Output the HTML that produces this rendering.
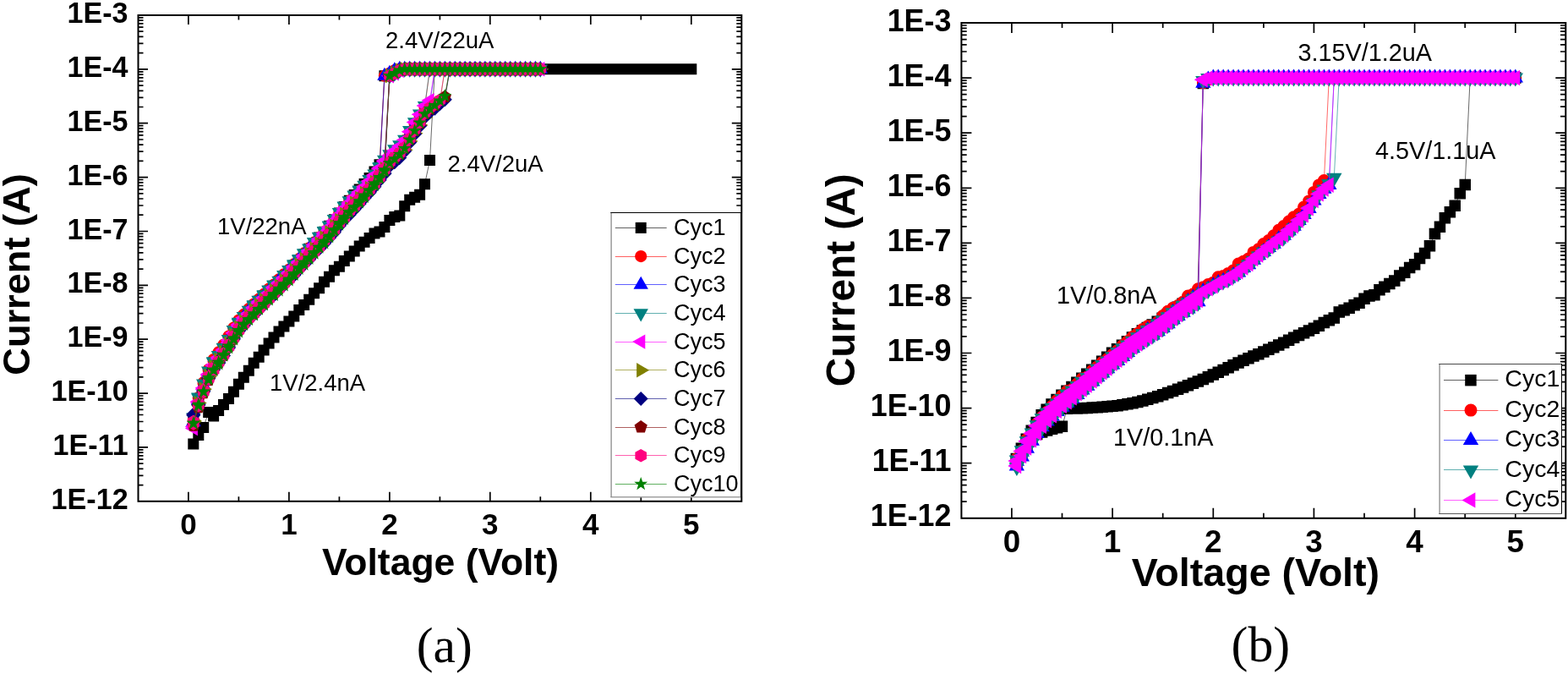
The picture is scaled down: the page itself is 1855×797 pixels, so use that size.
<!DOCTYPE html>
<html lang="en"><head><meta charset="utf-8"><title>I-V cycling characteristics</title>
<style>html,body{margin:0;padding:0;background:#fff;}body{width:1855px;height:797px;overflow:hidden;}svg{display:block;}text{white-space:pre;}</style></head><body>
<svg width="1855" height="797" viewBox="0 0 1855 797" role="img" aria-label="Current versus voltage cycling plots (a) and (b)">
<rect width="1855" height="797" fill="#fff"/>
<g id="plot-a">
<g>
<polyline fill="none" stroke="#000000" stroke-width="0.6" points="228.8,525 234.8,514.5 240.7,505.5 246.7,487.4 252.6,492 258.6,485.4 264.5,478.4 270.5,471.4 276.4,463.3 282.4,454.3 288.3,446.3 294.3,438.2 300.2,429.2 306.2,422.2 312.1,414.1 318.1,406.1 324,399.1 330,392 335.9,386 341.9,380 347.8,373.9 353.8,366.4 359.7,360.4 365.7,354.3 371.6,346.8 377.6,340.8 383.5,333.3 389.5,327.2 395.4,319.7 401.4,315.2 407.3,308.4 413.3,303.1 419.2,297.1 425.2,291 431.1,286.3 437.1,281.4 443,276 449,273.9 454.9,268.5 460.9,260.4 466.8,256.6 472.8,255.1 478.7,243.8 484.7,236.3 490.6,233.3 496.6,230.2 502.5,217.7 508.5,189.6 514.4,81.7 520.4,81.7 526.3,81.7 532.2,81.7 538.2,81.7 544.1,81.7 550.1,81.7 556,81.7 562,81.7 567.9,81.7 573.9,81.7 579.8,81.7 585.8,81.7 591.7,81.7 597.7,81.7 603.6,81.7 609.6,81.7 615.5,81.7 621.5,81.7 627.4,81.7 633.4,81.7 639.3,81.7 645.3,81.7 651.2,81.7 657.2,81.7 663.1,81.7 669.1,81.7 675,81.7 681,81.7 686.9,81.7 692.9,81.7 698.8,81.7 704.8,81.7 710.7,81.7 716.7,81.7 722.6,81.7 728.6,81.7 734.5,81.7 740.5,81.7 746.4,81.7 752.4,81.7 758.3,81.7 764.3,81.7 770.2,81.7 776.2,81.7 782.1,81.7 788.1,81.7 794,81.7 800,81.7 805.9,81.7 811.9,81.7 817.8,81.7"/>
<polyline fill="none" stroke="#000000" stroke-width="0.6" points="454.9,89.7 449,194.8 443,203 437.1,210.6 431.1,217.5 425.2,224.1 419.2,230.6 413.3,237.3 407.3,244.5 401.4,252 395.4,259.7 389.5,267.2 383.5,274.3 377.6,281.1 371.6,287.6 365.7,294.2 359.7,300.9 353.8,307.6 347.8,314.3 341.9,320.9 335.9,327.1 330,333 324,338.7 318.1,344.5 312.1,350.3 306.2,356.3 300.2,362.3 294.3,368.4 288.3,375 282.4,382.6 276.4,391.7 270.5,401.8 264.5,411.8 258.6,421 252.6,429.6 246.7,440.8 240.7,456.6 234.8,473.5 228.8,498"/>
<path fill="#000000" d="M222.3 518.5h13v13h-13ZM228.3 508h13v13h-13ZM234.2 499h13v13h-13ZM240.2 480.9h13v13h-13ZM246.1 485.5h13v13h-13ZM252.1 478.9h13v13h-13ZM258 471.9h13v13h-13ZM264 464.9h13v13h-13ZM269.9 456.8h13v13h-13ZM275.9 447.8h13v13h-13ZM281.8 439.8h13v13h-13ZM287.8 431.7h13v13h-13ZM293.7 422.7h13v13h-13ZM299.7 415.7h13v13h-13ZM305.6 407.6h13v13h-13ZM311.6 399.6h13v13h-13ZM317.5 392.6h13v13h-13ZM323.5 385.5h13v13h-13ZM329.4 379.5h13v13h-13ZM335.4 373.5h13v13h-13ZM341.3 367.4h13v13h-13ZM347.3 359.9h13v13h-13ZM353.2 353.9h13v13h-13ZM359.2 347.8h13v13h-13ZM365.1 340.3h13v13h-13ZM371.1 334.3h13v13h-13ZM377 326.8h13v13h-13ZM383 320.7h13v13h-13ZM388.9 313.2h13v13h-13ZM394.9 308.7h13v13h-13ZM400.8 301.9h13v13h-13ZM406.8 296.6h13v13h-13ZM412.7 290.6h13v13h-13ZM418.7 284.5h13v13h-13ZM424.6 279.8h13v13h-13ZM430.6 274.9h13v13h-13ZM436.5 269.5h13v13h-13ZM442.5 267.4h13v13h-13ZM448.4 262h13v13h-13ZM454.4 253.9h13v13h-13ZM460.3 250.1h13v13h-13ZM466.3 248.6h13v13h-13ZM472.2 237.3h13v13h-13ZM478.2 229.8h13v13h-13ZM484.1 226.8h13v13h-13ZM490.1 223.7h13v13h-13ZM496 211.2h13v13h-13ZM502 183.1h13v13h-13ZM507.9 75.2h13v13h-13ZM513.9 75.2h13v13h-13ZM519.8 75.2h13v13h-13ZM525.7 75.2h13v13h-13ZM531.7 75.2h13v13h-13ZM537.6 75.2h13v13h-13ZM543.6 75.2h13v13h-13ZM549.5 75.2h13v13h-13ZM555.5 75.2h13v13h-13ZM561.4 75.2h13v13h-13ZM567.4 75.2h13v13h-13ZM573.3 75.2h13v13h-13ZM579.3 75.2h13v13h-13ZM585.2 75.2h13v13h-13ZM591.2 75.2h13v13h-13ZM597.1 75.2h13v13h-13ZM603.1 75.2h13v13h-13ZM609 75.2h13v13h-13ZM615 75.2h13v13h-13ZM620.9 75.2h13v13h-13ZM626.9 75.2h13v13h-13ZM632.8 75.2h13v13h-13ZM638.8 75.2h13v13h-13ZM644.7 75.2h13v13h-13ZM650.7 75.2h13v13h-13ZM656.6 75.2h13v13h-13ZM662.6 75.2h13v13h-13ZM668.5 75.2h13v13h-13ZM674.5 75.2h13v13h-13ZM680.4 75.2h13v13h-13ZM686.4 75.2h13v13h-13ZM692.3 75.2h13v13h-13ZM698.3 75.2h13v13h-13ZM704.2 75.2h13v13h-13ZM710.2 75.2h13v13h-13ZM716.1 75.2h13v13h-13ZM722.1 75.2h13v13h-13ZM728 75.2h13v13h-13ZM734 75.2h13v13h-13ZM739.9 75.2h13v13h-13ZM745.9 75.2h13v13h-13ZM751.8 75.2h13v13h-13ZM757.8 75.2h13v13h-13ZM763.7 75.2h13v13h-13ZM769.7 75.2h13v13h-13ZM775.6 75.2h13v13h-13ZM781.6 75.2h13v13h-13ZM787.5 75.2h13v13h-13ZM793.5 75.2h13v13h-13ZM799.4 75.2h13v13h-13ZM805.4 75.2h13v13h-13ZM811.3 75.2h13v13h-13ZM448.4 83.2h13v13h-13ZM442.5 188.3h13v13h-13ZM436.5 196.5h13v13h-13ZM430.6 204.1h13v13h-13ZM424.6 211h13v13h-13ZM418.7 217.6h13v13h-13ZM412.7 224.1h13v13h-13ZM406.8 230.8h13v13h-13ZM400.8 238h13v13h-13ZM394.9 245.5h13v13h-13ZM388.9 253.2h13v13h-13ZM383 260.7h13v13h-13ZM377 267.8h13v13h-13ZM371.1 274.6h13v13h-13ZM365.1 281.1h13v13h-13ZM359.2 287.7h13v13h-13ZM353.2 294.4h13v13h-13ZM347.3 301.1h13v13h-13ZM341.3 307.8h13v13h-13ZM335.4 314.4h13v13h-13ZM329.4 320.6h13v13h-13ZM323.5 326.5h13v13h-13ZM317.5 332.2h13v13h-13ZM311.6 338h13v13h-13ZM305.6 343.8h13v13h-13ZM299.7 349.8h13v13h-13ZM293.7 355.8h13v13h-13ZM287.8 361.9h13v13h-13ZM281.8 368.5h13v13h-13ZM275.9 376.1h13v13h-13ZM269.9 385.2h13v13h-13ZM264 395.3h13v13h-13ZM258 405.3h13v13h-13ZM252.1 414.5h13v13h-13ZM246.1 423.1h13v13h-13ZM240.2 434.3h13v13h-13ZM234.2 450.1h13v13h-13ZM228.3 467h13v13h-13ZM222.3 491.5h13v13h-13Z"/>
</g>
<g>
<polyline fill="none" stroke="#ff0000" stroke-width="0.6" points="228.8,498.1 234.8,470.8 240.7,453.4 246.7,437.8 252.6,427.1 258.6,418.6 264.5,408.4 270.5,398.6 276.4,388.5 282.4,380.1 288.3,372.1 294.3,366.2 300.2,360.5 306.2,354.1 312.1,348.8 318.1,343 324,336.6 330,331.7 335.9,325.6 341.9,319.8 347.8,313.2 353.8,307.4 359.7,300.6 365.7,293.7 371.6,288 377.6,282 383.5,274.8 389.5,267.8 395.4,260.8 401.4,254.1 407.3,246.9 413.3,239.6 419.2,233.7 425.2,227.6 431.1,220.8 437.1,214 443,207.8 449,199.9 454.9,191.3 460.9,183.8 466.8,178.8 472.8,173.6 478.7,166 484.7,156.3 490.6,146.7 496.6,137.5 502.5,127.1 508.5,81.7 514.4,81.7 520.4,81.7 526.3,81.7 532.2,81.7 538.2,81.7 544.1,81.7 550.1,81.7 556,81.7 562,81.7 567.9,81.7 573.9,81.7 579.8,81.7 585.8,81.7 591.7,81.7 597.7,81.7 603.6,81.7 609.6,81.7 615.5,81.7 621.5,81.7 627.4,81.7 633.4,81.7 639.3,81.7"/>
<polyline fill="none" stroke="#ff0000" stroke-width="0.6" points="639.3,81.7 633.4,81.7 627.4,81.7 621.5,81.7 615.5,81.7 609.6,81.7 603.6,81.7 597.7,81.7 591.7,81.7 585.8,81.7 579.8,81.7 573.9,81.7 567.9,81.7 562,81.7 556,81.7 550.1,81.7 544.1,81.7 538.2,81.7 532.2,81.7 526.3,81.7 520.4,81.7 514.4,81.7 508.5,81.7 502.5,81.7 496.6,81.7 490.6,81.7 484.7,81.7 478.7,81.7 472.8,81.7 466.8,83.2 460.9,86.7 454.9,89.7 449,198.5 443,206.2 437.1,213.5 431.1,219.6 425.2,225.7 419.2,232.2 413.3,237.7 407.3,245.2 401.4,252.3 395.4,260.2 389.5,267.6 383.5,274.3 377.6,280.8 371.6,286.7 365.7,293.4 359.7,299.4 353.8,306.2 347.8,312.3 341.9,318.8 335.9,324.3 330,330.3 324,336.9 318.1,341.5 312.1,347.9 306.2,353.7 300.2,359.6 294.3,365.2 288.3,371.9 282.4,378.5 276.4,387.6 270.5,397.6 264.5,407.5 258.6,416.4 252.6,425 246.7,436.9 240.7,452.2 234.8,470.1 228.8,497.3"/>
<path fill="#ff0000" d="M221.7 498.1a7.1 7.1 0 1 0 14.2 0a7.1 7.1 0 1 0 -14.2 0ZM227.7 470.8a7.1 7.1 0 1 0 14.2 0a7.1 7.1 0 1 0 -14.2 0ZM233.6 453.4a7.1 7.1 0 1 0 14.2 0a7.1 7.1 0 1 0 -14.2 0ZM239.6 437.8a7.1 7.1 0 1 0 14.2 0a7.1 7.1 0 1 0 -14.2 0ZM245.5 427.1a7.1 7.1 0 1 0 14.2 0a7.1 7.1 0 1 0 -14.2 0ZM251.5 418.6a7.1 7.1 0 1 0 14.2 0a7.1 7.1 0 1 0 -14.2 0ZM257.4 408.4a7.1 7.1 0 1 0 14.2 0a7.1 7.1 0 1 0 -14.2 0ZM263.4 398.6a7.1 7.1 0 1 0 14.2 0a7.1 7.1 0 1 0 -14.2 0ZM269.3 388.5a7.1 7.1 0 1 0 14.2 0a7.1 7.1 0 1 0 -14.2 0ZM275.3 380.1a7.1 7.1 0 1 0 14.2 0a7.1 7.1 0 1 0 -14.2 0ZM281.2 372.1a7.1 7.1 0 1 0 14.2 0a7.1 7.1 0 1 0 -14.2 0ZM287.2 366.2a7.1 7.1 0 1 0 14.2 0a7.1 7.1 0 1 0 -14.2 0ZM293.1 360.5a7.1 7.1 0 1 0 14.2 0a7.1 7.1 0 1 0 -14.2 0ZM299.1 354.1a7.1 7.1 0 1 0 14.2 0a7.1 7.1 0 1 0 -14.2 0ZM305 348.8a7.1 7.1 0 1 0 14.2 0a7.1 7.1 0 1 0 -14.2 0ZM311 343a7.1 7.1 0 1 0 14.2 0a7.1 7.1 0 1 0 -14.2 0ZM316.9 336.6a7.1 7.1 0 1 0 14.2 0a7.1 7.1 0 1 0 -14.2 0ZM322.9 331.7a7.1 7.1 0 1 0 14.2 0a7.1 7.1 0 1 0 -14.2 0ZM328.8 325.6a7.1 7.1 0 1 0 14.2 0a7.1 7.1 0 1 0 -14.2 0ZM334.8 319.8a7.1 7.1 0 1 0 14.2 0a7.1 7.1 0 1 0 -14.2 0ZM340.7 313.2a7.1 7.1 0 1 0 14.2 0a7.1 7.1 0 1 0 -14.2 0ZM346.7 307.4a7.1 7.1 0 1 0 14.2 0a7.1 7.1 0 1 0 -14.2 0ZM352.6 300.6a7.1 7.1 0 1 0 14.2 0a7.1 7.1 0 1 0 -14.2 0ZM358.6 293.7a7.1 7.1 0 1 0 14.2 0a7.1 7.1 0 1 0 -14.2 0ZM364.5 288a7.1 7.1 0 1 0 14.2 0a7.1 7.1 0 1 0 -14.2 0ZM370.5 282a7.1 7.1 0 1 0 14.2 0a7.1 7.1 0 1 0 -14.2 0ZM376.4 274.8a7.1 7.1 0 1 0 14.2 0a7.1 7.1 0 1 0 -14.2 0ZM382.4 267.8a7.1 7.1 0 1 0 14.2 0a7.1 7.1 0 1 0 -14.2 0ZM388.3 260.8a7.1 7.1 0 1 0 14.2 0a7.1 7.1 0 1 0 -14.2 0ZM394.3 254.1a7.1 7.1 0 1 0 14.2 0a7.1 7.1 0 1 0 -14.2 0ZM400.2 246.9a7.1 7.1 0 1 0 14.2 0a7.1 7.1 0 1 0 -14.2 0ZM406.2 239.6a7.1 7.1 0 1 0 14.2 0a7.1 7.1 0 1 0 -14.2 0ZM412.1 233.7a7.1 7.1 0 1 0 14.2 0a7.1 7.1 0 1 0 -14.2 0ZM418.1 227.6a7.1 7.1 0 1 0 14.2 0a7.1 7.1 0 1 0 -14.2 0ZM424 220.8a7.1 7.1 0 1 0 14.2 0a7.1 7.1 0 1 0 -14.2 0ZM430 214a7.1 7.1 0 1 0 14.2 0a7.1 7.1 0 1 0 -14.2 0ZM435.9 207.8a7.1 7.1 0 1 0 14.2 0a7.1 7.1 0 1 0 -14.2 0ZM441.9 199.9a7.1 7.1 0 1 0 14.2 0a7.1 7.1 0 1 0 -14.2 0ZM447.8 191.3a7.1 7.1 0 1 0 14.2 0a7.1 7.1 0 1 0 -14.2 0ZM453.8 183.8a7.1 7.1 0 1 0 14.2 0a7.1 7.1 0 1 0 -14.2 0ZM459.7 178.8a7.1 7.1 0 1 0 14.2 0a7.1 7.1 0 1 0 -14.2 0ZM465.7 173.6a7.1 7.1 0 1 0 14.2 0a7.1 7.1 0 1 0 -14.2 0ZM471.6 166a7.1 7.1 0 1 0 14.2 0a7.1 7.1 0 1 0 -14.2 0ZM477.6 156.3a7.1 7.1 0 1 0 14.2 0a7.1 7.1 0 1 0 -14.2 0ZM483.5 146.7a7.1 7.1 0 1 0 14.2 0a7.1 7.1 0 1 0 -14.2 0ZM489.5 137.5a7.1 7.1 0 1 0 14.2 0a7.1 7.1 0 1 0 -14.2 0ZM495.4 127.1a7.1 7.1 0 1 0 14.2 0a7.1 7.1 0 1 0 -14.2 0ZM501.4 81.7a7.1 7.1 0 1 0 14.2 0a7.1 7.1 0 1 0 -14.2 0ZM507.3 81.7a7.1 7.1 0 1 0 14.2 0a7.1 7.1 0 1 0 -14.2 0ZM513.2 81.7a7.1 7.1 0 1 0 14.2 0a7.1 7.1 0 1 0 -14.2 0ZM519.2 81.7a7.1 7.1 0 1 0 14.2 0a7.1 7.1 0 1 0 -14.2 0ZM525.1 81.7a7.1 7.1 0 1 0 14.2 0a7.1 7.1 0 1 0 -14.2 0ZM531.1 81.7a7.1 7.1 0 1 0 14.2 0a7.1 7.1 0 1 0 -14.2 0ZM537 81.7a7.1 7.1 0 1 0 14.2 0a7.1 7.1 0 1 0 -14.2 0ZM543 81.7a7.1 7.1 0 1 0 14.2 0a7.1 7.1 0 1 0 -14.2 0ZM548.9 81.7a7.1 7.1 0 1 0 14.2 0a7.1 7.1 0 1 0 -14.2 0ZM554.9 81.7a7.1 7.1 0 1 0 14.2 0a7.1 7.1 0 1 0 -14.2 0ZM560.8 81.7a7.1 7.1 0 1 0 14.2 0a7.1 7.1 0 1 0 -14.2 0ZM566.8 81.7a7.1 7.1 0 1 0 14.2 0a7.1 7.1 0 1 0 -14.2 0ZM572.7 81.7a7.1 7.1 0 1 0 14.2 0a7.1 7.1 0 1 0 -14.2 0ZM578.7 81.7a7.1 7.1 0 1 0 14.2 0a7.1 7.1 0 1 0 -14.2 0ZM584.6 81.7a7.1 7.1 0 1 0 14.2 0a7.1 7.1 0 1 0 -14.2 0ZM590.6 81.7a7.1 7.1 0 1 0 14.2 0a7.1 7.1 0 1 0 -14.2 0ZM596.5 81.7a7.1 7.1 0 1 0 14.2 0a7.1 7.1 0 1 0 -14.2 0ZM602.5 81.7a7.1 7.1 0 1 0 14.2 0a7.1 7.1 0 1 0 -14.2 0ZM608.4 81.7a7.1 7.1 0 1 0 14.2 0a7.1 7.1 0 1 0 -14.2 0ZM614.4 81.7a7.1 7.1 0 1 0 14.2 0a7.1 7.1 0 1 0 -14.2 0ZM620.3 81.7a7.1 7.1 0 1 0 14.2 0a7.1 7.1 0 1 0 -14.2 0ZM626.3 81.7a7.1 7.1 0 1 0 14.2 0a7.1 7.1 0 1 0 -14.2 0ZM632.2 81.7a7.1 7.1 0 1 0 14.2 0a7.1 7.1 0 1 0 -14.2 0ZM495.4 81.7a7.1 7.1 0 1 0 14.2 0a7.1 7.1 0 1 0 -14.2 0ZM489.5 81.7a7.1 7.1 0 1 0 14.2 0a7.1 7.1 0 1 0 -14.2 0ZM483.5 81.7a7.1 7.1 0 1 0 14.2 0a7.1 7.1 0 1 0 -14.2 0ZM477.6 81.7a7.1 7.1 0 1 0 14.2 0a7.1 7.1 0 1 0 -14.2 0ZM471.6 81.7a7.1 7.1 0 1 0 14.2 0a7.1 7.1 0 1 0 -14.2 0ZM465.7 81.7a7.1 7.1 0 1 0 14.2 0a7.1 7.1 0 1 0 -14.2 0ZM459.7 83.2a7.1 7.1 0 1 0 14.2 0a7.1 7.1 0 1 0 -14.2 0ZM453.8 86.7a7.1 7.1 0 1 0 14.2 0a7.1 7.1 0 1 0 -14.2 0ZM447.8 89.7a7.1 7.1 0 1 0 14.2 0a7.1 7.1 0 1 0 -14.2 0ZM441.9 198.5a7.1 7.1 0 1 0 14.2 0a7.1 7.1 0 1 0 -14.2 0ZM435.9 206.2a7.1 7.1 0 1 0 14.2 0a7.1 7.1 0 1 0 -14.2 0ZM430 213.5a7.1 7.1 0 1 0 14.2 0a7.1 7.1 0 1 0 -14.2 0ZM424 219.6a7.1 7.1 0 1 0 14.2 0a7.1 7.1 0 1 0 -14.2 0ZM418.1 225.7a7.1 7.1 0 1 0 14.2 0a7.1 7.1 0 1 0 -14.2 0ZM412.1 232.2a7.1 7.1 0 1 0 14.2 0a7.1 7.1 0 1 0 -14.2 0ZM406.2 237.7a7.1 7.1 0 1 0 14.2 0a7.1 7.1 0 1 0 -14.2 0ZM400.2 245.2a7.1 7.1 0 1 0 14.2 0a7.1 7.1 0 1 0 -14.2 0ZM394.3 252.3a7.1 7.1 0 1 0 14.2 0a7.1 7.1 0 1 0 -14.2 0ZM388.3 260.2a7.1 7.1 0 1 0 14.2 0a7.1 7.1 0 1 0 -14.2 0ZM382.4 267.6a7.1 7.1 0 1 0 14.2 0a7.1 7.1 0 1 0 -14.2 0ZM376.4 274.3a7.1 7.1 0 1 0 14.2 0a7.1 7.1 0 1 0 -14.2 0ZM370.5 280.8a7.1 7.1 0 1 0 14.2 0a7.1 7.1 0 1 0 -14.2 0ZM364.5 286.7a7.1 7.1 0 1 0 14.2 0a7.1 7.1 0 1 0 -14.2 0ZM358.6 293.4a7.1 7.1 0 1 0 14.2 0a7.1 7.1 0 1 0 -14.2 0ZM352.6 299.4a7.1 7.1 0 1 0 14.2 0a7.1 7.1 0 1 0 -14.2 0ZM346.7 306.2a7.1 7.1 0 1 0 14.2 0a7.1 7.1 0 1 0 -14.2 0ZM340.7 312.3a7.1 7.1 0 1 0 14.2 0a7.1 7.1 0 1 0 -14.2 0ZM334.8 318.8a7.1 7.1 0 1 0 14.2 0a7.1 7.1 0 1 0 -14.2 0ZM328.8 324.3a7.1 7.1 0 1 0 14.2 0a7.1 7.1 0 1 0 -14.2 0ZM322.9 330.3a7.1 7.1 0 1 0 14.2 0a7.1 7.1 0 1 0 -14.2 0ZM316.9 336.9a7.1 7.1 0 1 0 14.2 0a7.1 7.1 0 1 0 -14.2 0ZM311 341.5a7.1 7.1 0 1 0 14.2 0a7.1 7.1 0 1 0 -14.2 0ZM305 347.9a7.1 7.1 0 1 0 14.2 0a7.1 7.1 0 1 0 -14.2 0ZM299.1 353.7a7.1 7.1 0 1 0 14.2 0a7.1 7.1 0 1 0 -14.2 0ZM293.1 359.6a7.1 7.1 0 1 0 14.2 0a7.1 7.1 0 1 0 -14.2 0ZM287.2 365.2a7.1 7.1 0 1 0 14.2 0a7.1 7.1 0 1 0 -14.2 0ZM281.2 371.9a7.1 7.1 0 1 0 14.2 0a7.1 7.1 0 1 0 -14.2 0ZM275.3 378.5a7.1 7.1 0 1 0 14.2 0a7.1 7.1 0 1 0 -14.2 0ZM269.3 387.6a7.1 7.1 0 1 0 14.2 0a7.1 7.1 0 1 0 -14.2 0ZM263.4 397.6a7.1 7.1 0 1 0 14.2 0a7.1 7.1 0 1 0 -14.2 0ZM257.4 407.5a7.1 7.1 0 1 0 14.2 0a7.1 7.1 0 1 0 -14.2 0ZM251.5 416.4a7.1 7.1 0 1 0 14.2 0a7.1 7.1 0 1 0 -14.2 0ZM245.5 425a7.1 7.1 0 1 0 14.2 0a7.1 7.1 0 1 0 -14.2 0ZM239.6 436.9a7.1 7.1 0 1 0 14.2 0a7.1 7.1 0 1 0 -14.2 0ZM233.6 452.2a7.1 7.1 0 1 0 14.2 0a7.1 7.1 0 1 0 -14.2 0ZM227.7 470.1a7.1 7.1 0 1 0 14.2 0a7.1 7.1 0 1 0 -14.2 0ZM221.7 497.3a7.1 7.1 0 1 0 14.2 0a7.1 7.1 0 1 0 -14.2 0Z"/>
</g>
<g>
<polyline fill="none" stroke="#0000ff" stroke-width="0.6" points="228.8,499.1 234.8,473.8 240.7,456.6 246.7,441.9 252.6,430.8 258.6,422.3 264.5,412.7 270.5,403.1 276.4,392.9 282.4,383.5 288.3,376.2 294.3,369.1 300.2,362.6 306.2,356.8 312.1,350.2 318.1,344.3 324,339.2 330,333.5 335.9,327.8 341.9,321.4 347.8,314.7 353.8,307.7 359.7,301.9 365.7,296.1 371.6,289.7 377.6,283 383.5,276.6 389.5,269.5 395.4,262.2 401.4,254.7 407.3,248.7 413.3,241.5 419.2,234.6 425.2,229 431.1,222.4 437.1,216.2 443,209.9 449,202 454.9,193.5 460.9,185.9 466.8,181.1 472.8,176.3 478.7,168.3 484.7,158 490.6,148.2 496.6,138.4 502.5,129.6 508.5,122.6 514.4,81.7 520.4,81.7 526.3,81.7 532.2,81.7 538.2,81.7 544.1,81.7 550.1,81.7 556,81.7 562,81.7 567.9,81.7 573.9,81.7 579.8,81.7 585.8,81.7 591.7,81.7 597.7,81.7 603.6,81.7 609.6,81.7 615.5,81.7 621.5,81.7 627.4,81.7 633.4,81.7 639.3,81.7"/>
<polyline fill="none" stroke="#0000ff" stroke-width="0.6" points="639.3,81.7 633.4,81.7 627.4,81.7 621.5,81.7 615.5,81.7 609.6,81.7 603.6,81.7 597.7,81.7 591.7,81.7 585.8,81.7 579.8,81.7 573.9,81.7 567.9,81.7 562,81.7 556,81.7 550.1,81.7 544.1,81.7 538.2,81.7 532.2,81.7 526.3,81.7 520.4,81.7 514.4,81.7 508.5,81.7 502.5,81.7 496.6,81.7 490.6,81.7 484.7,81.7 478.7,81.7 472.8,81.7 466.8,83.2 460.9,86.7 454.9,89.7 449,201.3 443,208.1 437.1,215.2 431.1,222.3 425.2,228.7 419.2,233.9 413.3,239.7 407.3,247.6 401.4,254 395.4,262 389.5,268.4 383.5,275.9 377.6,282.5 371.6,288.6 365.7,294.3 359.7,301.2 353.8,306.8 347.8,313.4 341.9,319.8 335.9,326.7 330,331.6 324,338.5 318.1,344.2 312.1,350.3 306.2,355.6 300.2,361.3 294.3,367.6 288.3,375.1 282.4,383 276.4,391.8 270.5,401.6 264.5,411.5 258.6,421.5 252.6,429.8 246.7,439.7 240.7,455.5 234.8,473 228.8,498.5"/>
<path fill="#0000ff" d="M228.8 489.1L237.5 504.2L220.1 504.2ZM234.8 463.8L243.5 478.9L226.1 478.9ZM240.7 446.6L249.4 461.7L232 461.7ZM246.7 431.9L255.4 447L238 447ZM252.6 420.8L261.3 435.9L243.9 435.9ZM258.6 412.3L267.3 427.4L249.9 427.4ZM264.5 402.7L273.2 417.8L255.8 417.8ZM270.5 393.1L279.2 408.2L261.8 408.2ZM276.4 382.9L285.1 398L267.7 398ZM282.4 373.5L291.1 388.6L273.7 388.6ZM288.3 366.2L297 381.3L279.6 381.3ZM294.3 359.1L303 374.2L285.6 374.2ZM300.2 352.6L308.9 367.7L291.5 367.7ZM306.2 346.8L314.9 361.9L297.5 361.9ZM312.1 340.2L320.8 355.3L303.4 355.3ZM318.1 334.3L326.8 349.4L309.4 349.4ZM324 329.2L332.7 344.3L315.3 344.3ZM330 323.5L338.7 338.6L321.3 338.6ZM335.9 317.8L344.6 332.9L327.2 332.9ZM341.9 311.4L350.6 326.5L333.2 326.5ZM347.8 304.7L356.5 319.8L339.1 319.8ZM353.8 297.7L362.5 312.8L345.1 312.8ZM359.7 291.9L368.4 307L351 307ZM365.7 286.1L374.4 301.2L357 301.2ZM371.6 279.7L380.3 294.8L362.9 294.8ZM377.6 273L386.3 288.1L368.9 288.1ZM383.5 266.6L392.2 281.7L374.8 281.7ZM389.5 259.5L398.2 274.6L380.8 274.6ZM395.4 252.2L404.1 267.3L386.7 267.3ZM401.4 244.7L410.1 259.8L392.7 259.8ZM407.3 238.7L416 253.8L398.6 253.8ZM413.3 231.5L422 246.6L404.6 246.6ZM419.2 224.6L427.9 239.7L410.5 239.7ZM425.2 219L433.9 234.1L416.5 234.1ZM431.1 212.4L439.8 227.5L422.4 227.5ZM437.1 206.2L445.8 221.3L428.4 221.3ZM443 199.9L451.7 215L434.3 215ZM449 192L457.7 207.1L440.3 207.1ZM454.9 183.5L463.6 198.6L446.2 198.6ZM460.9 175.9L469.6 191L452.2 191ZM466.8 171.1L475.5 186.2L458.1 186.2ZM472.8 166.3L481.5 181.4L464.1 181.4ZM478.7 158.3L487.4 173.4L470 173.4ZM484.7 148L493.4 163.1L476 163.1ZM490.6 138.2L499.3 153.3L481.9 153.3ZM496.6 128.4L505.3 143.5L487.9 143.5ZM502.5 119.6L511.2 134.7L493.8 134.7ZM508.5 112.6L517.2 127.7L499.8 127.7ZM514.4 71.7L523.1 86.8L505.7 86.8ZM520.4 71.7L529.1 86.8L511.7 86.8ZM526.3 71.7L535 86.8L517.6 86.8ZM532.2 71.7L540.9 86.8L523.5 86.8ZM538.2 71.7L546.9 86.8L529.5 86.8ZM544.1 71.7L552.8 86.8L535.4 86.8ZM550.1 71.7L558.8 86.8L541.4 86.8ZM556 71.7L564.7 86.8L547.3 86.8ZM562 71.7L570.7 86.8L553.3 86.8ZM567.9 71.7L576.6 86.8L559.2 86.8ZM573.9 71.7L582.6 86.8L565.2 86.8ZM579.8 71.7L588.5 86.8L571.1 86.8ZM585.8 71.7L594.5 86.8L577.1 86.8ZM591.7 71.7L600.4 86.8L583 86.8ZM597.7 71.7L606.4 86.8L589 86.8ZM603.6 71.7L612.3 86.8L594.9 86.8ZM609.6 71.7L618.3 86.8L600.9 86.8ZM615.5 71.7L624.2 86.8L606.8 86.8ZM621.5 71.7L630.2 86.8L612.8 86.8ZM627.4 71.7L636.1 86.8L618.7 86.8ZM633.4 71.7L642.1 86.8L624.7 86.8ZM639.3 71.7L648 86.8L630.6 86.8ZM508.5 71.7L517.2 86.8L499.8 86.8ZM502.5 71.7L511.2 86.8L493.8 86.8ZM496.6 71.7L505.3 86.8L487.9 86.8ZM490.6 71.7L499.3 86.8L481.9 86.8ZM484.7 71.7L493.4 86.8L476 86.8ZM478.7 71.7L487.4 86.8L470 86.8ZM472.8 71.7L481.5 86.8L464.1 86.8ZM466.8 73.2L475.5 88.3L458.1 88.3ZM460.9 76.7L469.6 91.8L452.2 91.8ZM454.9 79.7L463.6 94.8L446.2 94.8ZM449 191.3L457.7 206.4L440.3 206.4ZM443 198.1L451.7 213.2L434.3 213.2ZM437.1 205.2L445.8 220.3L428.4 220.3ZM431.1 212.3L439.8 227.4L422.4 227.4ZM425.2 218.7L433.9 233.8L416.5 233.8ZM419.2 223.9L427.9 239L410.5 239ZM413.3 229.7L422 244.8L404.6 244.8ZM407.3 237.6L416 252.7L398.6 252.7ZM401.4 244L410.1 259.1L392.7 259.1ZM395.4 252L404.1 267.1L386.7 267.1ZM389.5 258.4L398.2 273.5L380.8 273.5ZM383.5 265.9L392.2 281L374.8 281ZM377.6 272.5L386.3 287.6L368.9 287.6ZM371.6 278.6L380.3 293.7L362.9 293.7ZM365.7 284.3L374.4 299.4L357 299.4ZM359.7 291.2L368.4 306.3L351 306.3ZM353.8 296.8L362.5 311.9L345.1 311.9ZM347.8 303.4L356.5 318.5L339.1 318.5ZM341.9 309.8L350.6 324.9L333.2 324.9ZM335.9 316.7L344.6 331.8L327.2 331.8ZM330 321.6L338.7 336.7L321.3 336.7ZM324 328.5L332.7 343.6L315.3 343.6ZM318.1 334.2L326.8 349.3L309.4 349.3ZM312.1 340.3L320.8 355.4L303.4 355.4ZM306.2 345.6L314.9 360.7L297.5 360.7ZM300.2 351.3L308.9 366.4L291.5 366.4ZM294.3 357.6L303 372.7L285.6 372.7ZM288.3 365.1L297 380.2L279.6 380.2ZM282.4 373L291.1 388.1L273.7 388.1ZM276.4 381.8L285.1 396.9L267.7 396.9ZM270.5 391.6L279.2 406.7L261.8 406.7ZM264.5 401.5L273.2 416.6L255.8 416.6ZM258.6 411.5L267.3 426.6L249.9 426.6ZM252.6 419.8L261.3 434.9L243.9 434.9ZM246.7 429.7L255.4 444.8L238 444.8ZM240.7 445.5L249.4 460.6L232 460.6ZM234.8 463L243.5 478.1L226.1 478.1ZM228.8 488.5L237.5 503.6L220.1 503.6Z"/>
</g>
<g>
<polyline fill="none" stroke="#008080" stroke-width="0.6" points="228.8,493.7 234.8,469.7 240.7,453.7 246.7,438.6 252.6,427.4 258.6,420.5 264.5,410.8 270.5,401.1 276.4,390.2 282.4,382.1 288.3,374.2 294.3,366.9 300.2,361.6 306.2,355.3 312.1,349.5 318.1,342.5 324,336.7 330,331.9 335.9,325.3 341.9,319.4 347.8,312.4 353.8,307 359.7,299.8 365.7,293.7 371.6,286.2 377.6,280.3 383.5,273.1 389.5,267.2 395.4,259.2 401.4,251.1 407.3,243.7 413.3,237.4 419.2,230.5 425.2,224.7 431.1,218.9 437.1,212.6 443,205.7 449,198 454.9,189.3 460.9,182.4 466.8,176.4 472.8,171.3 478.7,164.8 484.7,154.1 490.6,144.4 496.6,134.6 502.5,125 508.5,81.7 514.4,81.7 520.4,81.7 526.3,81.7 532.2,81.7 538.2,81.7 544.1,81.7 550.1,81.7 556,81.7 562,81.7 567.9,81.7 573.9,81.7 579.8,81.7 585.8,81.7 591.7,81.7 597.7,81.7 603.6,81.7 609.6,81.7 615.5,81.7 621.5,81.7 627.4,81.7 633.4,81.7 639.3,81.7"/>
<polyline fill="none" stroke="#008080" stroke-width="0.6" points="639.3,81.7 633.4,81.7 627.4,81.7 621.5,81.7 615.5,81.7 609.6,81.7 603.6,81.7 597.7,81.7 591.7,81.7 585.8,81.7 579.8,81.7 573.9,81.7 567.9,81.7 562,81.7 556,81.7 550.1,81.7 544.1,81.7 538.2,81.7 532.2,81.7 526.3,81.7 520.4,81.7 514.4,81.7 508.5,81.7 502.5,81.7 496.6,81.7 490.6,81.7 484.7,81.7 478.7,81.7 472.8,83.2 466.8,86.7 460.9,89.7 454.9,188.8 449,197.1 443,205.5 437.1,212.1 431.1,219.3 425.2,225.5 419.2,231.2 413.3,237.6 407.3,244.2 401.4,251.1 395.4,259.2 389.5,266.5 383.5,273.8 377.6,279.8 371.6,286.4 365.7,293.7 359.7,299.4 353.8,306.2 347.8,313.5 341.9,319.1 335.9,325.1 330,331.8 324,337.4 318.1,343.3 312.1,348.3 306.2,354.9 300.2,360.3 294.3,366.8 288.3,374.1 282.4,380.8 276.4,390.3 270.5,401.4 264.5,411.5 258.6,420 252.6,428.3 246.7,438.7 240.7,453.7 234.8,470.5 228.8,493.5"/>
<path fill="#008080" d="M228.8 503.7L237.5 488.6L220.1 488.6ZM234.8 479.7L243.5 464.6L226.1 464.6ZM240.7 463.7L249.4 448.6L232 448.6ZM246.7 448.6L255.4 433.5L238 433.5ZM252.6 437.4L261.3 422.3L243.9 422.3ZM258.6 430.5L267.3 415.4L249.9 415.4ZM264.5 420.8L273.2 405.7L255.8 405.7ZM270.5 411.1L279.2 396L261.8 396ZM276.4 400.2L285.1 385.1L267.7 385.1ZM282.4 392.1L291.1 377L273.7 377ZM288.3 384.2L297 369.1L279.6 369.1ZM294.3 376.9L303 361.8L285.6 361.8ZM300.2 371.6L308.9 356.5L291.5 356.5ZM306.2 365.3L314.9 350.2L297.5 350.2ZM312.1 359.5L320.8 344.4L303.4 344.4ZM318.1 352.5L326.8 337.4L309.4 337.4ZM324 346.7L332.7 331.6L315.3 331.6ZM330 341.9L338.7 326.8L321.3 326.8ZM335.9 335.3L344.6 320.2L327.2 320.2ZM341.9 329.4L350.6 314.3L333.2 314.3ZM347.8 322.4L356.5 307.3L339.1 307.3ZM353.8 317L362.5 301.9L345.1 301.9ZM359.7 309.8L368.4 294.7L351 294.7ZM365.7 303.7L374.4 288.6L357 288.6ZM371.6 296.2L380.3 281.1L362.9 281.1ZM377.6 290.3L386.3 275.2L368.9 275.2ZM383.5 283.1L392.2 268L374.8 268ZM389.5 277.2L398.2 262.1L380.8 262.1ZM395.4 269.2L404.1 254.1L386.7 254.1ZM401.4 261.1L410.1 246L392.7 246ZM407.3 253.7L416 238.6L398.6 238.6ZM413.3 247.4L422 232.3L404.6 232.3ZM419.2 240.5L427.9 225.4L410.5 225.4ZM425.2 234.7L433.9 219.6L416.5 219.6ZM431.1 228.9L439.8 213.8L422.4 213.8ZM437.1 222.6L445.8 207.5L428.4 207.5ZM443 215.7L451.7 200.6L434.3 200.6ZM449 208L457.7 192.9L440.3 192.9ZM454.9 199.3L463.6 184.2L446.2 184.2ZM460.9 192.4L469.6 177.3L452.2 177.3ZM466.8 186.4L475.5 171.3L458.1 171.3ZM472.8 181.3L481.5 166.2L464.1 166.2ZM478.7 174.8L487.4 159.7L470 159.7ZM484.7 164.1L493.4 149L476 149ZM490.6 154.4L499.3 139.3L481.9 139.3ZM496.6 144.6L505.3 129.5L487.9 129.5ZM502.5 135L511.2 119.9L493.8 119.9ZM508.5 91.7L517.2 76.6L499.8 76.6ZM514.4 91.7L523.1 76.6L505.7 76.6ZM520.4 91.7L529.1 76.6L511.7 76.6ZM526.3 91.7L535 76.6L517.6 76.6ZM532.2 91.7L540.9 76.6L523.5 76.6ZM538.2 91.7L546.9 76.6L529.5 76.6ZM544.1 91.7L552.8 76.6L535.4 76.6ZM550.1 91.7L558.8 76.6L541.4 76.6ZM556 91.7L564.7 76.6L547.3 76.6ZM562 91.7L570.7 76.6L553.3 76.6ZM567.9 91.7L576.6 76.6L559.2 76.6ZM573.9 91.7L582.6 76.6L565.2 76.6ZM579.8 91.7L588.5 76.6L571.1 76.6ZM585.8 91.7L594.5 76.6L577.1 76.6ZM591.7 91.7L600.4 76.6L583 76.6ZM597.7 91.7L606.4 76.6L589 76.6ZM603.6 91.7L612.3 76.6L594.9 76.6ZM609.6 91.7L618.3 76.6L600.9 76.6ZM615.5 91.7L624.2 76.6L606.8 76.6ZM621.5 91.7L630.2 76.6L612.8 76.6ZM627.4 91.7L636.1 76.6L618.7 76.6ZM633.4 91.7L642.1 76.6L624.7 76.6ZM639.3 91.7L648 76.6L630.6 76.6ZM502.5 91.7L511.2 76.6L493.8 76.6ZM496.6 91.7L505.3 76.6L487.9 76.6ZM490.6 91.7L499.3 76.6L481.9 76.6ZM484.7 91.7L493.4 76.6L476 76.6ZM478.7 91.7L487.4 76.6L470 76.6ZM472.8 93.2L481.5 78.1L464.1 78.1ZM466.8 96.7L475.5 81.6L458.1 81.6ZM460.9 99.7L469.6 84.6L452.2 84.6ZM454.9 198.8L463.6 183.7L446.2 183.7ZM449 207.1L457.7 192L440.3 192ZM443 215.5L451.7 200.4L434.3 200.4ZM437.1 222.1L445.8 207L428.4 207ZM431.1 229.3L439.8 214.2L422.4 214.2ZM425.2 235.5L433.9 220.4L416.5 220.4ZM419.2 241.2L427.9 226.1L410.5 226.1ZM413.3 247.6L422 232.5L404.6 232.5ZM407.3 254.2L416 239.1L398.6 239.1ZM389.5 276.5L398.2 261.4L380.8 261.4ZM383.5 283.8L392.2 268.7L374.8 268.7ZM377.6 289.8L386.3 274.7L368.9 274.7ZM371.6 296.4L380.3 281.3L362.9 281.3ZM359.7 309.4L368.4 294.3L351 294.3ZM353.8 316.2L362.5 301.1L345.1 301.1ZM347.8 323.5L356.5 308.4L339.1 308.4ZM341.9 329.1L350.6 314L333.2 314ZM335.9 335.1L344.6 320L327.2 320ZM330 341.8L338.7 326.7L321.3 326.7ZM324 347.4L332.7 332.3L315.3 332.3ZM318.1 353.3L326.8 338.2L309.4 338.2ZM312.1 358.3L320.8 343.2L303.4 343.2ZM306.2 364.9L314.9 349.8L297.5 349.8ZM300.2 370.3L308.9 355.2L291.5 355.2ZM294.3 376.8L303 361.7L285.6 361.7ZM288.3 384.1L297 369L279.6 369ZM282.4 390.8L291.1 375.7L273.7 375.7ZM276.4 400.3L285.1 385.2L267.7 385.2ZM270.5 411.4L279.2 396.3L261.8 396.3ZM264.5 421.5L273.2 406.4L255.8 406.4ZM258.6 430L267.3 414.9L249.9 414.9ZM252.6 438.3L261.3 423.2L243.9 423.2ZM246.7 448.7L255.4 433.6L238 433.6ZM234.8 480.5L243.5 465.4L226.1 465.4ZM228.8 503.5L237.5 488.4L220.1 488.4Z"/>
</g>
<g>
<polyline fill="none" stroke="#ff00ff" stroke-width="0.6" points="228.8,506.5 234.8,475.9 240.7,460.2 246.7,444 252.6,432.5 258.6,424.2 264.5,414.7 270.5,405.1 276.4,394.1 282.4,385.5 288.3,378.4 294.3,371.8 300.2,364.6 306.2,358.7 312.1,353.5 318.1,346.9 324,340.7 330,335.8 335.9,329.5 341.9,323.7 347.8,316.9 353.8,310.4 359.7,303.6 365.7,296.9 371.6,291.3 377.6,284.6 383.5,278.1 389.5,271.3 395.4,263 401.4,256.3 407.3,248.8 413.3,241.3 419.2,234.9 425.2,228 431.1,222.5 437.1,215 443,208.2 449,199.5 454.9,190.9 460.9,184.1 466.8,178.3 472.8,173 478.7,165.6 484.7,155.8 490.6,144.5 496.6,135.2 502.5,125.1 508.5,118.7 514.4,81.7 520.4,81.7 526.3,81.7 532.2,81.7 538.2,81.7 544.1,81.7 550.1,81.7 556,81.7 562,81.7 567.9,81.7 573.9,81.7 579.8,81.7 585.8,81.7 591.7,81.7 597.7,81.7 603.6,81.7 609.6,81.7 615.5,81.7 621.5,81.7 627.4,81.7 633.4,81.7 639.3,81.7"/>
<polyline fill="none" stroke="#ff00ff" stroke-width="0.6" points="639.3,81.7 633.4,81.7 627.4,81.7 621.5,81.7 615.5,81.7 609.6,81.7 603.6,81.7 597.7,81.7 591.7,81.7 585.8,81.7 579.8,81.7 573.9,81.7 567.9,81.7 562,81.7 556,81.7 550.1,81.7 544.1,81.7 538.2,81.7 532.2,81.7 526.3,81.7 520.4,81.7 514.4,81.7 508.5,81.7 502.5,81.7 496.6,81.7 490.6,81.7 484.7,81.7 478.7,81.7 472.8,83.2 466.8,86.7 460.9,89.7 454.9,190.1 449,198.7 443,207.1 437.1,213.9 431.1,220.7 425.2,227.3 419.2,232.8 413.3,239.7 407.3,246.3 401.4,253.7 395.4,261.1 389.5,268.8 383.5,275.8 377.6,282.8 371.6,289.4 365.7,296.2 359.7,302.2 353.8,309.4 347.8,315.3 341.9,322.2 335.9,328.2 330,334.2 324,339.5 318.1,346.2 312.1,351.9 306.2,357 300.2,363.6 294.3,370.4 288.3,375.7 282.4,383.7 276.4,393.5 270.5,402.6 264.5,413.6 258.6,422.6 252.6,431.4 246.7,442.4 240.7,458.8 234.8,474.8 228.8,504.6"/>
<path fill="#ff00ff" d="M218.8 506.5L233.9 497.8L233.9 515.2ZM224.8 475.9L239.9 467.2L239.9 484.6ZM230.7 460.2L245.8 451.5L245.8 468.9ZM236.7 444L251.8 435.3L251.8 452.7ZM242.6 432.5L257.7 423.8L257.7 441.2ZM248.6 424.2L263.7 415.5L263.7 432.9ZM254.5 414.7L269.6 406L269.6 423.4ZM260.5 405.1L275.6 396.4L275.6 413.8ZM266.4 394.1L281.5 385.4L281.5 402.8ZM272.4 385.5L287.5 376.8L287.5 394.2ZM278.3 378.4L293.4 369.7L293.4 387.1ZM284.3 371.8L299.4 363.1L299.4 380.5ZM290.2 364.6L305.3 355.9L305.3 373.3ZM296.2 358.7L311.3 350L311.3 367.4ZM302.1 353.5L317.2 344.8L317.2 362.2ZM308.1 346.9L323.2 338.2L323.2 355.6ZM314 340.7L329.1 332L329.1 349.4ZM320 335.8L335.1 327.1L335.1 344.5ZM325.9 329.5L341 320.8L341 338.2ZM331.9 323.7L347 315L347 332.4ZM337.8 316.9L352.9 308.2L352.9 325.6ZM343.8 310.4L358.9 301.7L358.9 319.1ZM349.7 303.6L364.8 294.9L364.8 312.3ZM355.7 296.9L370.8 288.2L370.8 305.6ZM361.6 291.3L376.7 282.6L376.7 300ZM367.6 284.6L382.7 275.9L382.7 293.3ZM373.5 278.1L388.6 269.4L388.6 286.8ZM379.5 271.3L394.6 262.6L394.6 280ZM385.4 263L400.5 254.3L400.5 271.7ZM391.4 256.3L406.5 247.6L406.5 265ZM397.3 248.8L412.4 240.1L412.4 257.5ZM403.3 241.3L418.4 232.6L418.4 250ZM409.2 234.9L424.3 226.2L424.3 243.6ZM415.2 228L430.3 219.3L430.3 236.7ZM421.1 222.5L436.2 213.8L436.2 231.2ZM427.1 215L442.2 206.3L442.2 223.7ZM433 208.2L448.1 199.5L448.1 216.9ZM439 199.5L454.1 190.8L454.1 208.2ZM444.9 190.9L460 182.2L460 199.6ZM450.9 184.1L466 175.4L466 192.8ZM456.8 178.3L471.9 169.6L471.9 187ZM462.8 173L477.9 164.3L477.9 181.7ZM468.7 165.6L483.8 156.9L483.8 174.3ZM474.7 155.8L489.8 147.1L489.8 164.5ZM480.6 144.5L495.7 135.8L495.7 153.2ZM486.6 135.2L501.7 126.5L501.7 143.9ZM492.5 125.1L507.6 116.4L507.6 133.8ZM498.5 118.7L513.6 110L513.6 127.4ZM504.4 81.7L519.5 73L519.5 90.4ZM510.4 81.7L525.5 73L525.5 90.4ZM516.3 81.7L531.4 73L531.4 90.4ZM522.2 81.7L537.3 73L537.3 90.4ZM528.2 81.7L543.3 73L543.3 90.4ZM534.1 81.7L549.2 73L549.2 90.4ZM540.1 81.7L555.2 73L555.2 90.4ZM546 81.7L561.1 73L561.1 90.4ZM552 81.7L567.1 73L567.1 90.4ZM557.9 81.7L573 73L573 90.4ZM563.9 81.7L579 73L579 90.4ZM569.8 81.7L584.9 73L584.9 90.4ZM575.8 81.7L590.9 73L590.9 90.4ZM581.7 81.7L596.8 73L596.8 90.4ZM587.7 81.7L602.8 73L602.8 90.4ZM593.6 81.7L608.7 73L608.7 90.4ZM599.6 81.7L614.7 73L614.7 90.4ZM605.5 81.7L620.6 73L620.6 90.4ZM611.5 81.7L626.6 73L626.6 90.4ZM617.4 81.7L632.5 73L632.5 90.4ZM623.4 81.7L638.5 73L638.5 90.4ZM629.3 81.7L644.4 73L644.4 90.4ZM498.5 81.7L513.6 73L513.6 90.4ZM492.5 81.7L507.6 73L507.6 90.4ZM486.6 81.7L501.7 73L501.7 90.4ZM480.6 81.7L495.7 73L495.7 90.4ZM474.7 81.7L489.8 73L489.8 90.4ZM468.7 81.7L483.8 73L483.8 90.4ZM462.8 83.2L477.9 74.5L477.9 91.9ZM456.8 86.7L471.9 78L471.9 95.4ZM450.9 89.7L466 81L466 98.4ZM444.9 190.1L460 181.4L460 198.8ZM439 198.7L454.1 190L454.1 207.4ZM433 207.1L448.1 198.4L448.1 215.8ZM427.1 213.9L442.2 205.2L442.2 222.6ZM421.1 220.7L436.2 212L436.2 229.4ZM415.2 227.3L430.3 218.6L430.3 236ZM409.2 232.8L424.3 224.1L424.3 241.5ZM403.3 239.7L418.4 231L418.4 248.4ZM397.3 246.3L412.4 237.6L412.4 255ZM391.4 253.7L406.5 245L406.5 262.4ZM385.4 261.1L400.5 252.4L400.5 269.8ZM379.5 268.8L394.6 260.1L394.6 277.5ZM373.5 275.8L388.6 267.1L388.6 284.5ZM367.6 282.8L382.7 274.1L382.7 291.5ZM361.6 289.4L376.7 280.7L376.7 298.1ZM355.7 296.2L370.8 287.5L370.8 304.9ZM349.7 302.2L364.8 293.5L364.8 310.9ZM343.8 309.4L358.9 300.7L358.9 318.1ZM337.8 315.3L352.9 306.6L352.9 324ZM331.9 322.2L347 313.5L347 330.9ZM325.9 328.2L341 319.5L341 336.9ZM320 334.2L335.1 325.5L335.1 342.9ZM314 339.5L329.1 330.8L329.1 348.2ZM308.1 346.2L323.2 337.5L323.2 354.9ZM302.1 351.9L317.2 343.2L317.2 360.6ZM296.2 357L311.3 348.3L311.3 365.7ZM290.2 363.6L305.3 354.9L305.3 372.3ZM284.3 370.4L299.4 361.7L299.4 379.1ZM278.3 375.7L293.4 367L293.4 384.4ZM272.4 383.7L287.5 375L287.5 392.4ZM266.4 393.5L281.5 384.8L281.5 402.2ZM260.5 402.6L275.6 393.9L275.6 411.3ZM254.5 413.6L269.6 404.9L269.6 422.3ZM248.6 422.6L263.7 413.9L263.7 431.3ZM242.6 431.4L257.7 422.7L257.7 440.1ZM236.7 442.4L251.8 433.7L251.8 451.1ZM230.7 458.8L245.8 450.1L245.8 467.5ZM224.8 474.8L239.9 466.1L239.9 483.5ZM218.8 504.6L233.9 495.9L233.9 513.3Z"/>
</g>
<g>
<polyline fill="none" stroke="#808000" stroke-width="0.6" points="228.8,497.4 234.8,476.6 240.7,460 246.7,445.5 252.6,434.7 258.6,425.5 264.5,416.2 270.5,406.2 276.4,396.3 282.4,387.9 288.3,380.1 294.3,373.4 300.2,367.2 306.2,360.6 312.1,355.1 318.1,350.2 324,344.2 330,338.1 335.9,331.6 341.9,326.5 347.8,319.5 353.8,313.4 359.7,306.5 365.7,300.3 371.6,294.1 377.6,287.9 383.5,281 389.5,275.1 395.4,267.2 401.4,260.5 407.3,253.3 413.3,246.6 419.2,240.1 425.2,234.4 431.1,229.2 437.1,222.6 443,215.5 449,209.1 454.9,199.8 460.9,194 466.8,188.2 472.8,183.3 478.7,177.2 484.7,166.9 490.6,157.8 496.6,147.9 502.5,138.6 508.5,131.8 514.4,127.5 520.4,121.4 526.3,81.7 532.2,81.7 538.2,81.7 544.1,81.7 550.1,81.7 556,81.7 562,81.7 567.9,81.7 573.9,81.7 579.8,81.7 585.8,81.7 591.7,81.7 597.7,81.7 603.6,81.7 609.6,81.7 615.5,81.7 621.5,81.7 627.4,81.7 633.4,81.7 639.3,81.7"/>
<polyline fill="none" stroke="#808000" stroke-width="0.6" points="639.3,81.7 633.4,81.7 627.4,81.7 621.5,81.7 615.5,81.7 609.6,81.7 603.6,81.7 597.7,81.7 591.7,81.7 585.8,81.7 579.8,81.7 573.9,81.7 567.9,81.7 562,81.7 556,81.7 550.1,81.7 544.1,81.7 538.2,81.7 532.2,81.7 526.3,81.7 520.4,81.7 514.4,81.7 508.5,81.7 502.5,81.7 496.6,81.7 490.6,81.7 484.7,81.7 478.7,81.7 472.8,83.2 466.8,86.7 460.9,89.7 454.9,200.3 449,208.5 443,215.7 437.1,222.8 431.1,228.5 425.2,234.7 419.2,240.5 413.3,246.6 407.3,253.5 401.4,260.7 395.4,267.6 389.5,274.8 383.5,282.2 377.6,287.9 371.6,294.6 365.7,301.2 359.7,307.5 353.8,313.3 347.8,319.4 341.9,326.1 335.9,332.3 330,338 324,343.5 318.1,349.4 312.1,354.7 306.2,361 300.2,366.8 294.3,373.6 288.3,380.7 282.4,387.1 276.4,396.1 270.5,407.1 264.5,416.6 258.6,426 252.6,433.4 246.7,444.3 240.7,460.4 234.8,476.6 228.8,498.5"/>
<path fill="#808000" d="M238.8 497.4L223.7 488.7L223.7 506.1ZM244.8 476.6L229.7 467.9L229.7 485.3ZM250.7 460L235.6 451.3L235.6 468.7ZM256.7 445.5L241.6 436.8L241.6 454.2ZM262.6 434.7L247.5 426L247.5 443.4ZM268.6 425.5L253.5 416.8L253.5 434.2ZM274.5 416.2L259.4 407.5L259.4 424.9ZM280.5 406.2L265.4 397.5L265.4 414.9ZM286.4 396.3L271.3 387.6L271.3 405ZM292.4 387.9L277.3 379.2L277.3 396.6ZM298.3 380.1L283.2 371.4L283.2 388.8ZM304.3 373.4L289.2 364.7L289.2 382.1ZM310.2 367.2L295.1 358.5L295.1 375.9ZM316.2 360.6L301.1 351.9L301.1 369.3ZM322.1 355.1L307 346.4L307 363.8ZM328.1 350.2L313 341.5L313 358.9ZM334 344.2L318.9 335.5L318.9 352.9ZM340 338.1L324.9 329.4L324.9 346.8ZM345.9 331.6L330.8 322.9L330.8 340.3ZM351.9 326.5L336.8 317.8L336.8 335.2ZM357.8 319.5L342.7 310.8L342.7 328.2ZM363.8 313.4L348.7 304.7L348.7 322.1ZM369.7 306.5L354.6 297.8L354.6 315.2ZM375.7 300.3L360.6 291.6L360.6 309ZM381.6 294.1L366.5 285.4L366.5 302.8ZM387.6 287.9L372.5 279.2L372.5 296.6ZM393.5 281L378.4 272.3L378.4 289.7ZM399.5 275.1L384.4 266.4L384.4 283.8ZM405.4 267.2L390.3 258.5L390.3 275.9ZM411.4 260.5L396.3 251.8L396.3 269.2ZM417.3 253.3L402.2 244.6L402.2 262ZM423.3 246.6L408.2 237.9L408.2 255.3ZM429.2 240.1L414.1 231.4L414.1 248.8ZM435.2 234.4L420.1 225.7L420.1 243.1ZM441.1 229.2L426 220.5L426 237.9ZM447.1 222.6L432 213.9L432 231.3ZM453 215.5L437.9 206.8L437.9 224.2ZM459 209.1L443.9 200.4L443.9 217.8ZM464.9 199.8L449.8 191.1L449.8 208.5ZM470.9 194L455.8 185.3L455.8 202.7ZM476.8 188.2L461.7 179.5L461.7 196.9ZM482.8 183.3L467.7 174.6L467.7 192ZM488.7 177.2L473.6 168.5L473.6 185.9ZM494.7 166.9L479.6 158.2L479.6 175.6ZM500.6 157.8L485.5 149.1L485.5 166.5ZM506.6 147.9L491.5 139.2L491.5 156.6ZM512.5 138.6L497.4 129.9L497.4 147.3ZM518.5 131.8L503.4 123.1L503.4 140.5ZM524.4 127.5L509.3 118.8L509.3 136.2ZM530.4 121.4L515.2 112.7L515.2 130.1ZM536.3 81.7L521.2 73L521.2 90.4ZM542.2 81.7L527.1 73L527.1 90.4ZM548.2 81.7L533.1 73L533.1 90.4ZM554.1 81.7L539 73L539 90.4ZM560.1 81.7L545 73L545 90.4ZM566 81.7L550.9 73L550.9 90.4ZM572 81.7L556.9 73L556.9 90.4ZM577.9 81.7L562.8 73L562.8 90.4ZM583.9 81.7L568.8 73L568.8 90.4ZM589.8 81.7L574.7 73L574.7 90.4ZM595.8 81.7L580.7 73L580.7 90.4ZM601.7 81.7L586.6 73L586.6 90.4ZM607.7 81.7L592.6 73L592.6 90.4ZM613.6 81.7L598.5 73L598.5 90.4ZM619.6 81.7L604.5 73L604.5 90.4ZM625.5 81.7L610.4 73L610.4 90.4ZM631.5 81.7L616.4 73L616.4 90.4ZM637.4 81.7L622.3 73L622.3 90.4ZM643.4 81.7L628.3 73L628.3 90.4ZM649.3 81.7L634.2 73L634.2 90.4ZM530.4 81.7L515.2 73L515.2 90.4ZM524.4 81.7L509.3 73L509.3 90.4ZM518.5 81.7L503.4 73L503.4 90.4ZM512.5 81.7L497.4 73L497.4 90.4ZM506.6 81.7L491.5 73L491.5 90.4ZM500.6 81.7L485.5 73L485.5 90.4ZM494.7 81.7L479.6 73L479.6 90.4ZM488.7 81.7L473.6 73L473.6 90.4ZM482.8 83.2L467.7 74.5L467.7 91.9ZM476.8 86.7L461.7 78L461.7 95.4ZM470.9 89.7L455.8 81L455.8 98.4ZM464.9 200.3L449.8 191.6L449.8 209ZM459 208.5L443.9 199.8L443.9 217.2ZM453 215.7L437.9 207L437.9 224.4ZM447.1 222.8L432 214.1L432 231.5ZM441.1 228.5L426 219.8L426 237.2ZM435.2 234.7L420.1 226L420.1 243.4ZM429.2 240.5L414.1 231.8L414.1 249.2ZM417.3 253.5L402.2 244.8L402.2 262.2ZM411.4 260.7L396.3 252L396.3 269.4ZM405.4 267.6L390.3 258.9L390.3 276.3ZM399.5 274.8L384.4 266.1L384.4 283.5ZM393.5 282.2L378.4 273.5L378.4 290.9ZM381.6 294.6L366.5 285.9L366.5 303.3ZM375.7 301.2L360.6 292.5L360.6 309.9ZM369.7 307.5L354.6 298.8L354.6 316.2ZM363.8 313.3L348.7 304.6L348.7 322ZM357.8 319.4L342.7 310.7L342.7 328.1ZM351.9 326.1L336.8 317.4L336.8 334.8ZM345.9 332.3L330.8 323.6L330.8 341ZM340 338L324.9 329.3L324.9 346.7ZM334 343.5L318.9 334.8L318.9 352.2ZM328.1 349.4L313 340.7L313 358.1ZM322.1 354.7L307 346L307 363.4ZM316.2 361L301.1 352.3L301.1 369.7ZM310.2 366.8L295.1 358.1L295.1 375.5ZM304.3 373.6L289.2 364.9L289.2 382.3ZM298.3 380.7L283.2 372L283.2 389.4ZM292.4 387.1L277.3 378.4L277.3 395.8ZM286.4 396.1L271.3 387.4L271.3 404.8ZM280.5 407.1L265.4 398.4L265.4 415.8ZM274.5 416.6L259.4 407.9L259.4 425.3ZM268.6 426L253.5 417.3L253.5 434.7ZM262.6 433.4L247.5 424.7L247.5 442.1ZM256.7 444.3L241.6 435.6L241.6 453ZM250.7 460.4L235.6 451.7L235.6 469.1ZM238.8 498.5L223.7 489.8L223.7 507.2Z"/>
</g>
<g>
<polyline fill="none" stroke="#000080" stroke-width="0.6" points="228.8,490.1 234.8,478.3 240.7,462.6 246.7,447.2 252.6,436.8 258.6,428.8 264.5,420.6 270.5,410.1 276.4,399.4 282.4,391.1 288.3,384 294.3,377.4 300.2,370.8 306.2,364.2 312.1,359.4 318.1,353.8 324,347.8 330,341.7 335.9,335.8 341.9,330.2 347.8,323.3 353.8,318 359.7,311.4 365.7,304.6 371.6,299.6 377.6,292.9 383.5,286.3 389.5,279.7 395.4,273.7 401.4,265.5 407.3,259.4 413.3,252.7 419.2,245.5 425.2,239.9 431.1,234.2 437.1,227.3 443,220.7 449,212.2 454.9,204.2 460.9,196.2 466.8,191.8 472.8,186.4 478.7,178.7 484.7,168.5 490.6,158.6 496.6,149.1 502.5,138.5 508.5,132.5 514.4,128.2 520.4,122.8 526.3,117.8 532.2,81.7 538.2,81.7 544.1,81.7 550.1,81.7 556,81.7 562,81.7 567.9,81.7 573.9,81.7 579.8,81.7 585.8,81.7 591.7,81.7 597.7,81.7 603.6,81.7 609.6,81.7 615.5,81.7 621.5,81.7 627.4,81.7 633.4,81.7 639.3,81.7"/>
<polyline fill="none" stroke="#000080" stroke-width="0.6" points="639.3,81.7 633.4,81.7 627.4,81.7 621.5,81.7 615.5,81.7 609.6,81.7 603.6,81.7 597.7,81.7 591.7,81.7 585.8,81.7 579.8,81.7 573.9,81.7 567.9,81.7 562,81.7 556,81.7 550.1,81.7 544.1,81.7 538.2,81.7 532.2,81.7 526.3,81.7 520.4,81.7 514.4,81.7 508.5,81.7 502.5,81.7 496.6,81.7 490.6,81.7 484.7,81.7 478.7,81.7 472.8,83.2 466.8,86.7 460.9,89.7 454.9,205.5 449,212.9 443,220.8 437.1,227.8 431.1,234.1 425.2,240.9 419.2,247.5 413.3,253.9 407.3,259.9 401.4,266.9 395.4,274.7 389.5,281.2 383.5,287.9 377.6,294.3 371.6,299.6 365.7,306.7 359.7,311.8 353.8,318.7 347.8,325.4 341.9,331 335.9,336.8 330,343.1 324,349.1 318.1,354.3 312.1,359.3 306.2,366.4 300.2,371.1 294.3,378.1 288.3,384.9 282.4,391.4 276.4,401 270.5,411.2 264.5,420.4 258.6,429.6 252.6,437.2 246.7,447.8 240.7,462.9 234.8,479.2 228.8,490.9"/>
<path fill="#000080" d="M228.8 481.6L237.3 490.1L228.8 498.6L220.3 490.1ZM234.8 469.8L243.3 478.3L234.8 486.8L226.3 478.3ZM240.7 454.1L249.2 462.6L240.7 471.1L232.2 462.6ZM246.7 438.7L255.2 447.2L246.7 455.7L238.2 447.2ZM252.6 428.3L261.1 436.8L252.6 445.3L244.1 436.8ZM258.6 420.3L267.1 428.8L258.6 437.3L250.1 428.8ZM264.5 412.1L273 420.6L264.5 429.1L256 420.6ZM270.5 401.6L279 410.1L270.5 418.6L262 410.1ZM276.4 390.9L284.9 399.4L276.4 407.9L267.9 399.4ZM282.4 382.6L290.9 391.1L282.4 399.6L273.9 391.1ZM288.3 375.5L296.8 384L288.3 392.5L279.8 384ZM294.3 368.9L302.8 377.4L294.3 385.9L285.8 377.4ZM300.2 362.3L308.7 370.8L300.2 379.3L291.7 370.8ZM306.2 355.7L314.7 364.2L306.2 372.7L297.7 364.2ZM312.1 350.9L320.6 359.4L312.1 367.9L303.6 359.4ZM318.1 345.3L326.6 353.8L318.1 362.3L309.6 353.8ZM324 339.3L332.5 347.8L324 356.3L315.5 347.8ZM330 333.2L338.5 341.7L330 350.2L321.5 341.7ZM335.9 327.3L344.4 335.8L335.9 344.3L327.4 335.8ZM341.9 321.7L350.4 330.2L341.9 338.7L333.4 330.2ZM347.8 314.8L356.3 323.3L347.8 331.8L339.3 323.3ZM353.8 309.5L362.3 318L353.8 326.5L345.3 318ZM359.7 302.9L368.2 311.4L359.7 319.9L351.2 311.4ZM365.7 296.1L374.2 304.6L365.7 313.1L357.2 304.6ZM371.6 291.1L380.1 299.6L371.6 308.1L363.1 299.6ZM377.6 284.4L386.1 292.9L377.6 301.4L369.1 292.9ZM383.5 277.8L392 286.3L383.5 294.8L375 286.3ZM389.5 271.2L398 279.7L389.5 288.2L381 279.7ZM395.4 265.2L403.9 273.7L395.4 282.2L386.9 273.7ZM401.4 257L409.9 265.5L401.4 274L392.9 265.5ZM407.3 250.9L415.8 259.4L407.3 267.9L398.8 259.4ZM413.3 244.2L421.8 252.7L413.3 261.2L404.8 252.7ZM419.2 237L427.7 245.5L419.2 254L410.7 245.5ZM425.2 231.4L433.7 239.9L425.2 248.4L416.7 239.9ZM431.1 225.7L439.6 234.2L431.1 242.7L422.6 234.2ZM437.1 218.8L445.6 227.3L437.1 235.8L428.6 227.3ZM443 212.2L451.5 220.7L443 229.2L434.5 220.7ZM449 203.7L457.5 212.2L449 220.7L440.5 212.2ZM454.9 195.7L463.4 204.2L454.9 212.7L446.4 204.2ZM460.9 187.7L469.4 196.2L460.9 204.7L452.4 196.2ZM466.8 183.3L475.3 191.8L466.8 200.3L458.3 191.8ZM472.8 177.9L481.3 186.4L472.8 194.9L464.3 186.4ZM478.7 170.2L487.2 178.7L478.7 187.2L470.2 178.7ZM484.7 160L493.2 168.5L484.7 177L476.2 168.5ZM490.6 150.1L499.1 158.6L490.6 167.1L482.1 158.6ZM496.6 140.6L505.1 149.1L496.6 157.6L488.1 149.1ZM502.5 130L511 138.5L502.5 147L494 138.5ZM508.5 124L517 132.5L508.5 141L500 132.5ZM514.4 119.7L522.9 128.2L514.4 136.7L505.9 128.2ZM520.4 114.3L528.9 122.8L520.4 131.3L511.9 122.8ZM526.3 109.3L534.8 117.8L526.3 126.3L517.8 117.8ZM532.2 73.2L540.7 81.7L532.2 90.2L523.7 81.7ZM538.2 73.2L546.7 81.7L538.2 90.2L529.7 81.7ZM544.1 73.2L552.6 81.7L544.1 90.2L535.6 81.7ZM550.1 73.2L558.6 81.7L550.1 90.2L541.6 81.7ZM556 73.2L564.5 81.7L556 90.2L547.5 81.7ZM562 73.2L570.5 81.7L562 90.2L553.5 81.7ZM567.9 73.2L576.4 81.7L567.9 90.2L559.4 81.7ZM573.9 73.2L582.4 81.7L573.9 90.2L565.4 81.7ZM579.8 73.2L588.3 81.7L579.8 90.2L571.3 81.7ZM585.8 73.2L594.3 81.7L585.8 90.2L577.3 81.7ZM591.7 73.2L600.2 81.7L591.7 90.2L583.2 81.7ZM597.7 73.2L606.2 81.7L597.7 90.2L589.2 81.7ZM603.6 73.2L612.1 81.7L603.6 90.2L595.1 81.7ZM609.6 73.2L618.1 81.7L609.6 90.2L601.1 81.7ZM615.5 73.2L624 81.7L615.5 90.2L607 81.7ZM621.5 73.2L630 81.7L621.5 90.2L613 81.7ZM627.4 73.2L635.9 81.7L627.4 90.2L618.9 81.7ZM633.4 73.2L641.9 81.7L633.4 90.2L624.9 81.7ZM639.3 73.2L647.8 81.7L639.3 90.2L630.8 81.7ZM526.3 73.2L534.8 81.7L526.3 90.2L517.8 81.7ZM520.4 73.2L528.9 81.7L520.4 90.2L511.9 81.7ZM514.4 73.2L522.9 81.7L514.4 90.2L505.9 81.7ZM508.5 73.2L517 81.7L508.5 90.2L500 81.7ZM502.5 73.2L511 81.7L502.5 90.2L494 81.7ZM496.6 73.2L505.1 81.7L496.6 90.2L488.1 81.7ZM490.6 73.2L499.1 81.7L490.6 90.2L482.1 81.7ZM484.7 73.2L493.2 81.7L484.7 90.2L476.2 81.7ZM478.7 73.2L487.2 81.7L478.7 90.2L470.2 81.7ZM472.8 74.7L481.3 83.2L472.8 91.7L464.3 83.2ZM466.8 78.2L475.3 86.7L466.8 95.2L458.3 86.7ZM460.9 81.2L469.4 89.7L460.9 98.2L452.4 89.7ZM454.9 197L463.4 205.5L454.9 214L446.4 205.5ZM449 204.4L457.5 212.9L449 221.4L440.5 212.9ZM443 212.3L451.5 220.8L443 229.3L434.5 220.8ZM437.1 219.3L445.6 227.8L437.1 236.3L428.6 227.8ZM431.1 225.6L439.6 234.1L431.1 242.6L422.6 234.1ZM425.2 232.4L433.7 240.9L425.2 249.4L416.7 240.9ZM419.2 239L427.7 247.5L419.2 256L410.7 247.5ZM413.3 245.4L421.8 253.9L413.3 262.4L404.8 253.9ZM407.3 251.4L415.8 259.9L407.3 268.4L398.8 259.9ZM401.4 258.4L409.9 266.9L401.4 275.4L392.9 266.9ZM395.4 266.2L403.9 274.7L395.4 283.2L386.9 274.7ZM389.5 272.7L398 281.2L389.5 289.7L381 281.2ZM383.5 279.4L392 287.9L383.5 296.4L375 287.9ZM377.6 285.8L386.1 294.3L377.6 302.8L369.1 294.3ZM365.7 298.2L374.2 306.7L365.7 315.2L357.2 306.7ZM359.7 303.3L368.2 311.8L359.7 320.3L351.2 311.8ZM353.8 310.2L362.3 318.7L353.8 327.2L345.3 318.7ZM347.8 316.9L356.3 325.4L347.8 333.9L339.3 325.4ZM341.9 322.5L350.4 331L341.9 339.5L333.4 331ZM335.9 328.3L344.4 336.8L335.9 345.3L327.4 336.8ZM330 334.6L338.5 343.1L330 351.6L321.5 343.1ZM324 340.6L332.5 349.1L324 357.6L315.5 349.1ZM318.1 345.8L326.6 354.3L318.1 362.8L309.6 354.3ZM312.1 350.8L320.6 359.3L312.1 367.8L303.6 359.3ZM306.2 357.9L314.7 366.4L306.2 374.9L297.7 366.4ZM300.2 362.6L308.7 371.1L300.2 379.6L291.7 371.1ZM294.3 369.6L302.8 378.1L294.3 386.6L285.8 378.1ZM288.3 376.4L296.8 384.9L288.3 393.4L279.8 384.9ZM282.4 382.9L290.9 391.4L282.4 399.9L273.9 391.4ZM276.4 392.5L284.9 401L276.4 409.5L267.9 401ZM270.5 402.7L279 411.2L270.5 419.7L262 411.2ZM264.5 411.9L273 420.4L264.5 428.9L256 420.4ZM258.6 421.1L267.1 429.6L258.6 438.1L250.1 429.6ZM252.6 428.7L261.1 437.2L252.6 445.7L244.1 437.2ZM246.7 439.3L255.2 447.8L246.7 456.3L238.2 447.8ZM240.7 454.4L249.2 462.9L240.7 471.4L232.2 462.9ZM234.8 470.7L243.3 479.2L234.8 487.7L226.3 479.2ZM228.8 482.4L237.3 490.9L228.8 499.4L220.3 490.9Z"/>
</g>
<g>
<polyline fill="none" stroke="#800000" stroke-width="0.6" points="228.8,503.3 234.8,481.9 240.7,464.9 246.7,449.2 252.6,437.1 258.6,429.1 264.5,419.1 270.5,409.6 276.4,400 282.4,390.3 288.3,382.4 294.3,375.6 300.2,369.6 306.2,364.3 312.1,358.3 318.1,352.1 324,346.6 330,340.5 335.9,333.8 341.9,327.8 347.8,321.9 353.8,315.6 359.7,309.1 365.7,302.5 371.6,295.8 377.6,290.7 383.5,283.3 389.5,277.5 395.4,269.2 401.4,263 407.3,254.9 413.3,248.8 419.2,241.4 425.2,235.9 431.1,229.4 437.1,223.6 443,216.4 449,208.3 454.9,200.3 460.9,193.3 466.8,186.7 472.8,182 478.7,174.8 484.7,164.9 490.6,154.5 496.6,145.5 502.5,134.6 508.5,129 514.4,124.5 520.4,118.5 526.3,114.5 532.2,81.7 538.2,81.7 544.1,81.7 550.1,81.7 556,81.7 562,81.7 567.9,81.7 573.9,81.7 579.8,81.7 585.8,81.7 591.7,81.7 597.7,81.7 603.6,81.7 609.6,81.7 615.5,81.7 621.5,81.7 627.4,81.7 633.4,81.7 639.3,81.7"/>
<polyline fill="none" stroke="#800000" stroke-width="0.6" points="639.3,81.7 633.4,81.7 627.4,81.7 621.5,81.7 615.5,81.7 609.6,81.7 603.6,81.7 597.7,81.7 591.7,81.7 585.8,81.7 579.8,81.7 573.9,81.7 567.9,81.7 562,81.7 556,81.7 550.1,81.7 544.1,81.7 538.2,81.7 532.2,81.7 526.3,81.7 520.4,81.7 514.4,81.7 508.5,81.7 502.5,81.7 496.6,81.7 490.6,81.7 484.7,81.7 478.7,81.7 472.8,83.2 466.8,86.7 460.9,89.7 454.9,199.4 449,208.8 443,216.3 437.1,223.8 431.1,230.2 425.2,235.8 419.2,241.6 413.3,248 407.3,254.4 401.4,262.5 395.4,269.1 389.5,276.4 383.5,283.3 377.6,289.9 371.6,296.6 365.7,302.5 359.7,308.9 353.8,314.7 347.8,321.4 341.9,327.5 335.9,334.5 330,339.4 324,346.1 318.1,352 312.1,357.7 306.2,363.1 300.2,369.4 294.3,375.6 288.3,382.3 282.4,390 276.4,400.2 270.5,410 264.5,420.3 258.6,429.3 252.6,437.3 246.7,449.4 240.7,464.6 234.8,481.1 228.8,503.3"/>
<path fill="#800000" d="M228.8 495.3L236.4 500.8L233.5 509.7L224.2 509.7L221.3 500.8ZM234.8 473.9L242.4 479.4L239.5 488.3L230.1 488.3L227.2 479.4ZM240.7 456.9L248.3 462.4L245.4 471.3L236.1 471.3L233.2 462.4ZM246.7 441.3L254.3 446.8L251.4 455.6L242 455.6L239.1 446.8ZM252.6 429.1L260.2 434.6L257.3 443.5L248 443.5L245.1 434.6ZM258.6 421.1L266.2 426.6L263.3 435.5L253.9 435.5L251 426.6ZM264.5 411.1L272.1 416.6L269.2 425.5L259.9 425.5L257 416.6ZM270.5 401.7L278.1 407.2L275.2 416L265.8 416L262.9 407.2ZM276.4 392L284 397.5L281.1 406.4L271.8 406.4L268.9 397.5ZM282.4 382.3L290 387.8L287.1 396.7L277.7 396.7L274.8 387.8ZM288.3 374.4L295.9 379.9L293 388.8L283.7 388.8L280.8 379.9ZM294.3 367.7L301.8 373.2L299 382.1L289.6 382.1L286.7 373.2ZM300.2 361.7L307.8 367.2L304.9 376L295.6 376L292.7 367.2ZM306.2 356.4L313.7 361.9L310.9 370.8L301.5 370.8L298.6 361.9ZM312.1 350.4L319.7 355.9L316.8 364.8L307.5 364.8L304.6 355.9ZM318.1 344.1L325.6 349.6L322.8 358.5L313.4 358.5L310.5 349.6ZM324 338.7L331.6 344.2L328.7 353L319.4 353L316.5 344.2ZM330 332.5L337.5 338L334.7 346.9L325.3 346.9L322.4 338ZM335.9 325.9L343.5 331.4L340.6 340.3L331.3 340.3L328.4 331.4ZM341.9 319.9L349.4 325.4L346.6 334.2L337.2 334.2L334.3 325.4ZM347.8 314L355.4 319.5L352.5 328.4L343.2 328.4L340.3 319.5ZM353.8 307.6L361.3 313.1L358.5 322L349.1 322L346.2 313.1ZM359.7 301.2L367.3 306.7L364.4 315.6L355.1 315.6L352.2 306.7ZM365.7 294.6L373.2 300.1L370.3 309L361 309L358.1 300.1ZM371.6 287.9L379.2 293.4L376.3 302.2L367 302.2L364.1 293.4ZM377.6 282.8L385.1 288.3L382.2 297.1L372.9 297.1L370 288.3ZM383.5 275.3L391.1 280.8L388.2 289.7L378.9 289.7L376 280.8ZM389.5 269.6L397 275.1L394.1 284L384.8 284L381.9 275.1ZM395.4 261.2L403 266.7L400.1 275.6L390.7 275.6L387.9 266.7ZM401.4 255.1L408.9 260.5L406 269.4L396.7 269.4L393.8 260.5ZM407.3 247L414.9 252.5L412 261.4L402.6 261.4L399.8 252.5ZM413.3 240.8L420.8 246.3L417.9 255.2L408.6 255.2L405.7 246.3ZM419.2 233.4L426.8 238.9L423.9 247.8L414.5 247.8L411.7 238.9ZM425.2 227.9L432.7 233.4L429.8 242.3L420.5 242.3L417.6 233.4ZM431.1 221.5L438.7 227L435.8 235.9L426.4 235.9L423.6 227ZM437.1 215.6L444.6 221.1L441.7 230L432.4 230L429.5 221.1ZM443 208.5L450.6 214L447.7 222.8L438.3 222.8L435.5 214ZM449 200.4L456.5 205.8L453.6 214.7L444.3 214.7L441.4 205.8ZM454.9 192.3L462.5 197.8L459.6 206.7L450.2 206.7L447.4 197.8ZM460.9 185.4L468.4 190.9L465.5 199.7L456.2 199.7L453.3 190.9ZM466.8 178.8L474.4 184.3L471.5 193.1L462.1 193.1L459.2 184.3ZM472.8 174.1L480.3 179.6L477.4 188.4L468.1 188.4L465.2 179.6ZM478.7 166.9L486.3 172.4L483.4 181.2L474 181.2L471.1 172.4ZM484.7 157L492.2 162.4L489.3 171.3L480 171.3L477.1 162.4ZM490.6 146.6L498.2 152.1L495.3 161L485.9 161L483 152.1ZM496.6 137.6L504.1 143.1L501.2 152L491.9 152L489 143.1ZM502.5 126.7L510.1 132.2L507.2 141.1L497.8 141.1L494.9 132.2ZM508.5 121L516 126.5L513.1 135.4L503.8 135.4L500.9 126.5ZM514.4 116.5L522 122L519.1 130.9L509.7 130.9L506.8 122ZM520.4 110.6L527.9 116L525 124.9L515.7 124.9L512.8 116ZM526.3 106.5L533.9 112L531 120.9L521.6 120.9L518.7 112ZM532.2 73.8L539.8 79.2L536.9 88.1L527.6 88.1L524.7 79.2ZM538.2 73.8L545.8 79.2L542.9 88.1L533.5 88.1L530.6 79.2ZM544.1 73.8L551.7 79.2L548.8 88.1L539.5 88.1L536.6 79.2ZM550.1 73.8L557.7 79.2L554.8 88.1L545.4 88.1L542.5 79.2ZM556 73.8L563.6 79.2L560.7 88.1L551.4 88.1L548.5 79.2ZM562 73.8L569.6 79.2L566.7 88.1L557.3 88.1L554.4 79.2ZM567.9 73.8L575.5 79.2L572.6 88.1L563.3 88.1L560.4 79.2ZM573.9 73.8L581.5 79.2L578.6 88.1L569.2 88.1L566.3 79.2ZM579.8 73.8L587.4 79.2L584.5 88.1L575.2 88.1L572.3 79.2ZM585.8 73.8L593.3 79.2L590.5 88.1L581.1 88.1L578.2 79.2ZM591.7 73.8L599.3 79.2L596.4 88.1L587.1 88.1L584.2 79.2ZM597.7 73.8L605.2 79.2L602.4 88.1L593 88.1L590.1 79.2ZM603.6 73.8L611.2 79.2L608.3 88.1L599 88.1L596.1 79.2ZM609.6 73.8L617.1 79.2L614.3 88.1L604.9 88.1L602 79.2ZM615.5 73.8L623.1 79.2L620.2 88.1L610.9 88.1L608 79.2ZM621.5 73.8L629 79.2L626.2 88.1L616.8 88.1L613.9 79.2ZM627.4 73.8L635 79.2L632.1 88.1L622.8 88.1L619.9 79.2ZM633.4 73.8L640.9 79.2L638.1 88.1L628.7 88.1L625.8 79.2ZM639.3 73.8L646.9 79.2L644 88.1L634.7 88.1L631.8 79.2ZM526.3 73.8L533.9 79.2L531 88.1L521.6 88.1L518.7 79.2ZM520.4 73.8L527.9 79.2L525 88.1L515.7 88.1L512.8 79.2ZM514.4 73.8L522 79.2L519.1 88.1L509.7 88.1L506.8 79.2ZM508.5 73.8L516 79.2L513.1 88.1L503.8 88.1L500.9 79.2ZM502.5 73.8L510.1 79.2L507.2 88.1L497.8 88.1L494.9 79.2ZM496.6 73.8L504.1 79.2L501.2 88.1L491.9 88.1L489 79.2ZM490.6 73.8L498.2 79.2L495.3 88.1L485.9 88.1L483 79.2ZM484.7 73.8L492.2 79.2L489.3 88.1L480 88.1L477.1 79.2ZM478.7 73.8L486.3 79.2L483.4 88.1L474 88.1L471.1 79.2ZM472.8 75.2L480.3 80.7L477.4 89.6L468.1 89.6L465.2 80.7ZM466.8 78.8L474.4 84.2L471.5 93.1L462.1 93.1L459.2 84.2ZM460.9 81.8L468.4 87.2L465.5 96.1L456.2 96.1L453.3 87.2ZM454.9 191.5L462.5 197L459.6 205.8L450.2 205.8L447.4 197ZM449 200.8L456.5 206.3L453.6 215.2L444.3 215.2L441.4 206.3ZM443 208.4L450.6 213.9L447.7 222.8L438.3 222.8L435.5 213.9ZM437.1 215.9L444.6 221.4L441.7 230.3L432.4 230.3L429.5 221.4ZM431.1 222.3L438.7 227.8L435.8 236.7L426.4 236.7L423.6 227.8ZM425.2 227.9L432.7 233.4L429.8 242.3L420.5 242.3L417.6 233.4ZM419.2 233.6L426.8 239.1L423.9 248L414.5 248L411.7 239.1ZM413.3 240L420.8 245.5L417.9 254.4L408.6 254.4L405.7 245.5ZM407.3 246.5L414.9 252L412 260.9L402.6 260.9L399.8 252ZM401.4 254.6L408.9 260.1L406 269L396.7 269L393.8 260.1ZM395.4 261.1L403 266.6L400.1 275.5L390.7 275.5L387.9 266.6ZM389.5 268.5L397 274L394.1 282.9L384.8 282.9L381.9 274ZM377.6 282L385.1 287.5L382.2 296.4L372.9 296.4L370 287.5ZM371.6 288.6L379.2 294.1L376.3 303L367 303L364.1 294.1ZM359.7 300.9L367.3 306.4L364.4 315.3L355.1 315.3L352.2 306.4ZM353.8 306.8L361.3 312.2L358.5 321.1L349.1 321.1L346.2 312.2ZM347.8 313.5L355.4 319L352.5 327.8L343.2 327.8L340.3 319ZM341.9 319.5L349.4 325L346.6 333.9L337.2 333.9L334.3 325ZM335.9 326.5L343.5 332L340.6 340.9L331.3 340.9L328.4 332ZM330 331.5L337.5 337L334.7 345.8L325.3 345.8L322.4 337ZM324 338.1L331.6 343.6L328.7 352.5L319.4 352.5L316.5 343.6ZM318.1 344.1L325.6 349.6L322.8 358.4L313.4 358.4L310.5 349.6ZM312.1 349.7L319.7 355.2L316.8 364.1L307.5 364.1L304.6 355.2ZM306.2 355.2L313.7 360.6L310.9 369.5L301.5 369.5L298.6 360.6ZM300.2 361.5L307.8 367L304.9 375.8L295.6 375.8L292.7 367ZM288.3 374.4L295.9 379.9L293 388.8L283.7 388.8L280.8 379.9ZM282.4 382L290 387.5L287.1 396.4L277.7 396.4L274.8 387.5ZM276.4 392.2L284 397.7L281.1 406.6L271.8 406.6L268.9 397.7ZM270.5 402.1L278.1 407.6L275.2 416.5L265.8 416.5L262.9 407.6ZM264.5 412.4L272.1 417.8L269.2 426.7L259.9 426.7L257 417.8ZM258.6 421.3L266.2 426.8L263.3 435.7L253.9 435.7L251 426.8ZM252.6 429.4L260.2 434.9L257.3 443.8L248 443.8L245.1 434.9ZM246.7 441.5L254.3 447L251.4 455.9L242 455.9L239.1 447ZM240.7 456.7L248.3 462.2L245.4 471.1L236.1 471.1L233.2 462.2ZM234.8 473.1L242.4 478.6L239.5 487.5L230.1 487.5L227.2 478.6Z"/>
</g>
<g>
<polyline fill="none" stroke="#ff0080" stroke-width="0.6" points="228.8,498.7 234.8,478 240.7,461.5 246.7,445.5 252.6,435 258.6,427.3 264.5,418.1 270.5,407.9 276.4,397.4 282.4,388.5 288.3,381.5 294.3,374.5 300.2,368.8 306.2,362.9 312.1,356.4 318.1,350.3 324,345.4 330,339.2 335.9,333.6 341.9,326.9 347.8,320.6 353.8,314.7 359.7,308.6 365.7,301.5 371.6,296.2 377.6,290.1 383.5,283.4 389.5,276.7 395.4,268.8 401.4,261.3 407.3,254.4 413.3,247.3 419.2,241.4 425.2,235.8 431.1,228.9 437.1,223.1 443,215.4 449,207.2 454.9,199.4 460.9,191.8 466.8,186.2 472.8,181.1 478.7,174.4 484.7,164.1 490.6,153.6 496.6,144.6 502.5,133.6 508.5,127.4 514.4,123.3 520.4,118.7 526.3,81.7 532.2,81.7 538.2,81.7 544.1,81.7 550.1,81.7 556,81.7 562,81.7 567.9,81.7 573.9,81.7 579.8,81.7 585.8,81.7 591.7,81.7 597.7,81.7 603.6,81.7 609.6,81.7 615.5,81.7 621.5,81.7 627.4,81.7 633.4,81.7 639.3,81.7"/>
<polyline fill="none" stroke="#ff0080" stroke-width="0.6" points="639.3,81.7 633.4,81.7 627.4,81.7 621.5,81.7 615.5,81.7 609.6,81.7 603.6,81.7 597.7,81.7 591.7,81.7 585.8,81.7 579.8,81.7 573.9,81.7 567.9,81.7 562,81.7 556,81.7 550.1,81.7 544.1,81.7 538.2,81.7 532.2,81.7 526.3,81.7 520.4,81.7 514.4,81.7 508.5,81.7 502.5,81.7 496.6,81.7 490.6,81.7 484.7,81.7 478.7,81.7 472.8,83.2 466.8,86.7 460.9,89.7 454.9,201.1 449,210.4 443,218 437.1,224.7 431.1,231.9 425.2,238.3 419.2,244.4 413.3,249.7 407.3,257.5 401.4,264.1 395.4,272.2 389.5,279 383.5,285.1 377.6,292.4 371.6,298.4 365.7,304.5 359.7,311.1 353.8,317.2 347.8,323 341.9,330.5 335.9,335.7 330,341.6 324,347 318.1,353.6 312.1,359.7 306.2,365 300.2,371.5 294.3,376.9 288.3,383.5 282.4,390.9 276.4,400 270.5,410.4 264.5,420.1 258.6,428.9 252.6,437.8 246.7,448 240.7,463.5 234.8,479.6 228.8,500.9"/>
<path fill="#ff0080" d="M228.8 490.8L235.6 494.7L235.6 502.6L228.8 506.5L222.1 502.6L222.1 494.7ZM234.8 470.1L241.6 474L241.6 481.9L234.8 485.8L228 481.9L228 474ZM240.7 453.6L247.5 457.6L247.5 465.4L240.7 469.3L233.9 465.4L233.9 457.6ZM246.7 437.7L253.5 441.6L253.5 449.4L246.7 453.4L239.9 449.4L239.9 441.6ZM252.6 427.1L259.4 431.1L259.4 438.9L252.6 442.8L245.8 438.9L245.8 431.1ZM258.6 419.5L265.4 423.4L265.4 431.2L258.6 435.2L251.8 431.2L251.8 423.4ZM264.5 410.2L271.3 414.2L271.3 422L264.5 425.9L257.7 422L257.7 414.2ZM270.5 400L277.3 404L277.3 411.8L270.5 415.7L263.7 411.8L263.7 404ZM276.4 389.6L283.2 393.5L283.2 401.4L276.4 405.3L269.6 401.4L269.6 393.5ZM282.4 380.6L289.2 384.6L289.2 392.4L282.4 396.3L275.6 392.4L275.6 384.6ZM288.3 373.6L295.1 377.5L295.1 385.4L288.3 389.3L281.5 385.4L281.5 377.5ZM294.3 366.7L301.1 370.6L301.1 378.5L294.3 382.4L287.5 378.5L287.5 370.6ZM300.2 361L307 364.9L307 372.7L300.2 376.7L293.4 372.7L293.4 364.9ZM306.2 355L313 358.9L313 366.8L306.2 370.7L299.4 366.8L299.4 358.9ZM312.1 348.6L318.9 352.5L318.9 360.3L312.1 364.3L305.3 360.3L305.3 352.5ZM318.1 342.4L324.9 346.3L324.9 354.2L318.1 358.1L311.3 354.2L311.3 346.3ZM324 337.5L330.8 341.4L330.8 349.3L324 353.2L317.2 349.3L317.2 341.4ZM330 331.3L336.8 335.3L336.8 343.1L330 347L323.2 343.1L323.2 335.3ZM335.9 325.8L342.7 329.7L342.7 337.6L335.9 341.5L329.1 337.6L329.1 329.7ZM341.9 319L348.7 323L348.7 330.8L341.9 334.7L335.1 330.8L335.1 323ZM347.8 312.8L354.6 316.7L354.6 324.6L347.8 328.5L341 324.6L341 316.7ZM353.8 306.8L360.6 310.7L360.6 318.6L353.8 322.5L347 318.6L347 310.7ZM359.7 300.8L366.5 304.7L366.5 312.6L359.7 316.5L352.9 312.6L352.9 304.7ZM365.7 293.7L372.5 297.6L372.5 305.4L365.7 309.4L358.9 305.4L358.9 297.6ZM371.6 288.3L378.4 292.3L378.4 300.1L371.6 304L364.8 300.1L364.8 292.3ZM377.6 282.2L384.4 286.1L384.4 294L377.6 297.9L370.8 294L370.8 286.1ZM383.5 275.5L390.3 279.5L390.3 287.3L383.5 291.2L376.7 287.3L376.7 279.5ZM389.5 268.9L396.3 272.8L396.3 280.6L389.5 284.6L382.7 280.6L382.7 272.8ZM395.4 261L402.2 264.9L402.2 272.7L395.4 276.7L388.6 272.7L388.6 264.9ZM401.4 253.4L408.2 257.3L408.2 265.2L401.4 269.1L394.6 265.2L394.6 257.3ZM407.3 246.5L414.1 250.5L414.1 258.3L407.3 262.2L400.5 258.3L400.5 250.5ZM413.3 239.4L420.1 243.4L420.1 251.2L413.3 255.1L406.5 251.2L406.5 243.4ZM419.2 233.6L426 237.5L426 245.3L419.2 249.3L412.4 245.3L412.4 237.5ZM425.2 227.9L432 231.8L432 239.7L425.2 243.6L418.4 239.7L418.4 231.8ZM431.1 221L437.9 225L437.9 232.8L431.1 236.7L424.3 232.8L424.3 225ZM437.1 215.3L443.9 219.2L443.9 227.1L437.1 231L430.3 227.1L430.3 219.2ZM443 207.6L449.8 211.5L449.8 219.4L443 223.3L436.2 219.4L436.2 211.5ZM449 199.3L455.8 203.2L455.8 211.1L449 215L442.2 211.1L442.2 203.2ZM454.9 191.6L461.7 195.5L461.7 203.4L454.9 207.3L448.1 203.4L448.1 195.5ZM460.9 183.9L467.7 187.8L467.7 195.7L460.9 199.6L454.1 195.7L454.1 187.8ZM466.8 178.4L473.6 182.3L473.6 190.2L466.8 194.1L460 190.2L460 182.3ZM472.8 173.2L479.6 177.2L479.6 185L472.8 188.9L466 185L466 177.2ZM478.7 166.5L485.5 170.4L485.5 178.3L478.7 182.2L471.9 178.3L471.9 170.4ZM484.7 156.3L491.5 160.2L491.5 168.1L484.7 172L477.9 168.1L477.9 160.2ZM490.6 145.8L497.4 149.7L497.4 157.5L490.6 161.5L483.8 157.5L483.8 149.7ZM496.6 136.7L503.4 140.7L503.4 148.5L496.6 152.4L489.8 148.5L489.8 140.7ZM502.5 125.7L509.3 129.6L509.3 137.5L502.5 141.4L495.7 137.5L495.7 129.6ZM508.5 119.5L515.3 123.4L515.3 131.3L508.5 135.2L501.7 131.3L501.7 123.4ZM514.4 115.5L521.2 119.4L521.2 127.2L514.4 131.2L507.6 127.2L507.6 119.4ZM520.4 110.8L527.1 114.8L527.1 122.6L520.4 126.5L513.6 122.6L513.6 114.8ZM526.3 73.9L533.1 77.8L533.1 85.6L526.3 89.5L519.5 85.6L519.5 77.8ZM532.2 73.9L539 77.8L539 85.6L532.2 89.5L525.4 85.6L525.4 77.8ZM538.2 73.9L545 77.8L545 85.6L538.2 89.5L531.4 85.6L531.4 77.8ZM544.1 73.9L550.9 77.8L550.9 85.6L544.1 89.5L537.3 85.6L537.3 77.8ZM550.1 73.9L556.9 77.8L556.9 85.6L550.1 89.5L543.3 85.6L543.3 77.8ZM556 73.9L562.8 77.8L562.8 85.6L556 89.5L549.2 85.6L549.2 77.8ZM562 73.9L568.8 77.8L568.8 85.6L562 89.5L555.2 85.6L555.2 77.8ZM567.9 73.9L574.7 77.8L574.7 85.6L567.9 89.5L561.1 85.6L561.1 77.8ZM573.9 73.9L580.7 77.8L580.7 85.6L573.9 89.5L567.1 85.6L567.1 77.8ZM579.8 73.9L586.6 77.8L586.6 85.6L579.8 89.5L573 85.6L573 77.8ZM585.8 73.9L592.6 77.8L592.6 85.6L585.8 89.5L579 85.6L579 77.8ZM591.7 73.9L598.5 77.8L598.5 85.6L591.7 89.5L584.9 85.6L584.9 77.8ZM597.7 73.9L604.5 77.8L604.5 85.6L597.7 89.5L590.9 85.6L590.9 77.8ZM603.6 73.9L610.4 77.8L610.4 85.6L603.6 89.5L596.8 85.6L596.8 77.8ZM609.6 73.9L616.4 77.8L616.4 85.6L609.6 89.5L602.8 85.6L602.8 77.8ZM615.5 73.9L622.3 77.8L622.3 85.6L615.5 89.5L608.7 85.6L608.7 77.8ZM621.5 73.9L628.3 77.8L628.3 85.6L621.5 89.5L614.7 85.6L614.7 77.8ZM627.4 73.9L634.2 77.8L634.2 85.6L627.4 89.5L620.6 85.6L620.6 77.8ZM633.4 73.9L640.2 77.8L640.2 85.6L633.4 89.5L626.6 85.6L626.6 77.8ZM639.3 73.9L646.1 77.8L646.1 85.6L639.3 89.5L632.5 85.6L632.5 77.8ZM520.4 73.9L527.1 77.8L527.1 85.6L520.4 89.5L513.6 85.6L513.6 77.8ZM514.4 73.9L521.2 77.8L521.2 85.6L514.4 89.5L507.6 85.6L507.6 77.8ZM508.5 73.9L515.3 77.8L515.3 85.6L508.5 89.5L501.7 85.6L501.7 77.8ZM502.5 73.9L509.3 77.8L509.3 85.6L502.5 89.5L495.7 85.6L495.7 77.8ZM496.6 73.9L503.4 77.8L503.4 85.6L496.6 89.5L489.8 85.6L489.8 77.8ZM490.6 73.9L497.4 77.8L497.4 85.6L490.6 89.5L483.8 85.6L483.8 77.8ZM484.7 73.9L491.5 77.8L491.5 85.6L484.7 89.5L477.9 85.6L477.9 77.8ZM478.7 73.9L485.5 77.8L485.5 85.6L478.7 89.5L471.9 85.6L471.9 77.8ZM472.8 75.4L479.6 79.3L479.6 87.1L472.8 91L466 87.1L466 79.3ZM466.8 78.9L473.6 82.8L473.6 90.6L466.8 94.5L460 90.6L460 82.8ZM460.9 81.9L467.7 85.8L467.7 93.6L460.9 97.5L454.1 93.6L454.1 85.8ZM454.9 193.2L461.7 197.1L461.7 205L454.9 208.9L448.1 205L448.1 197.1ZM449 202.5L455.8 206.4L455.8 214.3L449 218.2L442.2 214.3L442.2 206.4ZM443 210.2L449.8 214.1L449.8 221.9L443 225.9L436.2 221.9L436.2 214.1ZM437.1 216.8L443.9 220.7L443.9 228.6L437.1 232.5L430.3 228.6L430.3 220.7ZM431.1 224L437.9 228L437.9 235.8L431.1 239.7L424.3 235.8L424.3 228ZM425.2 230.5L432 234.4L432 242.3L425.2 246.2L418.4 242.3L418.4 234.4ZM419.2 236.6L426 240.5L426 248.3L419.2 252.3L412.4 248.3L412.4 240.5ZM413.3 241.9L420.1 245.8L420.1 253.7L413.3 257.6L406.5 253.7L406.5 245.8ZM407.3 249.7L414.1 253.6L414.1 261.5L407.3 265.4L400.5 261.5L400.5 253.6ZM401.4 256.3L408.2 260.2L408.2 268L401.4 272L394.6 268L394.6 260.2ZM395.4 264.3L402.2 268.2L402.2 276.1L395.4 280L388.6 276.1L388.6 268.2ZM389.5 271.1L396.3 275L396.3 282.9L389.5 286.8L382.7 282.9L382.7 275ZM383.5 277.2L390.3 281.1L390.3 289L383.5 292.9L376.7 289L376.7 281.1ZM377.6 284.6L384.4 288.5L384.4 296.3L377.6 300.3L370.8 296.3L370.8 288.5ZM371.6 290.5L378.4 294.5L378.4 302.3L371.6 306.2L364.8 302.3L364.8 294.5ZM365.7 296.6L372.5 300.6L372.5 308.4L365.7 312.3L358.9 308.4L358.9 300.6ZM359.7 303.2L366.5 307.2L366.5 315L359.7 318.9L352.9 315L352.9 307.2ZM353.8 309.3L360.6 313.3L360.6 321.1L353.8 325L347 321.1L347 313.3ZM347.8 315.1L354.6 319.1L354.6 326.9L347.8 330.8L341 326.9L341 319.1ZM341.9 322.6L348.7 326.6L348.7 334.4L341.9 338.3L335.1 334.4L335.1 326.6ZM335.9 327.9L342.7 331.8L342.7 339.7L335.9 343.6L329.1 339.7L329.1 331.8ZM330 333.7L336.8 337.6L336.8 345.5L330 349.4L323.2 345.5L323.2 337.6ZM324 339.1L330.8 343L330.8 350.9L324 354.8L317.2 350.9L317.2 343ZM318.1 345.8L324.9 349.7L324.9 357.5L318.1 361.5L311.3 357.5L311.3 349.7ZM312.1 351.8L318.9 355.8L318.9 363.6L312.1 367.5L305.3 363.6L305.3 355.8ZM306.2 357.2L313 361.1L313 369L306.2 372.9L299.4 369L299.4 361.1ZM300.2 363.6L307 367.5L307 375.4L300.2 379.3L293.4 375.4L293.4 367.5ZM294.3 369L301.1 372.9L301.1 380.8L294.3 384.7L287.5 380.8L287.5 372.9ZM288.3 375.7L295.1 379.6L295.1 387.5L288.3 391.4L281.5 387.5L281.5 379.6ZM282.4 383.1L289.2 387L289.2 394.9L282.4 398.8L275.6 394.9L275.6 387ZM276.4 392.2L283.2 396.1L283.2 404L276.4 407.9L269.6 404L269.6 396.1ZM270.5 402.6L277.3 406.5L277.3 414.4L270.5 418.3L263.7 414.4L263.7 406.5ZM264.5 412.3L271.3 416.2L271.3 424L264.5 428L257.7 424L257.7 416.2ZM258.6 421L265.4 425L265.4 432.8L258.6 436.7L251.8 432.8L251.8 425ZM252.6 430L259.4 433.9L259.4 441.7L252.6 445.7L245.8 441.7L245.8 433.9ZM246.7 440.2L253.5 444.1L253.5 452L246.7 455.9L239.9 452L239.9 444.1ZM240.7 455.6L247.5 459.6L247.5 467.4L240.7 471.3L233.9 467.4L233.9 459.6ZM234.8 471.7L241.6 475.6L241.6 483.5L234.8 487.4L228 483.5L228 475.6ZM228.8 493L235.6 496.9L235.6 504.8L228.8 508.7L222.1 504.8L222.1 496.9Z"/>
</g>
<g>
<polyline fill="none" stroke="#008000" stroke-width="0.6" points="228.8,500.2 234.8,478.4 240.7,463 246.7,446.6 252.6,437.3 258.6,428.3 264.5,419.4 270.5,409.2 276.4,399.9 282.4,390.7 288.3,383.1 294.3,377.5 300.2,370.9 306.2,365.5 312.1,359.5 318.1,352.9 324,347.7 330,341.4 335.9,335.8 341.9,330.2 347.8,323.7 353.8,316.7 359.7,310.3 365.7,304.9 371.6,298.6 377.6,292.3 383.5,285.3 389.5,279.3 395.4,271.8 401.4,263.8 407.3,256.7 413.3,250.5 419.2,244.6 425.2,237.8 431.1,231.1 437.1,225 443,217.1 449,209.7 454.9,200.9 460.9,192.8 466.8,188 472.8,182.5 478.7,175.6 484.7,165.3 490.6,154.7 496.6,145.2 502.5,134.7 508.5,128.7 514.4,124.6 520.4,119.2 526.3,113.5 532.2,81.7 538.2,81.7 544.1,81.7 550.1,81.7 556,81.7 562,81.7 567.9,81.7 573.9,81.7 579.8,81.7 585.8,81.7 591.7,81.7 597.7,81.7 603.6,81.7 609.6,81.7 615.5,81.7 621.5,81.7 627.4,81.7 633.4,81.7 639.3,81.7"/>
<polyline fill="none" stroke="#008000" stroke-width="0.6" points="639.3,81.7 633.4,81.7 627.4,81.7 621.5,81.7 615.5,81.7 609.6,81.7 603.6,81.7 597.7,81.7 591.7,81.7 585.8,81.7 579.8,81.7 573.9,81.7 567.9,81.7 562,81.7 556,81.7 550.1,81.7 544.1,81.7 538.2,81.7 532.2,81.7 526.3,81.7 520.4,81.7 514.4,81.7 508.5,81.7 502.5,81.7 496.6,81.7 490.6,81.7 484.7,81.7 478.7,81.7 472.8,83.2 466.8,86.7 460.9,89.7 454.9,202.8 449,211.1 443,219.3 437.1,225.6 431.1,233.2 425.2,239.8 419.2,245.5 413.3,251.3 407.3,259.2 401.4,265.9 395.4,272.9 389.5,280.5 383.5,287.7 377.6,293 371.6,299.9 365.7,306.2 359.7,313 353.8,318.1 347.8,325.1 341.9,331.7 335.9,337.7 330,343.8 324,349.2 318.1,354.9 312.1,360.6 306.2,365.9 300.2,372.8 294.3,378.3 288.3,384.2 282.4,392.8 276.4,401.7 270.5,411.6 264.5,420.8 258.6,430.8 252.6,438.1 246.7,449.2 240.7,463.4 234.8,479.8 228.8,500.9"/>
<path fill="#008000" d="M228.8 491.8L230.8 497.5L236.8 497.6L232 501.3L233.8 507L228.8 503.6L223.9 507L225.7 501.3L220.9 497.6L226.9 497.5ZM234.8 470L236.8 475.7L242.8 475.8L238 479.4L239.7 485.2L234.8 481.8L229.9 485.2L231.6 479.4L226.8 475.8L232.8 475.7ZM240.7 454.6L242.7 460.3L248.7 460.4L243.9 464L245.7 469.8L240.7 466.4L235.8 469.8L237.6 464L232.8 460.4L238.8 460.3ZM246.7 438.2L248.7 443.9L254.7 444L249.9 447.7L251.6 453.4L246.7 450L241.8 453.4L243.5 447.7L238.7 444L244.7 443.9ZM252.6 428.9L254.6 434.5L260.6 434.7L255.8 438.3L257.6 444.1L252.6 440.6L247.7 444.1L249.4 438.3L244.7 434.7L250.7 434.5ZM258.6 419.9L260.6 425.6L266.6 425.7L261.8 429.4L263.5 435.1L258.6 431.7L253.7 435.1L255.4 429.4L250.6 425.7L256.6 425.6ZM264.5 411L266.5 416.7L272.5 416.8L267.7 420.5L269.5 426.2L264.5 422.8L259.6 426.2L261.3 420.5L256.6 416.8L262.6 416.7ZM270.5 400.8L272.5 406.5L278.5 406.6L273.7 410.3L275.4 416L270.5 412.6L265.6 416L267.3 410.3L262.5 406.6L268.5 406.5ZM276.4 391.5L278.4 397.2L284.4 397.4L279.6 401L281.4 406.7L276.4 403.3L271.5 406.7L273.2 401L268.5 397.4L274.5 397.2ZM282.4 382.3L284.4 387.9L290.4 388.1L285.6 391.7L287.3 397.5L282.4 394L277.5 397.5L279.2 391.7L274.4 388.1L280.4 387.9ZM288.3 374.7L290.3 380.4L296.3 380.5L291.5 384.2L293.3 389.9L288.3 386.5L283.4 389.9L285.1 384.2L280.4 380.5L286.4 380.4ZM294.3 369.1L296.3 374.8L302.3 374.9L297.5 378.5L299.2 384.3L294.3 380.8L289.4 384.3L291.1 378.5L286.3 374.9L292.3 374.8ZM300.2 362.5L302.2 368.2L308.2 368.3L303.4 371.9L305.2 377.7L300.2 374.2L295.3 377.7L297 371.9L292.2 368.3L298.3 368.2ZM306.2 357.1L308.2 362.8L314.2 362.9L309.4 366.5L311.1 372.3L306.2 368.8L301.2 372.3L303 366.5L298.2 362.9L304.2 362.8ZM312.1 351.1L314.1 356.8L320.1 356.9L315.3 360.5L317.1 366.3L312.1 362.8L307.2 366.3L308.9 360.5L304.1 356.9L310.2 356.8ZM318.1 344.5L320.1 350.2L326.1 350.3L321.3 354L323 359.7L318.1 356.3L313.1 359.7L314.9 354L310.1 350.3L316.1 350.2ZM324 339.3L326 345L332 345.1L327.2 348.8L329 354.5L324 351.1L319.1 354.5L320.8 348.8L316 345.1L322.1 345ZM330 333L332 338.7L338 338.8L333.2 342.4L334.9 348.2L330 344.7L325 348.2L326.8 342.4L322 338.8L328 338.7ZM335.9 327.4L337.9 333.1L343.9 333.2L339.1 336.8L340.9 342.6L335.9 339.2L331 342.6L332.7 336.8L327.9 333.2L334 333.1ZM341.9 321.8L343.9 327.4L349.9 327.6L345.1 331.2L346.8 337L341.9 333.5L336.9 337L338.7 331.2L333.9 327.6L339.9 327.4ZM347.8 315.3L349.8 321L355.8 321.1L351 324.8L352.8 330.5L347.8 327.1L342.9 330.5L344.6 324.8L339.8 321.1L345.9 321ZM353.8 308.3L355.8 314L361.8 314.1L357 317.7L358.7 323.5L353.8 320.1L348.8 323.5L350.6 317.7L345.8 314.1L351.8 314ZM359.7 301.9L361.7 307.6L367.7 307.7L362.9 311.3L364.7 317.1L359.7 313.7L354.8 317.1L356.5 311.3L351.7 307.7L357.8 307.6ZM365.7 296.5L367.7 302.2L373.7 302.3L368.9 306L370.6 311.7L365.7 308.3L360.7 311.7L362.5 306L357.7 302.3L363.7 302.2ZM371.6 290.2L373.6 295.9L379.6 296L374.8 299.6L376.6 305.4L371.6 301.9L366.7 305.4L368.4 299.6L363.6 296L369.7 295.9ZM377.6 283.9L379.5 289.6L385.6 289.7L380.8 293.3L382.5 299.1L377.6 295.6L372.6 299.1L374.4 293.3L369.6 289.7L375.6 289.6ZM383.5 276.9L385.5 282.5L391.5 282.7L386.7 286.3L388.5 292.1L383.5 288.6L378.6 292.1L380.3 286.3L375.5 282.7L381.5 282.5ZM389.5 270.9L391.4 276.6L397.5 276.7L392.7 280.3L394.4 286.1L389.5 282.6L384.5 286.1L386.3 280.3L381.5 276.7L387.5 276.6ZM395.4 263.4L397.4 269.1L403.4 269.2L398.6 272.8L400.4 278.6L395.4 275.1L390.5 278.6L392.2 272.8L387.4 269.2L393.4 269.1ZM401.4 255.4L403.3 261.1L409.4 261.2L404.6 264.9L406.3 270.6L401.4 267.2L396.4 270.6L398.2 264.9L393.4 261.2L399.4 261.1ZM407.3 248.3L409.3 253.9L415.3 254.1L410.5 257.7L412.3 263.5L407.3 260L402.4 263.5L404.1 257.7L399.3 254.1L405.3 253.9ZM413.3 242.1L415.2 247.8L421.3 247.9L416.5 251.5L418.2 257.3L413.3 253.9L408.3 257.3L410.1 251.5L405.3 247.9L411.3 247.8ZM419.2 236.2L421.2 241.9L427.2 242L422.4 245.6L424.2 251.4L419.2 248L414.3 251.4L416 245.6L411.2 242L417.2 241.9ZM425.2 229.4L427.1 235.1L433.2 235.2L428.4 238.8L430.1 244.6L425.2 241.2L420.2 244.6L422 238.8L417.2 235.2L423.2 235.1ZM431.1 222.7L433.1 228.4L439.1 228.5L434.3 232.1L436.1 237.9L431.1 234.4L426.2 237.9L427.9 232.1L423.1 228.5L429.1 228.4ZM437.1 216.6L439 222.3L445.1 222.4L440.3 226.1L442 231.8L437.1 228.4L432.1 231.8L433.9 226.1L429.1 222.4L435.1 222.3ZM443 208.7L445 214.3L451 214.5L446.2 218.1L448 223.9L443 220.4L438.1 223.9L439.8 218.1L435 214.5L441 214.3ZM449 201.3L450.9 207L457 207.1L452.2 210.7L453.9 216.5L449 213.1L444 216.5L445.8 210.7L441 207.1L447 207ZM454.9 192.5L456.9 198.2L462.9 198.3L458.1 201.9L459.8 207.7L454.9 204.2L450 207.7L451.7 201.9L446.9 198.3L452.9 198.2ZM460.9 184.4L462.8 190.1L468.8 190.2L464.1 193.9L465.8 199.6L460.9 196.2L455.9 199.6L457.7 193.9L452.9 190.2L458.9 190.1ZM466.8 179.6L468.8 185.3L474.8 185.4L470 189.1L471.7 194.8L466.8 191.4L461.9 194.8L463.6 189.1L458.8 185.4L464.8 185.3ZM472.8 174.1L474.7 179.8L480.7 179.9L476 183.5L477.7 189.3L472.8 185.9L467.8 189.3L469.6 183.5L464.8 179.9L470.8 179.8ZM478.7 167.2L480.7 172.9L486.7 173L481.9 176.6L483.6 182.4L478.7 178.9L473.8 182.4L475.5 176.6L470.7 173L476.7 172.9ZM484.7 156.9L486.6 162.6L492.6 162.7L487.9 166.3L489.6 172.1L484.7 168.7L479.7 172.1L481.5 166.3L476.7 162.7L482.7 162.6ZM490.6 146.3L492.6 152L498.6 152.1L493.8 155.8L495.5 161.5L490.6 158.1L485.7 161.5L487.4 155.8L482.6 152.1L488.6 152ZM496.6 136.8L498.5 142.5L504.5 142.6L499.7 146.2L501.5 152L496.6 148.6L491.6 152L493.4 146.2L488.6 142.6L494.6 142.5ZM502.5 126.3L504.5 131.9L510.5 132.1L505.7 135.7L507.4 141.4L502.5 138L497.6 141.4L499.3 135.7L494.5 132.1L500.5 131.9ZM508.5 120.3L510.4 126L516.4 126.1L511.6 129.8L513.4 135.5L508.5 132.1L503.5 135.5L505.3 129.8L500.5 126.1L506.5 126ZM514.4 116.2L516.4 121.9L522.4 122L517.6 125.7L519.3 131.4L514.4 128L509.5 131.4L511.2 125.7L506.4 122L512.4 121.9ZM520.4 110.8L522.3 116.4L528.3 116.6L523.5 120.2L525.3 126L520.4 122.5L515.4 126L517.2 120.2L512.4 116.6L518.4 116.4ZM526.3 105.1L528.3 110.8L534.3 110.9L529.5 114.6L531.2 120.3L526.3 116.9L521.4 120.3L523.1 114.6L518.3 110.9L524.3 110.8ZM532.2 73.3L534.2 79L540.2 79.1L535.4 82.7L537.2 88.5L532.2 85.1L527.3 88.5L529.1 82.7L524.3 79.1L530.3 79ZM538.2 73.3L540.2 79L546.2 79.1L541.4 82.7L543.1 88.5L538.2 85.1L533.3 88.5L535 82.7L530.2 79.1L536.2 79ZM544.1 73.3L546.1 79L552.1 79.1L547.3 82.7L549.1 88.5L544.1 85.1L539.2 88.5L541 82.7L536.2 79.1L542.2 79ZM550.1 73.3L552.1 79L558.1 79.1L553.3 82.7L555 88.5L550.1 85.1L545.2 88.5L546.9 82.7L542.1 79.1L548.1 79ZM556 73.3L558 79L564 79.1L559.2 82.7L561 88.5L556 85.1L551.1 88.5L552.8 82.7L548.1 79.1L554.1 79ZM562 73.3L564 79L570 79.1L565.2 82.7L566.9 88.5L562 85.1L557.1 88.5L558.8 82.7L554 79.1L560 79ZM567.9 73.3L569.9 79L575.9 79.1L571.1 82.7L572.9 88.5L567.9 85.1L563 88.5L564.7 82.7L560 79.1L566 79ZM573.9 73.3L575.9 79L581.9 79.1L577.1 82.7L578.8 88.5L573.9 85.1L569 88.5L570.7 82.7L565.9 79.1L571.9 79ZM579.8 73.3L581.8 79L587.8 79.1L583 82.7L584.8 88.5L579.8 85.1L574.9 88.5L576.6 82.7L571.9 79.1L577.9 79ZM585.8 73.3L587.8 79L593.8 79.1L589 82.7L590.7 88.5L585.8 85.1L580.9 88.5L582.6 82.7L577.8 79.1L583.8 79ZM591.7 73.3L593.7 79L599.7 79.1L594.9 82.7L596.7 88.5L591.7 85.1L586.8 88.5L588.5 82.7L583.7 79.1L589.8 79ZM597.7 73.3L599.7 79L605.7 79.1L600.9 82.7L602.6 88.5L597.7 85.1L592.7 88.5L594.5 82.7L589.7 79.1L595.7 79ZM603.6 73.3L605.6 79L611.6 79.1L606.8 82.7L608.6 88.5L603.6 85.1L598.7 88.5L600.4 82.7L595.6 79.1L601.7 79ZM609.6 73.3L611.6 79L617.6 79.1L612.8 82.7L614.5 88.5L609.6 85.1L604.6 88.5L606.4 82.7L601.6 79.1L607.6 79ZM615.5 73.3L617.5 79L623.5 79.1L618.7 82.7L620.5 88.5L615.5 85.1L610.6 88.5L612.3 82.7L607.5 79.1L613.6 79ZM621.5 73.3L623.5 79L629.5 79.1L624.7 82.7L626.4 88.5L621.5 85.1L616.5 88.5L618.3 82.7L613.5 79.1L619.5 79ZM627.4 73.3L629.4 79L635.4 79.1L630.6 82.7L632.4 88.5L627.4 85.1L622.5 88.5L624.2 82.7L619.4 79.1L625.5 79ZM633.4 73.3L635.4 79L641.4 79.1L636.6 82.7L638.3 88.5L633.4 85.1L628.4 88.5L630.2 82.7L625.4 79.1L631.4 79ZM639.3 73.3L641.3 79L647.3 79.1L642.5 82.7L644.3 88.5L639.3 85.1L634.4 88.5L636.1 82.7L631.3 79.1L637.4 79ZM526.3 73.3L528.3 79L534.3 79.1L529.5 82.7L531.2 88.5L526.3 85.1L521.4 88.5L523.1 82.7L518.3 79.1L524.3 79ZM520.4 73.3L522.3 79L528.3 79.1L523.5 82.7L525.3 88.5L520.4 85.1L515.4 88.5L517.2 82.7L512.4 79.1L518.4 79ZM514.4 73.3L516.4 79L522.4 79.1L517.6 82.7L519.3 88.5L514.4 85.1L509.5 88.5L511.2 82.7L506.4 79.1L512.4 79ZM508.5 73.3L510.4 79L516.4 79.1L511.6 82.7L513.4 88.5L508.5 85.1L503.5 88.5L505.3 82.7L500.5 79.1L506.5 79ZM502.5 73.3L504.5 79L510.5 79.1L505.7 82.7L507.4 88.5L502.5 85.1L497.6 88.5L499.3 82.7L494.5 79.1L500.5 79ZM496.6 73.3L498.5 79L504.5 79.1L499.7 82.7L501.5 88.5L496.6 85.1L491.6 88.5L493.4 82.7L488.6 79.1L494.6 79ZM490.6 73.3L492.6 79L498.6 79.1L493.8 82.7L495.5 88.5L490.6 85.1L485.7 88.5L487.4 82.7L482.6 79.1L488.6 79ZM484.7 73.3L486.6 79L492.6 79.1L487.9 82.7L489.6 88.5L484.7 85.1L479.7 88.5L481.5 82.7L476.7 79.1L482.7 79ZM478.7 73.3L480.7 79L486.7 79.1L481.9 82.7L483.6 88.5L478.7 85.1L473.8 88.5L475.5 82.7L470.7 79.1L476.7 79ZM472.8 74.8L474.7 80.5L480.7 80.6L476 84.2L477.7 90L472.8 86.6L467.8 90L469.6 84.2L464.8 80.6L470.8 80.5ZM466.8 78.3L468.8 84L474.8 84.1L470 87.7L471.7 93.5L466.8 90.1L461.9 93.5L463.6 87.7L458.8 84.1L464.8 84ZM460.9 81.3L462.8 87L468.8 87.1L464.1 90.7L465.8 96.5L460.9 93.1L455.9 96.5L457.7 90.7L452.9 87.1L458.9 87ZM454.9 194.4L456.9 200.1L462.9 200.2L458.1 203.8L459.8 209.6L454.9 206.2L450 209.6L451.7 203.8L446.9 200.2L452.9 200.1ZM449 202.7L450.9 208.3L457 208.5L452.2 212.1L453.9 217.8L449 214.4L444 217.8L445.8 212.1L441 208.5L447 208.3ZM443 210.9L445 216.6L451 216.7L446.2 220.3L448 226.1L443 222.7L438.1 226.1L439.8 220.3L435 216.7L441 216.6ZM437.1 217.2L439 222.9L445.1 223L440.3 226.6L442 232.4L437.1 228.9L432.1 232.4L433.9 226.6L429.1 223L435.1 222.9ZM431.1 224.8L433.1 230.5L439.1 230.6L434.3 234.2L436.1 240L431.1 236.6L426.2 240L427.9 234.2L423.1 230.6L429.1 230.5ZM425.2 231.4L427.1 237.1L433.2 237.2L428.4 240.9L430.1 246.6L425.2 243.2L420.2 246.6L422 240.9L417.2 237.2L423.2 237.1ZM419.2 237.1L421.2 242.8L427.2 242.9L422.4 246.6L424.2 252.3L419.2 248.9L414.3 252.3L416 246.6L411.2 242.9L417.2 242.8ZM413.3 242.9L415.2 248.6L421.3 248.7L416.5 252.4L418.2 258.1L413.3 254.7L408.3 258.1L410.1 252.4L405.3 248.7L411.3 248.6ZM407.3 250.8L409.3 256.5L415.3 256.6L410.5 260.3L412.3 266L407.3 262.6L402.4 266L404.1 260.3L399.3 256.6L405.3 256.5ZM401.4 257.5L403.3 263.2L409.4 263.3L404.6 266.9L406.3 272.7L401.4 269.3L396.4 272.7L398.2 266.9L393.4 263.3L399.4 263.2ZM395.4 264.5L397.4 270.1L403.4 270.3L398.6 273.9L400.4 279.7L395.4 276.2L390.5 279.7L392.2 273.9L387.4 270.3L393.4 270.1ZM389.5 272.1L391.4 277.8L397.5 277.9L392.7 281.6L394.4 287.3L389.5 283.9L384.5 287.3L386.3 281.6L381.5 277.9L387.5 277.8ZM383.5 279.3L385.5 284.9L391.5 285.1L386.7 288.7L388.5 294.5L383.5 291L378.6 294.5L380.3 288.7L375.5 285.1L381.5 284.9ZM377.6 284.6L379.5 290.3L385.6 290.4L380.8 294.1L382.5 299.8L377.6 296.4L372.6 299.8L374.4 294.1L369.6 290.4L375.6 290.3ZM371.6 291.5L373.6 297.2L379.6 297.3L374.8 300.9L376.6 306.7L371.6 303.3L366.7 306.7L368.4 300.9L363.6 297.3L369.7 297.2ZM365.7 297.8L367.7 303.5L373.7 303.6L368.9 307.3L370.6 313L365.7 309.6L360.7 313L362.5 307.3L357.7 303.6L363.7 303.5ZM359.7 304.6L361.7 310.3L367.7 310.4L362.9 314L364.7 319.8L359.7 316.3L354.8 319.8L356.5 314L351.7 310.4L357.8 310.3ZM353.8 309.7L355.8 315.4L361.8 315.5L357 319.2L358.7 324.9L353.8 321.5L348.8 324.9L350.6 319.2L345.8 315.5L351.8 315.4ZM347.8 316.7L349.8 322.4L355.8 322.6L351 326.2L352.8 331.9L347.8 328.5L342.9 331.9L344.6 326.2L339.8 322.6L345.9 322.4ZM341.9 323.3L343.9 329L349.9 329.1L345.1 332.8L346.8 338.5L341.9 335.1L336.9 338.5L338.7 332.8L333.9 329.1L339.9 329ZM335.9 329.3L337.9 335L343.9 335.1L339.1 338.8L340.9 344.5L335.9 341.1L331 344.5L332.7 338.8L327.9 335.1L334 335ZM330 335.4L332 341.1L338 341.2L333.2 344.9L334.9 350.6L330 347.2L325 350.6L326.8 344.9L322 341.2L328 341.1ZM324 340.8L326 346.5L332 346.6L327.2 350.3L329 356L324 352.6L319.1 356L320.8 350.3L316 346.6L322.1 346.5ZM318.1 346.5L320.1 352.1L326.1 352.3L321.3 355.9L323 361.6L318.1 358.2L313.1 361.6L314.9 355.9L310.1 352.3L316.1 352.1ZM312.1 352.2L314.1 357.9L320.1 358L315.3 361.6L317.1 367.4L312.1 364L307.2 367.4L308.9 361.6L304.1 358L310.2 357.9ZM306.2 357.5L308.2 363.2L314.2 363.3L309.4 367L311.1 372.7L306.2 369.3L301.2 372.7L303 367L298.2 363.3L304.2 363.2ZM300.2 364.4L302.2 370L308.2 370.2L303.4 373.8L305.2 379.6L300.2 376.1L295.3 379.6L297 373.8L292.2 370.2L298.3 370ZM294.3 369.9L296.3 375.6L302.3 375.7L297.5 379.4L299.2 385.1L294.3 381.7L289.4 385.1L291.1 379.4L286.3 375.7L292.3 375.6ZM288.3 375.8L290.3 381.5L296.3 381.6L291.5 385.2L293.3 391L288.3 387.6L283.4 391L285.1 385.2L280.4 381.6L286.4 381.5ZM282.4 384.4L284.4 390.1L290.4 390.2L285.6 393.9L287.3 399.6L282.4 396.2L277.5 399.6L279.2 393.9L274.4 390.2L280.4 390.1ZM276.4 393.3L278.4 399L284.4 399.1L279.6 402.7L281.4 408.5L276.4 405.1L271.5 408.5L273.2 402.7L268.5 399.1L274.5 399ZM270.5 403.2L272.5 408.9L278.5 409L273.7 412.7L275.4 418.4L270.5 415L265.6 418.4L267.3 412.7L262.5 409L268.5 408.9ZM264.5 412.4L266.5 418.1L272.5 418.2L267.7 421.8L269.5 427.6L264.5 424.1L259.6 427.6L261.3 421.8L256.6 418.2L262.6 418.1ZM258.6 422.4L260.6 428.1L266.6 428.2L261.8 431.8L263.5 437.6L258.6 434.1L253.7 437.6L255.4 431.8L250.6 428.2L256.6 428.1ZM252.6 429.7L254.6 435.4L260.6 435.5L255.8 439.1L257.6 444.9L252.6 441.4L247.7 444.9L249.4 439.1L244.7 435.5L250.7 435.4ZM246.7 440.8L248.7 446.5L254.7 446.6L249.9 450.3L251.6 456L246.7 452.6L241.8 456L243.5 450.3L238.7 446.6L244.7 446.5ZM240.7 455L242.7 460.7L248.7 460.8L243.9 464.5L245.7 470.2L240.7 466.8L235.8 470.2L237.6 464.5L232.8 460.8L238.8 460.7ZM234.8 471.4L236.8 477.1L242.8 477.2L238 480.8L239.7 486.6L234.8 483.1L229.9 486.6L231.6 480.8L226.8 477.2L232.8 477.1ZM228.8 492.5L230.8 498.2L236.8 498.3L232 502L233.8 507.7L228.8 504.3L223.9 507.7L225.7 502L220.9 498.3L226.9 498.2Z"/>
</g>
<path d="M163.5 62.6h6M877.3 62.6h-6M163.5 51.4h6M877.3 51.4h-6M163.5 43.4h6M877.3 43.4h-6M163.5 37.2h6M877.3 37.2h-6M163.5 32.2h6M877.3 32.2h-6M163.5 27.9h6M877.3 27.9h-6M163.5 24.2h6M877.3 24.2h-6M163.5 20.9h6M877.3 20.9h-6M163.5 81.9h11.5M877.3 81.9h-11.5M163.5 126.5h6M877.3 126.5h-6M163.5 115.3h6M877.3 115.3h-6M163.5 107.3h6M877.3 107.3h-6M163.5 101.1h6M877.3 101.1h-6M163.5 96h6M877.3 96h-6M163.5 91.8h6M877.3 91.8h-6M163.5 88.1h6M877.3 88.1h-6M163.5 84.8h6M877.3 84.8h-6M163.5 145.7h11.5M877.3 145.7h-11.5M163.5 190.4h6M877.3 190.4h-6M163.5 179.1h6M877.3 179.1h-6M163.5 171.1h6M877.3 171.1h-6M163.5 165h6M877.3 165h-6M163.5 159.9h6M877.3 159.9h-6M163.5 155.6h6M877.3 155.6h-6M163.5 151.9h6M877.3 151.9h-6M163.5 148.7h6M877.3 148.7h-6M163.5 209.6h11.5M877.3 209.6h-11.5M163.5 254.2h6M877.3 254.2h-6M163.5 243h6M877.3 243h-6M163.5 235h6M877.3 235h-6M163.5 228.8h6M877.3 228.8h-6M163.5 223.8h6M877.3 223.8h-6M163.5 219.5h6M877.3 219.5h-6M163.5 215.8h6M877.3 215.8h-6M163.5 212.5h6M877.3 212.5h-6M163.5 273.5h11.5M877.3 273.5h-11.5M163.5 318.1h6M877.3 318.1h-6M163.5 306.9h6M877.3 306.9h-6M163.5 298.9h6M877.3 298.9h-6M163.5 292.7h6M877.3 292.7h-6M163.5 287.6h6M877.3 287.6h-6M163.5 283.4h6M877.3 283.4h-6M163.5 279.7h6M877.3 279.7h-6M163.5 276.4h6M877.3 276.4h-6M163.5 337.3h11.5M877.3 337.3h-11.5M163.5 382h6M877.3 382h-6M163.5 370.7h6M877.3 370.7h-6M163.5 362.7h6M877.3 362.7h-6M163.5 356.6h6M877.3 356.6h-6M163.5 351.5h6M877.3 351.5h-6M163.5 347.2h6M877.3 347.2h-6M163.5 343.5h6M877.3 343.5h-6M163.5 340.3h6M877.3 340.3h-6M163.5 401.2h11.5M877.3 401.2h-11.5M163.5 445.8h6M877.3 445.8h-6M163.5 434.6h6M877.3 434.6h-6M163.5 426.6h6M877.3 426.6h-6M163.5 420.4h6M877.3 420.4h-6M163.5 415.4h6M877.3 415.4h-6M163.5 411.1h6M877.3 411.1h-6M163.5 407.4h6M877.3 407.4h-6M163.5 404.1h6M877.3 404.1h-6M163.5 465.1h11.5M877.3 465.1h-11.5M163.5 509.7h6M877.3 509.7h-6M163.5 498.5h6M877.3 498.5h-6M163.5 490.5h6M877.3 490.5h-6M163.5 484.3h6M877.3 484.3h-6M163.5 479.2h6M877.3 479.2h-6M163.5 475h6M877.3 475h-6M163.5 471.3h6M877.3 471.3h-6M163.5 468h6M877.3 468h-6M163.5 528.9h11.5M877.3 528.9h-11.5M163.5 573.6h6M877.3 573.6h-6M163.5 562.3h6M877.3 562.3h-6M163.5 554.3h6M877.3 554.3h-6M163.5 548.2h6M877.3 548.2h-6M163.5 543.1h6M877.3 543.1h-6M163.5 538.8h6M877.3 538.8h-6M163.5 535.1h6M877.3 535.1h-6M163.5 531.9h6M877.3 531.9h-6M222.9 18v11M222.9 592.8v-11M282.4 18v5.5M282.4 592.8v-5.5M341.9 18v11M341.9 592.8v-11M401.4 18v5.5M401.4 592.8v-5.5M460.9 18v11M460.9 592.8v-11M520.4 18v5.5M520.4 592.8v-5.5M579.8 18v11M579.8 592.8v-11M639.3 18v5.5M639.3 592.8v-5.5M698.8 18v11M698.8 592.8v-11M758.3 18v5.5M758.3 592.8v-5.5M817.8 18v11M817.8 592.8v-11" stroke="#000" stroke-width="1.7" fill="none"/>
<rect x="722.8" y="251" width="154.5" height="337.2" fill="#fff"/>
<rect x="722.3" y="251" width="1.7" height="337" fill="#a6a6a6"/>
<rect x="722.3" y="251" width="154.7" height="1" fill="#000"/>
<rect x="876" y="251" width="1" height="337" fill="#000"/>
<rect x="722.3" y="587.2" width="154.7" height="1.2" fill="#8a8a8a"/>
<g font-family='"Liberation Sans", Arial, Helvetica, sans-serif' font-size="27" fill="#000">
<path d="M727.8 269.5H788.7" stroke="#000000" stroke-width="1" stroke-opacity="0.62" fill="none"/>
<path fill="#000000" d="M751.7 262.9h13v13h-13Z"/>
<text x="797" y="278">Cyc1</text>
<path d="M727.8 303.5H788.7" stroke="#ff0000" stroke-width="1" stroke-opacity="0.62" fill="none"/>
<path fill="#ff0000" d="M751.1 303.1a7.1 7.1 0 1 0 14.2 0a7.1 7.1 0 1 0 -14.2 0Z"/>
<text x="797" y="311.7">Cyc2</text>
<path d="M727.8 336.5H788.7" stroke="#0000ff" stroke-width="1" stroke-opacity="0.62" fill="none"/>
<path fill="#0000ff" d="M758.2 326.7L766.9 341.8L749.5 341.8Z"/>
<text x="797" y="345.3">Cyc3</text>
<path d="M727.8 370.5H788.7" stroke="#008080" stroke-width="1" stroke-opacity="0.62" fill="none"/>
<path fill="#008080" d="M758.2 380.4L766.9 365.3L749.5 365.3Z"/>
<text x="797" y="379">Cyc4</text>
<path d="M727.8 404.5H788.7" stroke="#ff00ff" stroke-width="1" stroke-opacity="0.62" fill="none"/>
<path fill="#ff00ff" d="M748.2 404.1L763.3 395.4L763.3 412.8Z"/>
<text x="797" y="412.7">Cyc5</text>
<path d="M727.8 437.5H788.7" stroke="#808000" stroke-width="1" stroke-opacity="0.62" fill="none"/>
<path fill="#808000" d="M768.2 437.8L753.1 429.1L753.1 446.4Z"/>
<text x="797" y="446.4">Cyc6</text>
<path d="M727.8 471.5H788.7" stroke="#000080" stroke-width="1" stroke-opacity="0.62" fill="none"/>
<path fill="#000080" d="M758.2 462.9L766.7 471.4L758.2 479.9L749.7 471.4Z"/>
<text x="797" y="480">Cyc7</text>
<path d="M727.8 505.5H788.7" stroke="#800000" stroke-width="1" stroke-opacity="0.62" fill="none"/>
<path fill="#800000" d="M758.2 497.1L765.8 502.6L762.9 511.5L753.5 511.5L750.6 502.6Z"/>
<text x="797" y="513.7">Cyc8</text>
<path d="M727.8 538.5H788.7" stroke="#ff0080" stroke-width="1" stroke-opacity="0.62" fill="none"/>
<path fill="#ff0080" d="M758.2 530.9L765 534.8L765 542.7L758.2 546.6L751.4 542.7L751.4 534.8Z"/>
<text x="797" y="547.4">Cyc9</text>
<path d="M727.8 572.5H788.7" stroke="#008000" stroke-width="1" stroke-opacity="0.62" fill="none"/>
<path fill="#008000" d="M758.2 564L760.2 569.7L766.2 569.8L761.4 573.5L763.1 579.2L758.2 575.8L753.3 579.2L755 573.5L750.2 569.8L756.2 569.7Z"/>
<text x="797" y="581">Cyc10</text>
</g>
<rect x="163.5" y="18" width="713.8" height="574.8" fill="none" stroke="#000" stroke-width="2"/>
<g font-family='"Liberation Sans", Arial, Helvetica, sans-serif' font-weight="bold" font-size="35.0" fill="#000">
<text transform="translate(151.6 27) scale(0.975 1)" text-anchor="end">1E-3</text>
<text transform="translate(151.6 90.9) scale(0.975 1)" text-anchor="end">1E-4</text>
<text transform="translate(151.6 154.7) scale(0.975 1)" text-anchor="end">1E-5</text>
<text transform="translate(151.6 218.6) scale(0.975 1)" text-anchor="end">1E-6</text>
<text transform="translate(151.6 282.5) scale(0.975 1)" text-anchor="end">1E-7</text>
<text transform="translate(151.6 346.3) scale(0.975 1)" text-anchor="end">1E-8</text>
<text transform="translate(151.6 410.2) scale(0.975 1)" text-anchor="end">1E-9</text>
<text transform="translate(151.6 474.1) scale(0.975 1)" text-anchor="end">1E-10</text>
<text transform="translate(151.6 537.9) scale(0.975 1)" text-anchor="end">1E-11</text>
<text transform="translate(151.6 601.8) scale(0.975 1)" text-anchor="end">1E-12</text>
<text x="222.9" y="631.7" text-anchor="middle">0</text>
<text x="341.9" y="631.7" text-anchor="middle">1</text>
<text x="460.9" y="631.7" text-anchor="middle">2</text>
<text x="579.8" y="631.7" text-anchor="middle">3</text>
<text x="698.8" y="631.7" text-anchor="middle">4</text>
<text x="817.8" y="631.7" text-anchor="middle">5</text>
</g>
<g font-family='"Liberation Sans", Arial, Helvetica, sans-serif' font-weight="bold" fill="#000">
<text x="521" y="680" font-size="44.5" text-anchor="middle">Voltage (Volt)</text>
<text transform="translate(35.3 324.5) rotate(-90)" font-size="45.2" text-anchor="middle">Current (A)</text>
</g>
<g font-family='"Liberation Sans", Arial, Helvetica, sans-serif' font-size="27.5" fill="#000">
<text x="456" y="57.3">2.4V/22uA</text>
<text x="529.5" y="203">2.4V/2uA</text>
<text x="257" y="277">1V/22nA</text>
<text x="319" y="462">1V/2.4nA</text>
</g>
<text x="525.7" y="782.7" text-anchor="middle" font-family='"Liberation Serif", "Times New Roman", serif' font-size="59.5">(a)</text>
</g>
<g id="plot-b">
<g>
<polyline fill="none" stroke="#000000" stroke-width="0.6" points="1202.9,547 1208.8,536 1214.8,526.5 1220.7,519 1226.7,513.5 1232.7,511 1238.6,509 1244.6,507.3 1250.5,505.8 1256.5,504.4 1262.4,483.2 1268.4,483.1 1274.4,482.9 1280.3,482.7 1286.3,482.4 1292.2,482 1298.2,481.6 1304.2,481.2 1310.1,480.7 1316.1,480.2 1322,479.6 1328,478.8 1334,477.8 1339.9,476.7 1345.9,475.4 1351.8,474 1357.8,472.4 1363.8,470.5 1369.7,468.6 1375.7,466.7 1381.6,464.6 1387.6,462.4 1393.5,460.2 1399.5,458 1405.5,455.7 1411.4,453.4 1417.4,451 1423.3,448.4 1429.3,445.7 1435.3,442.9 1441.2,440.2 1447.2,437.4 1453.1,434.6 1459.1,431.8 1465.1,429.1 1471,426.3 1477,423.6 1482.9,421.1 1488.9,418.6 1494.9,416 1500.8,413.4 1506.8,410.7 1512.7,407.9 1518.7,405.1 1524.6,402.3 1530.6,399.3 1536.6,396.4 1542.5,393.7 1548.5,391.1 1554.4,388.4 1560.4,385.3 1566.4,381.4 1572.3,378.6 1578.3,376.1 1584.2,368.9 1590.2,366.7 1596.2,364.3 1602.1,360.7 1608.1,358.3 1614,353.4 1620,350.1 1625.9,348.8 1631.9,342.7 1637.9,339.2 1643.8,335.5 1649.8,331.9 1655.7,326 1661.7,322.3 1667.7,316.5 1673.6,312.8 1679.6,305.5 1685.5,299.6 1691.5,290.6 1697.5,276.6 1703.4,268.4 1709.4,257.6 1715.3,250.7 1721.3,243.2 1727.3,228.6 1733.2,218.6 1739.2,92 1745.1,92 1751.1,92 1757,92 1763,92 1769,92 1774.9,92 1780.9,92 1786.8,92 1792.8,92"/>
<polyline fill="none" stroke="#000000" stroke-width="0.6" points="1423.3,98.6 1416.9,347.7 1410.9,351.4 1405,355.2 1399,359.2 1393,363.3 1387.1,367.7 1381.1,372 1375.2,376.3 1369.2,380.3 1363.3,384 1357.3,387.5 1351.3,391.1 1345.4,394.8 1339.4,399 1333.5,403.7 1327.5,408.3 1321.5,412.8 1315.6,417.3 1309.6,422.2 1303.7,427.2 1297.7,432.2 1291.7,437.2 1285.8,442.2 1279.8,447.1 1273.9,452.2 1267.9,457.5 1261.9,462.2 1256,467.2 1250,472.5 1244.1,478.1 1238.1,484.1 1232.2,490.8 1226.2,499.5 1220.2,509.1 1214.3,519.4 1208.3,530.3 1202.4,542.5"/>
<path fill="#000000" d="M1196.1 540.2h13.5v13.5h-13.5ZM1202.1 529.2h13.5v13.5h-13.5ZM1208 519.8h13.5v13.5h-13.5ZM1214 512.2h13.5v13.5h-13.5ZM1219.9 506.8h13.5v13.5h-13.5ZM1225.9 504.2h13.5v13.5h-13.5ZM1231.9 502.2h13.5v13.5h-13.5ZM1237.8 500.6h13.5v13.5h-13.5ZM1243.8 499.1h13.5v13.5h-13.5ZM1249.7 497.6h13.5v13.5h-13.5ZM1255.7 476.4h13.5v13.5h-13.5ZM1261.7 476.3h13.5v13.5h-13.5ZM1267.6 476.2h13.5v13.5h-13.5ZM1273.6 475.9h13.5v13.5h-13.5ZM1279.5 475.7h13.5v13.5h-13.5ZM1285.5 475.3h13.5v13.5h-13.5ZM1291.5 474.9h13.5v13.5h-13.5ZM1297.4 474.5h13.5v13.5h-13.5ZM1303.4 474h13.5v13.5h-13.5ZM1309.3 473.5h13.5v13.5h-13.5ZM1315.3 472.9h13.5v13.5h-13.5ZM1321.2 472.1h13.5v13.5h-13.5ZM1327.2 471.1h13.5v13.5h-13.5ZM1333.2 469.9h13.5v13.5h-13.5ZM1339.1 468.7h13.5v13.5h-13.5ZM1345.1 467.3h13.5v13.5h-13.5ZM1351 465.6h13.5v13.5h-13.5ZM1357 463.8h13.5v13.5h-13.5ZM1363 461.9h13.5v13.5h-13.5ZM1368.9 459.9h13.5v13.5h-13.5ZM1374.9 457.8h13.5v13.5h-13.5ZM1380.8 455.7h13.5v13.5h-13.5ZM1386.8 453.4h13.5v13.5h-13.5ZM1392.8 451.2h13.5v13.5h-13.5ZM1398.7 449h13.5v13.5h-13.5ZM1404.7 446.6h13.5v13.5h-13.5ZM1410.6 444.2h13.5v13.5h-13.5ZM1416.6 441.7h13.5v13.5h-13.5ZM1422.6 439h13.5v13.5h-13.5ZM1428.5 436.2h13.5v13.5h-13.5ZM1434.5 433.4h13.5v13.5h-13.5ZM1440.4 430.7h13.5v13.5h-13.5ZM1446.4 427.9h13.5v13.5h-13.5ZM1452.3 425.1h13.5v13.5h-13.5ZM1458.3 422.3h13.5v13.5h-13.5ZM1464.3 419.6h13.5v13.5h-13.5ZM1470.2 416.9h13.5v13.5h-13.5ZM1476.2 414.3h13.5v13.5h-13.5ZM1482.1 411.9h13.5v13.5h-13.5ZM1488.1 409.3h13.5v13.5h-13.5ZM1494.1 406.6h13.5v13.5h-13.5ZM1500 403.9h13.5v13.5h-13.5ZM1506 401.2h13.5v13.5h-13.5ZM1511.9 398.4h13.5v13.5h-13.5ZM1517.9 395.5h13.5v13.5h-13.5ZM1523.9 392.6h13.5v13.5h-13.5ZM1529.8 389.7h13.5v13.5h-13.5ZM1535.8 386.9h13.5v13.5h-13.5ZM1541.7 384.3h13.5v13.5h-13.5ZM1547.7 381.6h13.5v13.5h-13.5ZM1553.6 378.5h13.5v13.5h-13.5ZM1559.6 374.7h13.5v13.5h-13.5ZM1565.6 371.9h13.5v13.5h-13.5ZM1571.5 369.3h13.5v13.5h-13.5ZM1577.5 362.2h13.5v13.5h-13.5ZM1583.4 359.9h13.5v13.5h-13.5ZM1589.4 357.5h13.5v13.5h-13.5ZM1595.4 354h13.5v13.5h-13.5ZM1601.3 351.5h13.5v13.5h-13.5ZM1607.3 346.6h13.5v13.5h-13.5ZM1613.2 343.3h13.5v13.5h-13.5ZM1619.2 342.1h13.5v13.5h-13.5ZM1625.2 335.9h13.5v13.5h-13.5ZM1631.1 332.4h13.5v13.5h-13.5ZM1637.1 328.8h13.5v13.5h-13.5ZM1643 325.2h13.5v13.5h-13.5ZM1649 319.3h13.5v13.5h-13.5ZM1655 315.6h13.5v13.5h-13.5ZM1660.9 309.8h13.5v13.5h-13.5ZM1666.9 306.1h13.5v13.5h-13.5ZM1672.8 298.7h13.5v13.5h-13.5ZM1678.8 292.8h13.5v13.5h-13.5ZM1684.7 283.9h13.5v13.5h-13.5ZM1690.7 269.8h13.5v13.5h-13.5ZM1696.7 261.6h13.5v13.5h-13.5ZM1702.6 250.9h13.5v13.5h-13.5ZM1708.6 243.9h13.5v13.5h-13.5ZM1714.5 236.5h13.5v13.5h-13.5ZM1720.5 221.9h13.5v13.5h-13.5ZM1726.5 211.8h13.5v13.5h-13.5ZM1732.4 85.2h13.5v13.5h-13.5ZM1738.4 85.2h13.5v13.5h-13.5ZM1744.3 85.2h13.5v13.5h-13.5ZM1750.3 85.2h13.5v13.5h-13.5ZM1756.3 85.2h13.5v13.5h-13.5ZM1762.2 85.2h13.5v13.5h-13.5ZM1768.2 85.2h13.5v13.5h-13.5ZM1774.1 85.2h13.5v13.5h-13.5ZM1780.1 85.2h13.5v13.5h-13.5ZM1786.1 85.2h13.5v13.5h-13.5ZM1416.6 91.8h13.5v13.5h-13.5ZM1410.1 341h13.5v13.5h-13.5ZM1404.2 344.7h13.5v13.5h-13.5ZM1398.2 348.5h13.5v13.5h-13.5ZM1392.3 352.4h13.5v13.5h-13.5ZM1386.3 356.6h13.5v13.5h-13.5ZM1380.3 360.9h13.5v13.5h-13.5ZM1374.4 365.3h13.5v13.5h-13.5ZM1368.4 369.5h13.5v13.5h-13.5ZM1362.5 373.5h13.5v13.5h-13.5ZM1356.5 377.2h13.5v13.5h-13.5ZM1350.5 380.7h13.5v13.5h-13.5ZM1344.6 384.3h13.5v13.5h-13.5ZM1338.6 388.1h13.5v13.5h-13.5ZM1332.7 392.3h13.5v13.5h-13.5ZM1326.7 397h13.5v13.5h-13.5ZM1320.7 401.5h13.5v13.5h-13.5ZM1314.8 406h13.5v13.5h-13.5ZM1308.8 410.5h13.5v13.5h-13.5ZM1302.9 415.5h13.5v13.5h-13.5ZM1296.9 420.5h13.5v13.5h-13.5ZM1291 425.5h13.5v13.5h-13.5ZM1285 430.4h13.5v13.5h-13.5ZM1279 435.4h13.5v13.5h-13.5ZM1273.1 440.4h13.5v13.5h-13.5ZM1267.1 445.5h13.5v13.5h-13.5ZM1261.2 450.8h13.5v13.5h-13.5ZM1255.2 455.5h13.5v13.5h-13.5ZM1249.2 460.4h13.5v13.5h-13.5ZM1243.3 465.7h13.5v13.5h-13.5ZM1237.3 471.3h13.5v13.5h-13.5ZM1231.4 477.4h13.5v13.5h-13.5ZM1225.4 484h13.5v13.5h-13.5ZM1219.4 492.8h13.5v13.5h-13.5ZM1213.5 502.4h13.5v13.5h-13.5ZM1207.5 512.6h13.5v13.5h-13.5ZM1201.6 523.6h13.5v13.5h-13.5ZM1195.6 535.8h13.5v13.5h-13.5Z"/>
</g>
<g>
<polyline fill="none" stroke="#ff0000" stroke-width="0.6" points="1202.9,542.4 1208.8,533 1214.8,519.6 1220.7,512.4 1226.7,501.3 1232.7,493.2 1238.6,487.2 1244.6,480.2 1250.5,473.6 1256.5,467.9 1262.4,462.6 1268.4,460.5 1274.4,454 1280.3,447.8 1286.3,445.7 1292.2,438.3 1298.2,433.9 1304.2,428.4 1310.1,424.8 1316.1,419.6 1322,414.8 1328,408.7 1334,403.8 1339.9,398.6 1345.9,394.4 1351.8,389.5 1357.8,385.7 1363.8,385 1369.7,380.9 1375.7,373.5 1381.6,368.3 1387.6,364.3 1393.5,361.6 1399.5,357.3 1405.5,350 1411.4,348.1 1417.4,341.7 1423.3,339.8 1429.3,336.5 1435.3,334.2 1441.2,327.8 1447.2,326.6 1453.1,323.4 1459.1,319.9 1465.1,312.1 1471,309.2 1477,306.1 1482.9,298.4 1488.9,294.7 1494.9,288.5 1500.8,284.6 1506.8,278.8 1512.7,272.3 1518.7,267.5 1524.6,262.1 1530.6,256.7 1536.6,253.3 1542.5,245.1 1548.5,237.9 1554.4,227.4 1560.4,218.9 1566.4,213.5 1572.3,92 1578.3,92 1584.2,92 1590.2,92 1596.2,92 1602.1,92 1608.1,92 1614,92 1620,92 1625.9,92 1631.9,92 1637.9,92 1643.8,92 1649.8,92 1655.7,92 1661.7,92 1667.7,92 1673.6,92 1679.6,92 1685.5,92 1691.5,92 1697.5,92 1703.4,92 1709.4,92 1715.3,92 1721.3,92 1727.3,92 1733.2,92 1739.2,92 1745.1,92 1751.1,92 1757,92 1763,92 1769,92 1774.9,92 1780.9,92 1786.8,92 1792.8,92"/>
<polyline fill="none" stroke="#ff0000" stroke-width="0.6" points="1792.8,92 1786.8,92 1780.9,92 1774.9,92 1769,92 1763,92 1757,92 1751.1,92 1745.1,92 1739.2,92 1733.2,92 1727.3,92 1721.3,92 1715.3,92 1709.4,92 1703.4,92 1697.5,92 1691.5,92 1685.5,92 1679.6,92 1673.6,92 1667.7,92 1661.7,92 1655.7,92 1649.8,92 1643.8,92 1637.9,92 1631.9,92 1625.9,92 1620,92 1614,92 1608.1,92 1602.1,92 1596.2,92 1590.2,92 1584.2,92 1578.3,92 1572.3,92 1566.4,92 1560.4,92 1554.4,92 1548.5,92 1542.5,92 1536.6,92 1530.6,92 1524.6,92 1518.7,92 1512.7,92 1506.8,92 1500.8,92 1494.9,92 1488.9,92 1482.9,92 1477,92 1471,92 1465.1,92 1459.1,92 1453.1,92 1447.2,92 1441.2,92 1435.3,92 1429.3,94 1423.3,97.7 1417.4,354.1 1411.4,358.1 1405.5,362.1 1399.5,365.6 1393.5,370.4 1387.6,374.7 1381.6,379.9 1375.7,384.6 1369.7,388.2 1363.8,392.3 1357.8,396.3 1351.8,400 1345.9,404.7 1339.9,408.7 1334,414 1328,418.7 1322,423.6 1316.1,428.7 1310.1,433.7 1304.2,437.8 1298.2,443.5 1292.2,448 1286.3,452.8 1280.3,458 1274.4,463.3 1268.4,469 1262.4,473.1 1256.5,477.7 1250.5,483.8 1244.6,488.7 1238.6,495.1 1232.7,502.1 1226.7,509.8 1220.7,518.5 1214.8,528.3 1208.8,537.7 1202.9,549.6"/>
<path fill="#ff0000" d="M1195.4 542.4a7.5 7.5 0 1 0 15 0a7.5 7.5 0 1 0 -15 0ZM1201.3 533a7.5 7.5 0 1 0 15 0a7.5 7.5 0 1 0 -15 0ZM1207.3 519.6a7.5 7.5 0 1 0 15 0a7.5 7.5 0 1 0 -15 0ZM1213.2 512.4a7.5 7.5 0 1 0 15 0a7.5 7.5 0 1 0 -15 0ZM1219.2 501.3a7.5 7.5 0 1 0 15 0a7.5 7.5 0 1 0 -15 0ZM1225.2 493.2a7.5 7.5 0 1 0 15 0a7.5 7.5 0 1 0 -15 0ZM1231.1 487.2a7.5 7.5 0 1 0 15 0a7.5 7.5 0 1 0 -15 0ZM1237.1 480.2a7.5 7.5 0 1 0 15 0a7.5 7.5 0 1 0 -15 0ZM1243 473.6a7.5 7.5 0 1 0 15 0a7.5 7.5 0 1 0 -15 0ZM1249 467.9a7.5 7.5 0 1 0 15 0a7.5 7.5 0 1 0 -15 0ZM1255 462.6a7.5 7.5 0 1 0 15 0a7.5 7.5 0 1 0 -15 0ZM1260.9 460.5a7.5 7.5 0 1 0 15 0a7.5 7.5 0 1 0 -15 0ZM1266.9 454a7.5 7.5 0 1 0 15 0a7.5 7.5 0 1 0 -15 0ZM1272.8 447.8a7.5 7.5 0 1 0 15 0a7.5 7.5 0 1 0 -15 0ZM1278.8 445.7a7.5 7.5 0 1 0 15 0a7.5 7.5 0 1 0 -15 0ZM1284.8 438.3a7.5 7.5 0 1 0 15 0a7.5 7.5 0 1 0 -15 0ZM1290.7 433.9a7.5 7.5 0 1 0 15 0a7.5 7.5 0 1 0 -15 0ZM1296.7 428.4a7.5 7.5 0 1 0 15 0a7.5 7.5 0 1 0 -15 0ZM1302.6 424.8a7.5 7.5 0 1 0 15 0a7.5 7.5 0 1 0 -15 0ZM1308.6 419.6a7.5 7.5 0 1 0 15 0a7.5 7.5 0 1 0 -15 0ZM1314.5 414.8a7.5 7.5 0 1 0 15 0a7.5 7.5 0 1 0 -15 0ZM1320.5 408.7a7.5 7.5 0 1 0 15 0a7.5 7.5 0 1 0 -15 0ZM1326.5 403.8a7.5 7.5 0 1 0 15 0a7.5 7.5 0 1 0 -15 0ZM1332.4 398.6a7.5 7.5 0 1 0 15 0a7.5 7.5 0 1 0 -15 0ZM1338.4 394.4a7.5 7.5 0 1 0 15 0a7.5 7.5 0 1 0 -15 0ZM1344.3 389.5a7.5 7.5 0 1 0 15 0a7.5 7.5 0 1 0 -15 0ZM1350.3 385.7a7.5 7.5 0 1 0 15 0a7.5 7.5 0 1 0 -15 0ZM1356.3 385a7.5 7.5 0 1 0 15 0a7.5 7.5 0 1 0 -15 0ZM1362.2 380.9a7.5 7.5 0 1 0 15 0a7.5 7.5 0 1 0 -15 0ZM1368.2 373.5a7.5 7.5 0 1 0 15 0a7.5 7.5 0 1 0 -15 0ZM1374.1 368.3a7.5 7.5 0 1 0 15 0a7.5 7.5 0 1 0 -15 0ZM1380.1 364.3a7.5 7.5 0 1 0 15 0a7.5 7.5 0 1 0 -15 0ZM1386.1 361.6a7.5 7.5 0 1 0 15 0a7.5 7.5 0 1 0 -15 0ZM1392 357.3a7.5 7.5 0 1 0 15 0a7.5 7.5 0 1 0 -15 0ZM1398 350a7.5 7.5 0 1 0 15 0a7.5 7.5 0 1 0 -15 0ZM1403.9 348.1a7.5 7.5 0 1 0 15 0a7.5 7.5 0 1 0 -15 0ZM1409.9 341.7a7.5 7.5 0 1 0 15 0a7.5 7.5 0 1 0 -15 0ZM1415.9 339.8a7.5 7.5 0 1 0 15 0a7.5 7.5 0 1 0 -15 0ZM1421.8 336.5a7.5 7.5 0 1 0 15 0a7.5 7.5 0 1 0 -15 0ZM1427.8 334.2a7.5 7.5 0 1 0 15 0a7.5 7.5 0 1 0 -15 0ZM1433.7 327.8a7.5 7.5 0 1 0 15 0a7.5 7.5 0 1 0 -15 0ZM1439.7 326.6a7.5 7.5 0 1 0 15 0a7.5 7.5 0 1 0 -15 0ZM1445.6 323.4a7.5 7.5 0 1 0 15 0a7.5 7.5 0 1 0 -15 0ZM1451.6 319.9a7.5 7.5 0 1 0 15 0a7.5 7.5 0 1 0 -15 0ZM1457.6 312.1a7.5 7.5 0 1 0 15 0a7.5 7.5 0 1 0 -15 0ZM1463.5 309.2a7.5 7.5 0 1 0 15 0a7.5 7.5 0 1 0 -15 0ZM1469.5 306.1a7.5 7.5 0 1 0 15 0a7.5 7.5 0 1 0 -15 0ZM1475.4 298.4a7.5 7.5 0 1 0 15 0a7.5 7.5 0 1 0 -15 0ZM1481.4 294.7a7.5 7.5 0 1 0 15 0a7.5 7.5 0 1 0 -15 0ZM1487.4 288.5a7.5 7.5 0 1 0 15 0a7.5 7.5 0 1 0 -15 0ZM1493.3 284.6a7.5 7.5 0 1 0 15 0a7.5 7.5 0 1 0 -15 0ZM1499.3 278.8a7.5 7.5 0 1 0 15 0a7.5 7.5 0 1 0 -15 0ZM1505.2 272.3a7.5 7.5 0 1 0 15 0a7.5 7.5 0 1 0 -15 0ZM1511.2 267.5a7.5 7.5 0 1 0 15 0a7.5 7.5 0 1 0 -15 0ZM1517.2 262.1a7.5 7.5 0 1 0 15 0a7.5 7.5 0 1 0 -15 0ZM1523.1 256.7a7.5 7.5 0 1 0 15 0a7.5 7.5 0 1 0 -15 0ZM1529.1 253.3a7.5 7.5 0 1 0 15 0a7.5 7.5 0 1 0 -15 0ZM1535 245.1a7.5 7.5 0 1 0 15 0a7.5 7.5 0 1 0 -15 0ZM1541 237.9a7.5 7.5 0 1 0 15 0a7.5 7.5 0 1 0 -15 0ZM1546.9 227.4a7.5 7.5 0 1 0 15 0a7.5 7.5 0 1 0 -15 0ZM1552.9 218.9a7.5 7.5 0 1 0 15 0a7.5 7.5 0 1 0 -15 0ZM1558.9 213.5a7.5 7.5 0 1 0 15 0a7.5 7.5 0 1 0 -15 0ZM1564.8 92a7.5 7.5 0 1 0 15 0a7.5 7.5 0 1 0 -15 0ZM1570.8 92a7.5 7.5 0 1 0 15 0a7.5 7.5 0 1 0 -15 0ZM1576.7 92a7.5 7.5 0 1 0 15 0a7.5 7.5 0 1 0 -15 0ZM1582.7 92a7.5 7.5 0 1 0 15 0a7.5 7.5 0 1 0 -15 0ZM1588.7 92a7.5 7.5 0 1 0 15 0a7.5 7.5 0 1 0 -15 0ZM1594.6 92a7.5 7.5 0 1 0 15 0a7.5 7.5 0 1 0 -15 0ZM1600.6 92a7.5 7.5 0 1 0 15 0a7.5 7.5 0 1 0 -15 0ZM1606.5 92a7.5 7.5 0 1 0 15 0a7.5 7.5 0 1 0 -15 0ZM1612.5 92a7.5 7.5 0 1 0 15 0a7.5 7.5 0 1 0 -15 0ZM1618.5 92a7.5 7.5 0 1 0 15 0a7.5 7.5 0 1 0 -15 0ZM1624.4 92a7.5 7.5 0 1 0 15 0a7.5 7.5 0 1 0 -15 0ZM1630.4 92a7.5 7.5 0 1 0 15 0a7.5 7.5 0 1 0 -15 0ZM1636.3 92a7.5 7.5 0 1 0 15 0a7.5 7.5 0 1 0 -15 0ZM1642.3 92a7.5 7.5 0 1 0 15 0a7.5 7.5 0 1 0 -15 0ZM1648.3 92a7.5 7.5 0 1 0 15 0a7.5 7.5 0 1 0 -15 0ZM1654.2 92a7.5 7.5 0 1 0 15 0a7.5 7.5 0 1 0 -15 0ZM1660.2 92a7.5 7.5 0 1 0 15 0a7.5 7.5 0 1 0 -15 0ZM1666.1 92a7.5 7.5 0 1 0 15 0a7.5 7.5 0 1 0 -15 0ZM1672.1 92a7.5 7.5 0 1 0 15 0a7.5 7.5 0 1 0 -15 0ZM1678 92a7.5 7.5 0 1 0 15 0a7.5 7.5 0 1 0 -15 0ZM1684 92a7.5 7.5 0 1 0 15 0a7.5 7.5 0 1 0 -15 0ZM1690 92a7.5 7.5 0 1 0 15 0a7.5 7.5 0 1 0 -15 0ZM1695.9 92a7.5 7.5 0 1 0 15 0a7.5 7.5 0 1 0 -15 0ZM1701.9 92a7.5 7.5 0 1 0 15 0a7.5 7.5 0 1 0 -15 0ZM1707.8 92a7.5 7.5 0 1 0 15 0a7.5 7.5 0 1 0 -15 0ZM1713.8 92a7.5 7.5 0 1 0 15 0a7.5 7.5 0 1 0 -15 0ZM1719.8 92a7.5 7.5 0 1 0 15 0a7.5 7.5 0 1 0 -15 0ZM1725.7 92a7.5 7.5 0 1 0 15 0a7.5 7.5 0 1 0 -15 0ZM1731.7 92a7.5 7.5 0 1 0 15 0a7.5 7.5 0 1 0 -15 0ZM1737.6 92a7.5 7.5 0 1 0 15 0a7.5 7.5 0 1 0 -15 0ZM1743.6 92a7.5 7.5 0 1 0 15 0a7.5 7.5 0 1 0 -15 0ZM1749.6 92a7.5 7.5 0 1 0 15 0a7.5 7.5 0 1 0 -15 0ZM1755.5 92a7.5 7.5 0 1 0 15 0a7.5 7.5 0 1 0 -15 0ZM1761.5 92a7.5 7.5 0 1 0 15 0a7.5 7.5 0 1 0 -15 0ZM1767.4 92a7.5 7.5 0 1 0 15 0a7.5 7.5 0 1 0 -15 0ZM1773.4 92a7.5 7.5 0 1 0 15 0a7.5 7.5 0 1 0 -15 0ZM1779.4 92a7.5 7.5 0 1 0 15 0a7.5 7.5 0 1 0 -15 0ZM1785.3 92a7.5 7.5 0 1 0 15 0a7.5 7.5 0 1 0 -15 0ZM1558.9 92a7.5 7.5 0 1 0 15 0a7.5 7.5 0 1 0 -15 0ZM1552.9 92a7.5 7.5 0 1 0 15 0a7.5 7.5 0 1 0 -15 0ZM1546.9 92a7.5 7.5 0 1 0 15 0a7.5 7.5 0 1 0 -15 0ZM1541 92a7.5 7.5 0 1 0 15 0a7.5 7.5 0 1 0 -15 0ZM1535 92a7.5 7.5 0 1 0 15 0a7.5 7.5 0 1 0 -15 0ZM1529.1 92a7.5 7.5 0 1 0 15 0a7.5 7.5 0 1 0 -15 0ZM1523.1 92a7.5 7.5 0 1 0 15 0a7.5 7.5 0 1 0 -15 0ZM1517.2 92a7.5 7.5 0 1 0 15 0a7.5 7.5 0 1 0 -15 0ZM1511.2 92a7.5 7.5 0 1 0 15 0a7.5 7.5 0 1 0 -15 0ZM1505.2 92a7.5 7.5 0 1 0 15 0a7.5 7.5 0 1 0 -15 0ZM1499.3 92a7.5 7.5 0 1 0 15 0a7.5 7.5 0 1 0 -15 0ZM1493.3 92a7.5 7.5 0 1 0 15 0a7.5 7.5 0 1 0 -15 0ZM1487.4 92a7.5 7.5 0 1 0 15 0a7.5 7.5 0 1 0 -15 0ZM1481.4 92a7.5 7.5 0 1 0 15 0a7.5 7.5 0 1 0 -15 0ZM1475.4 92a7.5 7.5 0 1 0 15 0a7.5 7.5 0 1 0 -15 0ZM1469.5 92a7.5 7.5 0 1 0 15 0a7.5 7.5 0 1 0 -15 0ZM1463.5 92a7.5 7.5 0 1 0 15 0a7.5 7.5 0 1 0 -15 0ZM1457.6 92a7.5 7.5 0 1 0 15 0a7.5 7.5 0 1 0 -15 0ZM1451.6 92a7.5 7.5 0 1 0 15 0a7.5 7.5 0 1 0 -15 0ZM1445.6 92a7.5 7.5 0 1 0 15 0a7.5 7.5 0 1 0 -15 0ZM1439.7 92a7.5 7.5 0 1 0 15 0a7.5 7.5 0 1 0 -15 0ZM1433.7 92a7.5 7.5 0 1 0 15 0a7.5 7.5 0 1 0 -15 0ZM1427.8 92a7.5 7.5 0 1 0 15 0a7.5 7.5 0 1 0 -15 0ZM1421.8 94a7.5 7.5 0 1 0 15 0a7.5 7.5 0 1 0 -15 0ZM1415.9 97.7a7.5 7.5 0 1 0 15 0a7.5 7.5 0 1 0 -15 0ZM1409.9 354.1a7.5 7.5 0 1 0 15 0a7.5 7.5 0 1 0 -15 0ZM1403.9 358.1a7.5 7.5 0 1 0 15 0a7.5 7.5 0 1 0 -15 0ZM1398 362.1a7.5 7.5 0 1 0 15 0a7.5 7.5 0 1 0 -15 0ZM1392 365.6a7.5 7.5 0 1 0 15 0a7.5 7.5 0 1 0 -15 0ZM1386.1 370.4a7.5 7.5 0 1 0 15 0a7.5 7.5 0 1 0 -15 0ZM1380.1 374.7a7.5 7.5 0 1 0 15 0a7.5 7.5 0 1 0 -15 0ZM1374.1 379.9a7.5 7.5 0 1 0 15 0a7.5 7.5 0 1 0 -15 0ZM1368.2 384.6a7.5 7.5 0 1 0 15 0a7.5 7.5 0 1 0 -15 0ZM1362.2 388.2a7.5 7.5 0 1 0 15 0a7.5 7.5 0 1 0 -15 0ZM1356.3 392.3a7.5 7.5 0 1 0 15 0a7.5 7.5 0 1 0 -15 0ZM1350.3 396.3a7.5 7.5 0 1 0 15 0a7.5 7.5 0 1 0 -15 0ZM1344.3 400a7.5 7.5 0 1 0 15 0a7.5 7.5 0 1 0 -15 0ZM1338.4 404.7a7.5 7.5 0 1 0 15 0a7.5 7.5 0 1 0 -15 0ZM1332.4 408.7a7.5 7.5 0 1 0 15 0a7.5 7.5 0 1 0 -15 0ZM1326.5 414a7.5 7.5 0 1 0 15 0a7.5 7.5 0 1 0 -15 0ZM1320.5 418.7a7.5 7.5 0 1 0 15 0a7.5 7.5 0 1 0 -15 0ZM1314.5 423.6a7.5 7.5 0 1 0 15 0a7.5 7.5 0 1 0 -15 0ZM1308.6 428.7a7.5 7.5 0 1 0 15 0a7.5 7.5 0 1 0 -15 0ZM1302.6 433.7a7.5 7.5 0 1 0 15 0a7.5 7.5 0 1 0 -15 0ZM1296.7 437.8a7.5 7.5 0 1 0 15 0a7.5 7.5 0 1 0 -15 0ZM1290.7 443.5a7.5 7.5 0 1 0 15 0a7.5 7.5 0 1 0 -15 0ZM1284.8 448a7.5 7.5 0 1 0 15 0a7.5 7.5 0 1 0 -15 0ZM1278.8 452.8a7.5 7.5 0 1 0 15 0a7.5 7.5 0 1 0 -15 0ZM1272.8 458a7.5 7.5 0 1 0 15 0a7.5 7.5 0 1 0 -15 0ZM1266.9 463.3a7.5 7.5 0 1 0 15 0a7.5 7.5 0 1 0 -15 0ZM1260.9 469a7.5 7.5 0 1 0 15 0a7.5 7.5 0 1 0 -15 0ZM1255 473.1a7.5 7.5 0 1 0 15 0a7.5 7.5 0 1 0 -15 0ZM1249 477.7a7.5 7.5 0 1 0 15 0a7.5 7.5 0 1 0 -15 0ZM1243 483.8a7.5 7.5 0 1 0 15 0a7.5 7.5 0 1 0 -15 0ZM1237.1 488.7a7.5 7.5 0 1 0 15 0a7.5 7.5 0 1 0 -15 0ZM1231.1 495.1a7.5 7.5 0 1 0 15 0a7.5 7.5 0 1 0 -15 0ZM1225.2 502.1a7.5 7.5 0 1 0 15 0a7.5 7.5 0 1 0 -15 0ZM1219.2 509.8a7.5 7.5 0 1 0 15 0a7.5 7.5 0 1 0 -15 0ZM1213.2 518.5a7.5 7.5 0 1 0 15 0a7.5 7.5 0 1 0 -15 0ZM1207.3 528.3a7.5 7.5 0 1 0 15 0a7.5 7.5 0 1 0 -15 0ZM1201.3 537.7a7.5 7.5 0 1 0 15 0a7.5 7.5 0 1 0 -15 0ZM1195.4 549.6a7.5 7.5 0 1 0 15 0a7.5 7.5 0 1 0 -15 0Z"/>
</g>
<g>
<polyline fill="none" stroke="#0000ff" stroke-width="0.6" points="1202.9,545.4 1208.8,534.3 1214.8,523.5 1220.7,512.8 1226.7,503.8 1232.7,495.7 1238.6,489.4 1244.6,482.9 1250.5,477.3 1256.5,472.7 1262.4,467.8 1268.4,462.4 1274.4,457.7 1280.3,451.9 1286.3,446.7 1292.2,442.2 1298.2,437.4 1304.2,432.7 1310.1,427.8 1316.1,422.6 1322,417.9 1328,413.1 1334,408.3 1339.9,403.4 1345.9,399.2 1351.8,394.5 1357.8,390.4 1363.8,386.8 1369.7,382.8 1375.7,378.8 1381.6,374.8 1387.6,369.3 1393.5,365.2 1399.5,361.2 1405.5,356.4 1411.4,352.1 1417.4,348.4 1423.3,344.6 1429.3,341.9 1435.3,337.8 1441.2,334.7 1447.2,332.4 1453.1,329.2 1459.1,325.6 1465.1,322.1 1471,316.6 1477,312.9 1482.9,307.4 1488.9,301.8 1494.9,297.5 1500.8,292.6 1506.8,288.5 1512.7,282.8 1518.7,278.5 1524.6,273 1530.6,267.4 1536.6,260.7 1542.5,253.7 1548.5,246.6 1554.4,237 1560.4,229.5 1566.4,223.5 1572.3,218.5 1578.3,92 1584.2,92 1590.2,92 1596.2,92 1602.1,92 1608.1,92 1614,92 1620,92 1625.9,92 1631.9,92 1637.9,92 1643.8,92 1649.8,92 1655.7,92 1661.7,92 1667.7,92 1673.6,92 1679.6,92 1685.5,92 1691.5,92 1697.5,92 1703.4,92 1709.4,92 1715.3,92 1721.3,92 1727.3,92 1733.2,92 1739.2,92 1745.1,92 1751.1,92 1757,92 1763,92 1769,92 1774.9,92 1780.9,92 1786.8,92 1792.8,92"/>
<polyline fill="none" stroke="#0000ff" stroke-width="0.6" points="1792.8,92 1786.8,92 1780.9,92 1774.9,92 1769,92 1763,92 1757,92 1751.1,92 1745.1,92 1739.2,92 1733.2,92 1727.3,92 1721.3,92 1715.3,92 1709.4,92 1703.4,92 1697.5,92 1691.5,92 1685.5,92 1679.6,92 1673.6,92 1667.7,92 1661.7,92 1655.7,92 1649.8,92 1643.8,92 1637.9,92 1631.9,92 1625.9,92 1620,92 1614,92 1608.1,92 1602.1,92 1596.2,92 1590.2,92 1584.2,92 1578.3,92 1572.3,92 1566.4,92 1560.4,92 1554.4,92 1548.5,92 1542.5,92 1536.6,92 1530.6,92 1524.6,92 1518.7,92 1512.7,92 1506.8,92 1500.8,92 1494.9,92 1488.9,92 1482.9,92 1477,92 1471,92 1465.1,92 1459.1,92 1453.1,92 1447.2,92 1441.2,92 1435.3,92 1429.3,94 1423.3,98.3 1417.4,356.8 1411.4,360.7 1405.5,365.3 1399.5,369.3 1393.5,373.5 1387.6,377.9 1381.6,382.9 1375.7,387.6 1369.7,391.9 1363.8,396.1 1357.8,399.2 1351.8,403.2 1345.9,407.3 1339.9,411.7 1334,416.7 1328,421.7 1322,426.5 1316.1,431 1310.1,435.9 1304.2,441 1298.2,445.8 1292.2,451 1286.3,456.4 1280.3,461.2 1274.4,466.7 1268.4,471.6 1262.4,476.3 1256.5,481.3 1250.5,486.7 1244.6,492.2 1238.6,498.2 1232.7,504.9 1226.7,512.4 1220.7,521.4 1214.8,530.5 1208.8,540.1 1202.9,551.2"/>
<path fill="#0000ff" d="M1202.9 534.8L1212 550.8L1193.7 550.8ZM1208.8 523.8L1218 539.7L1199.6 539.7ZM1214.8 513L1224 528.9L1205.6 528.9ZM1220.7 502.2L1229.9 518.2L1211.6 518.2ZM1226.7 493.2L1235.9 509.2L1217.5 509.2ZM1232.7 485.2L1241.8 501.1L1223.5 501.1ZM1238.6 478.8L1247.8 494.8L1229.4 494.8ZM1244.6 472.3L1253.8 488.3L1235.4 488.3ZM1250.5 466.7L1259.7 482.7L1241.4 482.7ZM1256.5 462.1L1265.7 478L1247.3 478ZM1262.4 457.2L1271.6 473.2L1253.3 473.2ZM1268.4 451.9L1277.6 467.8L1259.2 467.8ZM1274.4 447.2L1283.5 463.1L1265.2 463.1ZM1280.3 441.4L1289.5 457.3L1271.1 457.3ZM1286.3 436.1L1295.5 452.1L1277.1 452.1ZM1292.2 431.7L1301.4 447.6L1283.1 447.6ZM1298.2 426.8L1307.4 442.8L1289 442.8ZM1304.2 422.1L1313.3 438.1L1295 438.1ZM1310.1 417.3L1319.3 433.2L1300.9 433.2ZM1316.1 412L1325.3 428L1306.9 428ZM1322 407.3L1331.2 423.2L1312.9 423.2ZM1328 402.5L1337.2 418.5L1318.8 418.5ZM1334 397.7L1343.1 413.6L1324.8 413.6ZM1339.9 392.8L1349.1 408.8L1330.7 408.8ZM1345.9 388.7L1355.1 404.6L1336.7 404.6ZM1351.8 384L1361 399.9L1342.7 399.9ZM1357.8 379.8L1367 395.7L1348.6 395.7ZM1363.8 376.2L1372.9 392.1L1354.6 392.1ZM1369.7 372.3L1378.9 388.2L1360.5 388.2ZM1375.7 368.2L1384.8 384.1L1366.5 384.1ZM1381.6 364.3L1390.8 380.2L1372.5 380.2ZM1387.6 358.8L1396.8 374.7L1378.4 374.7ZM1393.5 354.7L1402.7 370.6L1384.4 370.6ZM1399.5 350.7L1408.7 366.6L1390.3 366.6ZM1405.5 345.9L1414.6 361.8L1396.3 361.8ZM1411.4 341.6L1420.6 357.5L1402.2 357.5ZM1417.4 337.8L1426.6 353.8L1408.2 353.8ZM1423.3 334L1432.5 350L1414.2 350ZM1429.3 331.4L1438.5 347.3L1420.1 347.3ZM1435.3 327.2L1444.4 343.1L1426.1 343.1ZM1441.2 324.1L1450.4 340L1432 340ZM1447.2 321.8L1456.4 337.7L1438 337.7ZM1453.1 318.7L1462.3 334.6L1444 334.6ZM1459.1 315L1468.3 331L1449.9 331ZM1465.1 311.6L1474.2 327.5L1455.9 327.5ZM1471 306.1L1480.2 322L1461.8 322ZM1477 302.3L1486.2 318.3L1467.8 318.3ZM1482.9 296.8L1492.1 312.8L1473.8 312.8ZM1488.9 291.3L1498.1 307.2L1479.7 307.2ZM1494.9 286.9L1504 302.9L1485.7 302.9ZM1500.8 282L1510 298L1491.6 298ZM1506.8 277.9L1515.9 293.8L1497.6 293.8ZM1512.7 272.3L1521.9 288.2L1503.5 288.2ZM1518.7 267.9L1527.9 283.8L1509.5 283.8ZM1524.6 262.4L1533.8 278.3L1515.5 278.3ZM1530.6 256.9L1539.8 272.8L1521.4 272.8ZM1536.6 250.2L1545.7 266.1L1527.4 266.1ZM1542.5 243.2L1551.7 259.1L1533.3 259.1ZM1548.5 236L1557.7 251.9L1539.3 251.9ZM1554.4 226.4L1563.6 242.4L1545.3 242.4ZM1560.4 218.9L1569.6 234.9L1551.2 234.9ZM1566.4 212.9L1575.5 228.8L1557.2 228.8ZM1572.3 208L1581.5 223.9L1563.1 223.9ZM1578.3 81.5L1587.5 97.4L1569.1 97.4ZM1584.2 81.5L1593.4 97.4L1575.1 97.4ZM1590.2 81.5L1599.4 97.4L1581 97.4ZM1596.2 81.5L1605.3 97.4L1587 97.4ZM1602.1 81.5L1611.3 97.4L1592.9 97.4ZM1608.1 81.5L1617.2 97.4L1598.9 97.4ZM1614 81.5L1623.2 97.4L1604.9 97.4ZM1620 81.5L1629.2 97.4L1610.8 97.4ZM1625.9 81.5L1635.1 97.4L1616.8 97.4ZM1631.9 81.5L1641.1 97.4L1622.7 97.4ZM1637.9 81.5L1647 97.4L1628.7 97.4ZM1643.8 81.5L1653 97.4L1634.6 97.4ZM1649.8 81.5L1659 97.4L1640.6 97.4ZM1655.7 81.5L1664.9 97.4L1646.6 97.4ZM1661.7 81.5L1670.9 97.4L1652.5 97.4ZM1667.7 81.5L1676.8 97.4L1658.5 97.4ZM1673.6 81.5L1682.8 97.4L1664.4 97.4ZM1679.6 81.5L1688.8 97.4L1670.4 97.4ZM1685.5 81.5L1694.7 97.4L1676.4 97.4ZM1691.5 81.5L1700.7 97.4L1682.3 97.4ZM1697.5 81.5L1706.6 97.4L1688.3 97.4ZM1703.4 81.5L1712.6 97.4L1694.2 97.4ZM1709.4 81.5L1718.6 97.4L1700.2 97.4ZM1715.3 81.5L1724.5 97.4L1706.2 97.4ZM1721.3 81.5L1730.5 97.4L1712.1 97.4ZM1727.3 81.5L1736.4 97.4L1718.1 97.4ZM1733.2 81.5L1742.4 97.4L1724 97.4ZM1739.2 81.5L1748.3 97.4L1730 97.4ZM1745.1 81.5L1754.3 97.4L1735.9 97.4ZM1751.1 81.5L1760.3 97.4L1741.9 97.4ZM1757 81.5L1766.2 97.4L1747.9 97.4ZM1763 81.5L1772.2 97.4L1753.8 97.4ZM1769 81.5L1778.1 97.4L1759.8 97.4ZM1774.9 81.5L1784.1 97.4L1765.7 97.4ZM1780.9 81.5L1790.1 97.4L1771.7 97.4ZM1786.8 81.5L1796 97.4L1777.7 97.4ZM1792.8 81.5L1802 97.4L1783.6 97.4ZM1572.3 81.5L1581.5 97.4L1563.1 97.4ZM1566.4 81.5L1575.5 97.4L1557.2 97.4ZM1560.4 81.5L1569.6 97.4L1551.2 97.4ZM1554.4 81.5L1563.6 97.4L1545.3 97.4ZM1548.5 81.5L1557.7 97.4L1539.3 97.4ZM1542.5 81.5L1551.7 97.4L1533.3 97.4ZM1536.6 81.5L1545.7 97.4L1527.4 97.4ZM1530.6 81.5L1539.8 97.4L1521.4 97.4ZM1524.6 81.5L1533.8 97.4L1515.5 97.4ZM1518.7 81.5L1527.9 97.4L1509.5 97.4ZM1512.7 81.5L1521.9 97.4L1503.5 97.4ZM1506.8 81.5L1515.9 97.4L1497.6 97.4ZM1500.8 81.5L1510 97.4L1491.6 97.4ZM1494.9 81.5L1504 97.4L1485.7 97.4ZM1488.9 81.5L1498.1 97.4L1479.7 97.4ZM1482.9 81.5L1492.1 97.4L1473.8 97.4ZM1477 81.5L1486.2 97.4L1467.8 97.4ZM1471 81.5L1480.2 97.4L1461.8 97.4ZM1465.1 81.5L1474.2 97.4L1455.9 97.4ZM1459.1 81.5L1468.3 97.4L1449.9 97.4ZM1453.1 81.5L1462.3 97.4L1444 97.4ZM1447.2 81.5L1456.4 97.4L1438 97.4ZM1441.2 81.5L1450.4 97.4L1432 97.4ZM1435.3 81.5L1444.4 97.4L1426.1 97.4ZM1429.3 83.5L1438.5 99.4L1420.1 99.4ZM1423.3 87.8L1432.5 103.7L1414.2 103.7ZM1417.4 346.3L1426.6 362.2L1408.2 362.2ZM1411.4 350.2L1420.6 366.1L1402.2 366.1ZM1405.5 354.7L1414.6 370.6L1396.3 370.6ZM1399.5 358.8L1408.7 374.7L1390.3 374.7ZM1393.5 363L1402.7 378.9L1384.4 378.9ZM1387.6 367.3L1396.8 383.2L1378.4 383.2ZM1381.6 372.4L1390.8 388.3L1372.5 388.3ZM1375.7 377L1384.8 393L1366.5 393ZM1369.7 381.3L1378.9 397.3L1360.5 397.3ZM1363.8 385.5L1372.9 401.5L1354.6 401.5ZM1357.8 388.6L1367 404.5L1348.6 404.5ZM1351.8 392.7L1361 408.6L1342.7 408.6ZM1345.9 396.7L1355.1 412.7L1336.7 412.7ZM1339.9 401.1L1349.1 417L1330.7 417ZM1334 406.2L1343.1 422.1L1324.8 422.1ZM1328 411.1L1337.2 427.1L1318.8 427.1ZM1322 416L1331.2 431.9L1312.9 431.9ZM1316.1 420.5L1325.3 436.4L1306.9 436.4ZM1310.1 425.3L1319.3 441.3L1300.9 441.3ZM1304.2 430.5L1313.3 446.4L1295 446.4ZM1298.2 435.3L1307.4 451.2L1289 451.2ZM1292.2 440.5L1301.4 456.4L1283.1 456.4ZM1286.3 445.8L1295.5 461.7L1277.1 461.7ZM1280.3 450.7L1289.5 466.6L1271.1 466.6ZM1274.4 456.2L1283.5 472.1L1265.2 472.1ZM1268.4 461.1L1277.6 477L1259.2 477ZM1262.4 465.7L1271.6 481.7L1253.3 481.7ZM1256.5 470.8L1265.7 486.7L1247.3 486.7ZM1250.5 476.1L1259.7 492.1L1241.4 492.1ZM1244.6 481.7L1253.8 497.6L1235.4 497.6ZM1238.6 487.7L1247.8 503.6L1229.4 503.6ZM1232.7 494.4L1241.8 510.3L1223.5 510.3ZM1226.7 501.8L1235.9 517.8L1217.5 517.8ZM1220.7 510.8L1229.9 526.8L1211.6 526.8ZM1214.8 519.9L1224 535.8L1205.6 535.8ZM1208.8 529.6L1218 545.5L1199.6 545.5ZM1202.9 540.7L1212 556.6L1193.7 556.6Z"/>
</g>
<g>
<polyline fill="none" stroke="#008080" stroke-width="0.6" points="1202.9,544 1208.8,532.6 1214.8,521.6 1220.7,511.9 1226.7,502.6 1232.7,494.5 1238.6,488 1244.6,482.2 1250.5,476.8 1256.5,471.3 1262.4,465.8 1268.4,462 1274.4,456.5 1280.3,451.1 1286.3,446.3 1292.2,441.2 1298.2,435.8 1304.2,431.4 1310.1,426.8 1316.1,421.6 1322,416.3 1328,411.6 1334,407.9 1339.9,403 1345.9,398.6 1351.8,394.7 1357.8,390.2 1363.8,387.4 1369.7,382.8 1375.7,378.7 1381.6,374.6 1387.6,369.7 1393.5,366.2 1399.5,361.1 1405.5,357.7 1411.4,353.6 1417.4,350 1423.3,346.2 1429.3,343.1 1435.3,339 1441.2,336 1447.2,332.8 1453.1,330.2 1459.1,326.2 1465.1,323 1471,317.7 1477,313 1482.9,308.2 1488.9,302.8 1494.9,298.1 1500.8,294.3 1506.8,289.4 1512.7,284.8 1518.7,280.8 1524.6,275.2 1530.6,269.7 1536.6,264 1542.5,257.2 1548.5,249.1 1554.4,239.6 1560.4,230.6 1566.4,223.7 1572.3,217.5 1578.3,210.1 1584.2,92 1590.2,92 1596.2,92 1602.1,92 1608.1,92 1614,92 1620,92 1625.9,92 1631.9,92 1637.9,92 1643.8,92 1649.8,92 1655.7,92 1661.7,92 1667.7,92 1673.6,92 1679.6,92 1685.5,92 1691.5,92 1697.5,92 1703.4,92 1709.4,92 1715.3,92 1721.3,92 1727.3,92 1733.2,92 1739.2,92 1745.1,92 1751.1,92 1757,92 1763,92 1769,92 1774.9,92 1780.9,92 1786.8,92 1792.8,92"/>
<polyline fill="none" stroke="#008080" stroke-width="0.6" points="1792.8,92 1786.8,92 1780.9,92 1774.9,92 1769,92 1763,92 1757,92 1751.1,92 1745.1,92 1739.2,92 1733.2,92 1727.3,92 1721.3,92 1715.3,92 1709.4,92 1703.4,92 1697.5,92 1691.5,92 1685.5,92 1679.6,92 1673.6,92 1667.7,92 1661.7,92 1655.7,92 1649.8,92 1643.8,92 1637.9,92 1631.9,92 1625.9,92 1620,92 1614,92 1608.1,92 1602.1,92 1596.2,92 1590.2,92 1584.2,92 1578.3,92 1572.3,92 1566.4,92 1560.4,92 1554.4,92 1548.5,92 1542.5,92 1536.6,92 1530.6,92 1524.6,92 1518.7,92 1512.7,92 1506.8,92 1500.8,92 1494.9,92 1488.9,92 1482.9,92 1477,92 1471,92 1465.1,92 1459.1,92 1453.1,92 1447.2,92 1441.2,92 1435.3,92 1429.3,92.3 1423.3,95.5 1417.4,357.8 1411.4,362.1 1405.5,365.6 1399.5,369.8 1393.5,374.4 1387.6,379.2 1381.6,384.3 1375.7,388.4 1369.7,393 1363.8,396.8 1357.8,400.4 1351.8,404.1 1345.9,408.2 1339.9,413.1 1334,417.5 1328,422.3 1322,427.2 1316.1,432.4 1310.1,437.1 1304.2,441.9 1298.2,447 1292.2,451.8 1286.3,457.1 1280.3,462.5 1274.4,467.2 1268.4,472.5 1262.4,476.8 1256.5,481.9 1250.5,487 1244.6,492.6 1238.6,499.5 1232.7,506 1226.7,513.9 1220.7,521.7 1214.8,531.2 1208.8,541.8 1202.9,552.4"/>
<path fill="#008080" d="M1202.9 554.5L1212 538.6L1193.7 538.6ZM1208.8 543.1L1218 527.2L1199.6 527.2ZM1214.8 532.1L1224 516.2L1205.6 516.2ZM1220.7 522.5L1229.9 506.5L1211.6 506.5ZM1226.7 513.2L1235.9 497.2L1217.5 497.2ZM1232.7 505.1L1241.8 489.2L1223.5 489.2ZM1238.6 498.5L1247.8 482.6L1229.4 482.6ZM1244.6 492.8L1253.8 476.8L1235.4 476.8ZM1250.5 487.3L1259.7 471.4L1241.4 471.4ZM1256.5 481.9L1265.7 465.9L1247.3 465.9ZM1262.4 476.4L1271.6 460.4L1253.3 460.4ZM1268.4 472.6L1277.6 456.6L1259.2 456.6ZM1274.4 467.1L1283.5 451.1L1265.2 451.1ZM1280.3 461.7L1289.5 445.8L1271.1 445.8ZM1286.3 456.9L1295.5 441L1277.1 441ZM1292.2 451.8L1301.4 435.8L1283.1 435.8ZM1298.2 446.4L1307.4 430.4L1289 430.4ZM1304.2 441.9L1313.3 426L1295 426ZM1310.1 437.4L1319.3 421.4L1300.9 421.4ZM1316.1 432.1L1325.3 416.2L1306.9 416.2ZM1322 426.8L1331.2 410.9L1312.9 410.9ZM1328 422.2L1337.2 406.2L1318.8 406.2ZM1334 418.4L1343.1 402.5L1324.8 402.5ZM1339.9 413.6L1349.1 397.7L1330.7 397.7ZM1345.9 409.1L1355.1 393.2L1336.7 393.2ZM1351.8 405.2L1361 389.3L1342.7 389.3ZM1357.8 400.8L1367 384.9L1348.6 384.9ZM1363.8 397.9L1372.9 382L1354.6 382ZM1369.7 393.4L1378.9 377.5L1360.5 377.5ZM1375.7 389.2L1384.8 373.3L1366.5 373.3ZM1381.6 385.2L1390.8 369.3L1372.5 369.3ZM1387.6 380.2L1396.8 364.3L1378.4 364.3ZM1393.5 376.8L1402.7 360.8L1384.4 360.8ZM1399.5 371.7L1408.7 355.7L1390.3 355.7ZM1405.5 368.3L1414.6 352.4L1396.3 352.4ZM1411.4 364.2L1420.6 348.2L1402.2 348.2ZM1417.4 360.6L1426.6 344.7L1408.2 344.7ZM1423.3 356.8L1432.5 340.8L1414.2 340.8ZM1429.3 353.7L1438.5 337.7L1420.1 337.7ZM1435.3 349.6L1444.4 333.6L1426.1 333.6ZM1441.2 346.6L1450.4 330.6L1432 330.6ZM1447.2 343.3L1456.4 327.4L1438 327.4ZM1453.1 340.7L1462.3 324.8L1444 324.8ZM1459.1 336.8L1468.3 320.9L1449.9 320.9ZM1465.1 333.5L1474.2 317.6L1455.9 317.6ZM1471 328.2L1480.2 312.3L1461.8 312.3ZM1477 323.6L1486.2 307.6L1467.8 307.6ZM1482.9 318.8L1492.1 302.8L1473.8 302.8ZM1488.9 313.4L1498.1 297.4L1479.7 297.4ZM1494.9 308.6L1504 292.7L1485.7 292.7ZM1500.8 304.9L1510 288.9L1491.6 288.9ZM1506.8 299.9L1515.9 284L1497.6 284ZM1512.7 295.3L1521.9 279.4L1503.5 279.4ZM1518.7 291.3L1527.9 275.4L1509.5 275.4ZM1524.6 285.8L1533.8 269.9L1515.5 269.9ZM1530.6 280.3L1539.8 264.3L1521.4 264.3ZM1536.6 274.6L1545.7 258.6L1527.4 258.6ZM1542.5 267.8L1551.7 251.8L1533.3 251.8ZM1548.5 259.6L1557.7 243.7L1539.3 243.7ZM1554.4 250.1L1563.6 234.2L1545.3 234.2ZM1560.4 241.1L1569.6 225.2L1551.2 225.2ZM1566.4 234.3L1575.5 218.4L1557.2 218.4ZM1572.3 228L1581.5 212.1L1563.1 212.1ZM1578.3 220.7L1587.5 204.7L1569.1 204.7ZM1584.2 102.5L1593.4 86.6L1575.1 86.6ZM1590.2 102.5L1599.4 86.6L1581 86.6ZM1596.2 102.5L1605.3 86.6L1587 86.6ZM1602.1 102.5L1611.3 86.6L1592.9 86.6ZM1608.1 102.5L1617.2 86.6L1598.9 86.6ZM1614 102.5L1623.2 86.6L1604.9 86.6ZM1620 102.5L1629.2 86.6L1610.8 86.6ZM1625.9 102.5L1635.1 86.6L1616.8 86.6ZM1631.9 102.5L1641.1 86.6L1622.7 86.6ZM1637.9 102.5L1647 86.6L1628.7 86.6ZM1643.8 102.5L1653 86.6L1634.6 86.6ZM1649.8 102.5L1659 86.6L1640.6 86.6ZM1655.7 102.5L1664.9 86.6L1646.6 86.6ZM1661.7 102.5L1670.9 86.6L1652.5 86.6ZM1667.7 102.5L1676.8 86.6L1658.5 86.6ZM1673.6 102.5L1682.8 86.6L1664.4 86.6ZM1679.6 102.5L1688.8 86.6L1670.4 86.6ZM1685.5 102.5L1694.7 86.6L1676.4 86.6ZM1691.5 102.5L1700.7 86.6L1682.3 86.6ZM1697.5 102.5L1706.6 86.6L1688.3 86.6ZM1703.4 102.5L1712.6 86.6L1694.2 86.6ZM1709.4 102.5L1718.6 86.6L1700.2 86.6ZM1715.3 102.5L1724.5 86.6L1706.2 86.6ZM1721.3 102.5L1730.5 86.6L1712.1 86.6ZM1727.3 102.5L1736.4 86.6L1718.1 86.6ZM1733.2 102.5L1742.4 86.6L1724 86.6ZM1739.2 102.5L1748.3 86.6L1730 86.6ZM1745.1 102.5L1754.3 86.6L1735.9 86.6ZM1751.1 102.5L1760.3 86.6L1741.9 86.6ZM1757 102.5L1766.2 86.6L1747.9 86.6ZM1763 102.5L1772.2 86.6L1753.8 86.6ZM1769 102.5L1778.1 86.6L1759.8 86.6ZM1774.9 102.5L1784.1 86.6L1765.7 86.6ZM1780.9 102.5L1790.1 86.6L1771.7 86.6ZM1786.8 102.5L1796 86.6L1777.7 86.6ZM1792.8 102.5L1802 86.6L1783.6 86.6ZM1578.3 102.5L1587.5 86.6L1569.1 86.6ZM1572.3 102.5L1581.5 86.6L1563.1 86.6ZM1566.4 102.5L1575.5 86.6L1557.2 86.6ZM1560.4 102.5L1569.6 86.6L1551.2 86.6ZM1554.4 102.5L1563.6 86.6L1545.3 86.6ZM1548.5 102.5L1557.7 86.6L1539.3 86.6ZM1542.5 102.5L1551.7 86.6L1533.3 86.6ZM1536.6 102.5L1545.7 86.6L1527.4 86.6ZM1530.6 102.5L1539.8 86.6L1521.4 86.6ZM1524.6 102.5L1533.8 86.6L1515.5 86.6ZM1518.7 102.5L1527.9 86.6L1509.5 86.6ZM1512.7 102.5L1521.9 86.6L1503.5 86.6ZM1506.8 102.5L1515.9 86.6L1497.6 86.6ZM1500.8 102.5L1510 86.6L1491.6 86.6ZM1494.9 102.5L1504 86.6L1485.7 86.6ZM1488.9 102.5L1498.1 86.6L1479.7 86.6ZM1482.9 102.5L1492.1 86.6L1473.8 86.6ZM1477 102.5L1486.2 86.6L1467.8 86.6ZM1471 102.5L1480.2 86.6L1461.8 86.6ZM1465.1 102.5L1474.2 86.6L1455.9 86.6ZM1459.1 102.5L1468.3 86.6L1449.9 86.6ZM1453.1 102.5L1462.3 86.6L1444 86.6ZM1447.2 102.5L1456.4 86.6L1438 86.6ZM1441.2 102.5L1450.4 86.6L1432 86.6ZM1435.3 102.5L1444.4 86.6L1426.1 86.6ZM1429.3 102.8L1438.5 86.9L1420.1 86.9ZM1423.3 106L1432.5 90.1L1414.2 90.1ZM1417.4 368.4L1426.6 352.5L1408.2 352.5ZM1411.4 372.7L1420.6 356.8L1402.2 356.8ZM1405.5 376.1L1414.6 360.2L1396.3 360.2ZM1399.5 380.4L1408.7 364.5L1390.3 364.5ZM1393.5 385L1402.7 369.1L1384.4 369.1ZM1387.6 389.8L1396.8 373.8L1378.4 373.8ZM1381.6 394.8L1390.8 378.9L1372.5 378.9ZM1375.7 399L1384.8 383L1366.5 383ZM1369.7 403.6L1378.9 387.6L1360.5 387.6ZM1363.8 407.3L1372.9 391.4L1354.6 391.4ZM1357.8 411L1367 395L1348.6 395ZM1351.8 414.7L1361 398.7L1342.7 398.7ZM1345.9 418.8L1355.1 402.8L1336.7 402.8ZM1339.9 423.7L1349.1 407.7L1330.7 407.7ZM1334 428.1L1343.1 412.1L1324.8 412.1ZM1328 432.9L1337.2 417L1318.8 417ZM1322 437.8L1331.2 421.8L1312.9 421.8ZM1316.1 443L1325.3 427.1L1306.9 427.1ZM1310.1 447.7L1319.3 431.7L1300.9 431.7ZM1304.2 452.5L1313.3 436.5L1295 436.5ZM1298.2 457.6L1307.4 441.7L1289 441.7ZM1292.2 462.3L1301.4 446.4L1283.1 446.4ZM1286.3 467.7L1295.5 451.7L1277.1 451.7ZM1280.3 473L1289.5 457.1L1271.1 457.1ZM1274.4 477.7L1283.5 461.8L1265.2 461.8ZM1268.4 483L1277.6 467.1L1259.2 467.1ZM1262.4 487.3L1271.6 471.4L1253.3 471.4ZM1256.5 492.5L1265.7 476.6L1247.3 476.6ZM1250.5 497.6L1259.7 481.7L1241.4 481.7ZM1244.6 503.2L1253.8 487.3L1235.4 487.3ZM1238.6 510.1L1247.8 494.1L1229.4 494.1ZM1232.7 516.6L1241.8 500.6L1223.5 500.6ZM1226.7 524.4L1235.9 508.5L1217.5 508.5ZM1220.7 532.3L1229.9 516.4L1211.6 516.4ZM1214.8 541.8L1224 525.8L1205.6 525.8ZM1208.8 552.3L1218 536.4L1199.6 536.4ZM1202.9 563L1212 547.1L1193.7 547.1Z"/>
</g>
<g>
<polyline fill="none" stroke="#ff00ff" stroke-width="0.6" points="1202.9,545 1208.8,533.4 1214.8,521.8 1220.7,512.5 1226.7,503.6 1232.7,495.1 1238.6,488.5 1244.6,482.4 1250.5,476.6 1256.5,471.1 1262.4,467 1268.4,462.6 1274.4,456.2 1280.3,452.1 1286.3,446.7 1292.2,441.1 1298.2,436.2 1304.2,431.8 1310.1,426.3 1316.1,421.5 1322,416.8 1328,412.9 1334,407.6 1339.9,402.4 1345.9,398.8 1351.8,394.9 1357.8,390.8 1363.8,386.4 1369.7,383.4 1375.7,378.7 1381.6,374.6 1387.6,370 1393.5,365.4 1399.5,361.1 1405.5,357 1411.4,352.6 1417.4,348.7 1423.3,344.5 1429.3,341.2 1435.3,338.4 1441.2,334.3 1447.2,331.8 1453.1,328.7 1459.1,324.5 1465.1,321.2 1471,316.5 1477,312 1482.9,306.2 1488.9,301.5 1494.9,296.7 1500.8,291.5 1506.8,286.9 1512.7,282.5 1518.7,278.1 1524.6,272.3 1530.6,267.3 1536.6,260.5 1542.5,254.5 1548.5,246.2 1554.4,237.2 1560.4,229.4 1566.4,223.5 1572.3,218.7 1578.3,92 1584.2,92 1590.2,92 1596.2,92 1602.1,92 1608.1,92 1614,92 1620,92 1625.9,92 1631.9,92 1637.9,92 1643.8,92 1649.8,92 1655.7,92 1661.7,92 1667.7,92 1673.6,92 1679.6,92 1685.5,92 1691.5,92 1697.5,92 1703.4,92 1709.4,92 1715.3,92 1721.3,92 1727.3,92 1733.2,92 1739.2,92 1745.1,92 1751.1,92 1757,92 1763,92 1769,92 1774.9,92 1780.9,92 1786.8,92 1792.8,92"/>
<polyline fill="none" stroke="#ff00ff" stroke-width="0.6" points="1792.8,92 1786.8,92 1780.9,92 1774.9,92 1769,92 1763,92 1757,92 1751.1,92 1745.1,92 1739.2,92 1733.2,92 1727.3,92 1721.3,92 1715.3,92 1709.4,92 1703.4,92 1697.5,92 1691.5,92 1685.5,92 1679.6,92 1673.6,92 1667.7,92 1661.7,92 1655.7,92 1649.8,92 1643.8,92 1637.9,92 1631.9,92 1625.9,92 1620,92 1614,92 1608.1,92 1602.1,92 1596.2,92 1590.2,92 1584.2,92 1578.3,92 1572.3,92 1566.4,92 1560.4,92 1554.4,92 1548.5,92 1542.5,92 1536.6,92 1530.6,92 1524.6,92 1518.7,92 1512.7,92 1506.8,92 1500.8,92 1494.9,92 1488.9,92 1482.9,92 1477,92 1471,92 1465.1,92 1459.1,92 1453.1,92 1447.2,92 1441.2,92 1435.3,92 1429.3,92.5 1423.3,94.3 1417.4,355.1 1411.4,359.2 1405.5,362.9 1399.5,367.6 1393.5,372.1 1387.6,376.6 1381.6,381.2 1375.7,385.9 1369.7,390.1 1363.8,394.2 1357.8,398.5 1351.8,402.5 1345.9,406.6 1339.9,410.6 1334,416.2 1328,420.7 1322,426 1316.1,429.9 1310.1,435.5 1304.2,440.3 1298.2,445.2 1292.2,450.5 1286.3,455.5 1280.3,460.5 1274.4,465.1 1268.4,470.4 1262.4,475.3 1256.5,479.7 1250.5,485.8 1244.6,491.2 1238.6,497.1 1232.7,503.9 1226.7,512 1220.7,520.4 1214.8,529.5 1208.8,539 1202.9,551"/>
<path fill="#ff00ff" d="M1192.3 545L1208.2 535.8L1208.2 554.2ZM1198.3 533.4L1214.2 524.2L1214.2 542.6ZM1204.2 521.8L1220.2 512.6L1220.2 530.9ZM1210.2 512.5L1226.1 503.3L1226.1 521.7ZM1216.1 503.6L1232.1 494.5L1232.1 512.8ZM1222.1 495.1L1238 485.9L1238 504.3ZM1228.1 488.5L1244 479.3L1244 497.7ZM1234 482.4L1250 473.2L1250 491.6ZM1240 476.6L1255.9 467.5L1255.9 485.8ZM1245.9 471.1L1261.9 461.9L1261.9 480.3ZM1251.9 467L1267.8 457.8L1267.8 476.2ZM1257.9 462.6L1273.8 453.5L1273.8 471.8ZM1263.8 456.2L1279.7 447L1279.7 465.4ZM1269.8 452.1L1285.7 442.9L1285.7 461.3ZM1275.7 446.7L1291.7 437.5L1291.7 455.9ZM1281.7 441.1L1297.6 431.9L1297.6 450.3ZM1287.7 436.2L1303.6 427L1303.6 445.4ZM1293.6 431.8L1309.5 422.6L1309.5 440.9ZM1299.6 426.3L1315.5 417.1L1315.5 435.4ZM1305.5 421.5L1321.5 412.3L1321.5 430.7ZM1311.5 416.8L1327.4 407.6L1327.4 426ZM1317.4 412.9L1333.4 403.8L1333.4 422.1ZM1323.4 407.6L1339.3 398.4L1339.3 416.8ZM1329.4 402.4L1345.3 393.3L1345.3 411.6ZM1335.3 398.8L1351.3 389.7L1351.3 408ZM1341.3 394.9L1357.2 385.7L1357.2 404.1ZM1347.2 390.8L1363.2 381.6L1363.2 400ZM1353.2 386.4L1369.1 377.2L1369.1 395.5ZM1359.2 383.4L1375.1 374.2L1375.1 392.6ZM1365.1 378.7L1381.1 369.5L1381.1 387.8ZM1371.1 374.6L1387 365.4L1387 383.8ZM1377 370L1393 360.8L1393 379.2ZM1383 365.4L1398.9 356.2L1398.9 374.5ZM1389 361.1L1404.9 351.9L1404.9 370.3ZM1394.9 357L1410.8 347.8L1410.8 366.2ZM1400.9 352.6L1416.8 343.4L1416.8 361.7ZM1406.8 348.7L1422.8 339.5L1422.8 357.9ZM1412.8 344.5L1428.7 335.3L1428.7 353.7ZM1418.8 341.2L1434.7 332.1L1434.7 350.4ZM1424.7 338.4L1440.6 329.2L1440.6 347.5ZM1430.7 334.3L1446.6 325.1L1446.6 343.5ZM1436.6 331.8L1452.6 322.7L1452.6 341ZM1442.6 328.7L1458.5 319.5L1458.5 337.9ZM1448.5 324.5L1464.5 315.3L1464.5 333.7ZM1454.5 321.2L1470.4 312L1470.4 330.4ZM1460.5 316.5L1476.4 307.4L1476.4 325.7ZM1466.4 312L1482.4 302.8L1482.4 321.2ZM1472.4 306.2L1488.3 297L1488.3 315.3ZM1478.3 301.5L1494.3 292.3L1494.3 310.7ZM1484.3 296.7L1500.2 287.5L1500.2 305.8ZM1490.3 291.5L1506.2 282.3L1506.2 300.7ZM1496.2 286.9L1512.1 277.7L1512.1 296.1ZM1502.2 282.5L1518.1 273.4L1518.1 291.7ZM1508.1 278.1L1524.1 268.9L1524.1 287.2ZM1514.1 272.3L1530 263.1L1530 281.5ZM1520.1 267.3L1536 258.1L1536 276.5ZM1526 260.5L1541.9 251.4L1541.9 269.7ZM1532 254.5L1547.9 245.3L1547.9 263.6ZM1537.9 246.2L1553.9 237L1553.9 255.4ZM1543.9 237.2L1559.8 228L1559.8 246.3ZM1549.8 229.4L1565.8 220.3L1565.8 238.6ZM1555.8 223.5L1571.7 214.3L1571.7 232.7ZM1561.8 218.7L1577.7 209.6L1577.7 227.9ZM1567.7 92L1583.7 82.8L1583.7 101.2ZM1573.7 92L1589.6 82.8L1589.6 101.2ZM1579.6 92L1595.6 82.8L1595.6 101.2ZM1585.6 92L1601.5 82.8L1601.5 101.2ZM1591.6 92L1607.5 82.8L1607.5 101.2ZM1597.5 92L1613.5 82.8L1613.5 101.2ZM1603.5 92L1619.4 82.8L1619.4 101.2ZM1609.4 92L1625.4 82.8L1625.4 101.2ZM1615.4 92L1631.3 82.8L1631.3 101.2ZM1621.4 92L1637.3 82.8L1637.3 101.2ZM1627.3 92L1643.2 82.8L1643.2 101.2ZM1633.3 92L1649.2 82.8L1649.2 101.2ZM1639.2 92L1655.2 82.8L1655.2 101.2ZM1645.2 92L1661.1 82.8L1661.1 101.2ZM1651.2 92L1667.1 82.8L1667.1 101.2ZM1657.1 92L1673 82.8L1673 101.2ZM1663.1 92L1679 82.8L1679 101.2ZM1669 92L1685 82.8L1685 101.2ZM1675 92L1690.9 82.8L1690.9 101.2ZM1680.9 92L1696.9 82.8L1696.9 101.2ZM1686.9 92L1702.8 82.8L1702.8 101.2ZM1692.9 92L1708.8 82.8L1708.8 101.2ZM1698.8 92L1714.8 82.8L1714.8 101.2ZM1704.8 92L1720.7 82.8L1720.7 101.2ZM1710.7 92L1726.7 82.8L1726.7 101.2ZM1716.7 92L1732.6 82.8L1732.6 101.2ZM1722.7 92L1738.6 82.8L1738.6 101.2ZM1728.6 92L1744.5 82.8L1744.5 101.2ZM1734.6 92L1750.5 82.8L1750.5 101.2ZM1740.5 92L1756.5 82.8L1756.5 101.2ZM1746.5 92L1762.4 82.8L1762.4 101.2ZM1752.5 92L1768.4 82.8L1768.4 101.2ZM1758.4 92L1774.3 82.8L1774.3 101.2ZM1764.4 92L1780.3 82.8L1780.3 101.2ZM1770.3 92L1786.3 82.8L1786.3 101.2ZM1776.3 92L1792.2 82.8L1792.2 101.2ZM1782.3 92L1798.2 82.8L1798.2 101.2ZM1561.8 92L1577.7 82.8L1577.7 101.2ZM1555.8 92L1571.7 82.8L1571.7 101.2ZM1549.8 92L1565.8 82.8L1565.8 101.2ZM1543.9 92L1559.8 82.8L1559.8 101.2ZM1537.9 92L1553.9 82.8L1553.9 101.2ZM1532 92L1547.9 82.8L1547.9 101.2ZM1526 92L1541.9 82.8L1541.9 101.2ZM1520.1 92L1536 82.8L1536 101.2ZM1514.1 92L1530 82.8L1530 101.2ZM1508.1 92L1524.1 82.8L1524.1 101.2ZM1502.2 92L1518.1 82.8L1518.1 101.2ZM1496.2 92L1512.1 82.8L1512.1 101.2ZM1490.3 92L1506.2 82.8L1506.2 101.2ZM1484.3 92L1500.2 82.8L1500.2 101.2ZM1478.3 92L1494.3 82.8L1494.3 101.2ZM1472.4 92L1488.3 82.8L1488.3 101.2ZM1466.4 92L1482.4 82.8L1482.4 101.2ZM1460.5 92L1476.4 82.8L1476.4 101.2ZM1454.5 92L1470.4 82.8L1470.4 101.2ZM1448.5 92L1464.5 82.8L1464.5 101.2ZM1442.6 92L1458.5 82.8L1458.5 101.2ZM1436.6 92L1452.6 82.8L1452.6 101.2ZM1430.7 92L1446.6 82.8L1446.6 101.2ZM1424.7 92L1440.6 82.8L1440.6 101.2ZM1418.8 92.5L1434.7 83.3L1434.7 101.7ZM1412.8 94.3L1428.7 85.1L1428.7 103.5ZM1406.8 355.1L1422.8 345.9L1422.8 364.2ZM1400.9 359.2L1416.8 350L1416.8 368.4ZM1394.9 362.9L1410.8 353.7L1410.8 372.1ZM1389 367.6L1404.9 358.5L1404.9 376.8ZM1383 372.1L1398.9 362.9L1398.9 381.3ZM1377 376.6L1393 367.4L1393 385.8ZM1371.1 381.2L1387 372L1387 390.3ZM1365.1 385.9L1381.1 376.7L1381.1 395.1ZM1359.2 390.1L1375.1 381L1375.1 399.3ZM1353.2 394.2L1369.1 385L1369.1 403.4ZM1347.2 398.5L1363.2 389.4L1363.2 407.7ZM1341.3 402.5L1357.2 393.3L1357.2 411.7ZM1335.3 406.6L1351.3 397.5L1351.3 415.8ZM1329.4 410.6L1345.3 401.5L1345.3 419.8ZM1323.4 416.2L1339.3 407L1339.3 425.3ZM1317.4 420.7L1333.4 411.6L1333.4 429.9ZM1311.5 426L1327.4 416.8L1327.4 435.1ZM1305.5 429.9L1321.5 420.7L1321.5 439.1ZM1299.6 435.5L1315.5 426.3L1315.5 444.7ZM1293.6 440.3L1309.5 431.1L1309.5 449.5ZM1287.7 445.2L1303.6 436L1303.6 454.4ZM1281.7 450.5L1297.6 441.3L1297.6 459.6ZM1275.7 455.5L1291.7 446.3L1291.7 464.7ZM1269.8 460.5L1285.7 451.3L1285.7 469.7ZM1263.8 465.1L1279.7 455.9L1279.7 474.3ZM1257.9 470.4L1273.8 461.3L1273.8 479.6ZM1251.9 475.3L1267.8 466.1L1267.8 484.5ZM1245.9 479.7L1261.9 470.5L1261.9 488.9ZM1240 485.8L1255.9 476.6L1255.9 495ZM1234 491.2L1250 482L1250 500.4ZM1228.1 497.1L1244 487.9L1244 506.3ZM1222.1 503.9L1238 494.8L1238 513.1ZM1216.1 512L1232.1 502.8L1232.1 521.2ZM1210.2 520.4L1226.1 511.2L1226.1 529.6ZM1204.2 529.5L1220.2 520.3L1220.2 538.7ZM1198.3 539L1214.2 529.9L1214.2 548.2ZM1192.3 551L1208.2 541.8L1208.2 560.2Z"/>
</g>
<path d="M1137.4 72.5h6.3M1852.3 72.5h-6.3M1137.4 61h6.3M1852.3 61h-6.3M1137.4 52.9h6.3M1852.3 52.9h-6.3M1137.4 46.6h6.3M1852.3 46.6h-6.3M1137.4 41.4h6.3M1852.3 41.4h-6.3M1137.4 37.1h6.3M1852.3 37.1h-6.3M1137.4 33.3h6.3M1852.3 33.3h-6.3M1137.4 30h6.3M1852.3 30h-6.3M1137.4 92.1h12M1852.3 92.1h-12M1137.4 137.6h6.3M1852.3 137.6h-6.3M1137.4 126.1h6.3M1852.3 126.1h-6.3M1137.4 118h6.3M1852.3 118h-6.3M1137.4 111.7h6.3M1852.3 111.7h-6.3M1137.4 106.5h6.3M1852.3 106.5h-6.3M1137.4 102.2h6.3M1852.3 102.2h-6.3M1137.4 98.4h6.3M1852.3 98.4h-6.3M1137.4 95.1h6.3M1852.3 95.1h-6.3M1137.4 157.2h12M1852.3 157.2h-12M1137.4 202.7h6.3M1852.3 202.7h-6.3M1137.4 191.2h6.3M1852.3 191.2h-6.3M1137.4 183.1h6.3M1852.3 183.1h-6.3M1137.4 176.8h6.3M1852.3 176.8h-6.3M1137.4 171.6h6.3M1852.3 171.6h-6.3M1137.4 167.3h6.3M1852.3 167.3h-6.3M1137.4 163.5h6.3M1852.3 163.5h-6.3M1137.4 160.2h6.3M1852.3 160.2h-6.3M1137.4 222.3h12M1852.3 222.3h-12M1137.4 267.8h6.3M1852.3 267.8h-6.3M1137.4 256.3h6.3M1852.3 256.3h-6.3M1137.4 248.2h6.3M1852.3 248.2h-6.3M1137.4 241.9h6.3M1852.3 241.9h-6.3M1137.4 236.7h6.3M1852.3 236.7h-6.3M1137.4 232.3h6.3M1852.3 232.3h-6.3M1137.4 228.6h6.3M1852.3 228.6h-6.3M1137.4 225.2h6.3M1852.3 225.2h-6.3M1137.4 287.4h12M1852.3 287.4h-12M1137.4 332.9h6.3M1852.3 332.9h-6.3M1137.4 321.4h6.3M1852.3 321.4h-6.3M1137.4 313.3h6.3M1852.3 313.3h-6.3M1137.4 306.9h6.3M1852.3 306.9h-6.3M1137.4 301.8h6.3M1852.3 301.8h-6.3M1137.4 297.4h6.3M1852.3 297.4h-6.3M1137.4 293.7h6.3M1852.3 293.7h-6.3M1137.4 290.3h6.3M1852.3 290.3h-6.3M1137.4 352.4h12M1852.3 352.4h-12M1137.4 397.9h6.3M1852.3 397.9h-6.3M1137.4 386.5h6.3M1852.3 386.5h-6.3M1137.4 378.3h6.3M1852.3 378.3h-6.3M1137.4 372h6.3M1852.3 372h-6.3M1137.4 366.9h6.3M1852.3 366.9h-6.3M1137.4 362.5h6.3M1852.3 362.5h-6.3M1137.4 358.8h6.3M1852.3 358.8h-6.3M1137.4 355.4h6.3M1852.3 355.4h-6.3M1137.4 417.5h12M1852.3 417.5h-12M1137.4 463h6.3M1852.3 463h-6.3M1137.4 451.6h6.3M1852.3 451.6h-6.3M1137.4 443.4h6.3M1852.3 443.4h-6.3M1137.4 437.1h6.3M1852.3 437.1h-6.3M1137.4 432h6.3M1852.3 432h-6.3M1137.4 427.6h6.3M1852.3 427.6h-6.3M1137.4 423.8h6.3M1852.3 423.8h-6.3M1137.4 420.5h6.3M1852.3 420.5h-6.3M1137.4 482.6h12M1852.3 482.6h-12M1137.4 528.1h6.3M1852.3 528.1h-6.3M1137.4 516.7h6.3M1852.3 516.7h-6.3M1137.4 508.5h6.3M1852.3 508.5h-6.3M1137.4 502.2h6.3M1852.3 502.2h-6.3M1137.4 497.1h6.3M1852.3 497.1h-6.3M1137.4 492.7h6.3M1852.3 492.7h-6.3M1137.4 488.9h6.3M1852.3 488.9h-6.3M1137.4 485.6h6.3M1852.3 485.6h-6.3M1137.4 547.7h12M1852.3 547.7h-12M1137.4 593.2h6.3M1852.3 593.2h-6.3M1137.4 581.7h6.3M1852.3 581.7h-6.3M1137.4 573.6h6.3M1852.3 573.6h-6.3M1137.4 567.3h6.3M1852.3 567.3h-6.3M1137.4 562.2h6.3M1852.3 562.2h-6.3M1137.4 557.8h6.3M1852.3 557.8h-6.3M1137.4 554h6.3M1852.3 554h-6.3M1137.4 550.7h6.3M1852.3 550.7h-6.3M1196.9 27v12M1196.9 612.8v-12M1256.5 27v6M1256.5 612.8v-6M1316.1 27v12M1316.1 612.8v-12M1375.7 27v6M1375.7 612.8v-6M1435.3 27v12M1435.3 612.8v-12M1494.9 27v6M1494.9 612.8v-6M1554.4 27v12M1554.4 612.8v-12M1614 27v6M1614 612.8v-6M1673.6 27v12M1673.6 612.8v-12M1733.2 27v6M1733.2 612.8v-6M1792.8 27v12M1792.8 612.8v-12" stroke="#000" stroke-width="1.7" fill="none"/>
<rect x="1702.8" y="430.9" width="145" height="177" fill="#fff"/>
<rect x="1702.3" y="430" width="1.7" height="178" fill="#a6a6a6"/>
<rect x="1702.3" y="430" width="145.7" height="1" fill="#4a4a4a"/>
<rect x="1847" y="430" width="1" height="178" fill="#000"/>
<rect x="1702.3" y="607" width="145.7" height="1" fill="#5a5a5a"/>
<g font-family='"Liberation Sans", Arial, Helvetica, sans-serif' font-size="28.5" fill="#000">
<path d="M1708 449.5H1772.4" stroke="#000000" stroke-width="1" stroke-opacity="0.62" fill="none"/>
<path fill="#000000" d="M1733.2 442.9h13.5v13.5h-13.5Z"/>
<text x="1780.3" y="457.2">Cyc1</text>
<path d="M1708 485.5H1772.4" stroke="#ff0000" stroke-width="1" stroke-opacity="0.62" fill="none"/>
<path fill="#ff0000" d="M1732.5 485.1a7.5 7.5 0 1 0 15 0a7.5 7.5 0 1 0 -15 0Z"/>
<text x="1780.3" y="492.7">Cyc2</text>
<path d="M1708 520.5H1772.4" stroke="#0000ff" stroke-width="1" stroke-opacity="0.62" fill="none"/>
<path fill="#0000ff" d="M1740 509.9L1749.2 525.9L1730.8 525.9Z"/>
<text x="1780.3" y="528.1">Cyc3</text>
<path d="M1708 555.5H1772.4" stroke="#008080" stroke-width="1" stroke-opacity="0.62" fill="none"/>
<path fill="#008080" d="M1740 566.5L1749.2 550.6L1730.8 550.6Z"/>
<text x="1780.3" y="563.6">Cyc4</text>
<path d="M1708 591.5H1772.4" stroke="#ff00ff" stroke-width="1" stroke-opacity="0.62" fill="none"/>
<path fill="#ff00ff" d="M1729.5 591.4L1745.4 582.2L1745.4 600.6Z"/>
<text x="1780.3" y="599">Cyc5</text>
</g>
<rect x="1137.4" y="27" width="714.9" height="585.8" fill="none" stroke="#000" stroke-width="2"/>
<g font-family='"Liberation Sans", Arial, Helvetica, sans-serif' font-weight="bold" font-size="36.8" fill="#000">
<text transform="translate(1125.4 36.6) scale(0.975 1)" text-anchor="end">1E-3</text>
<text transform="translate(1125.4 101.7) scale(0.975 1)" text-anchor="end">1E-4</text>
<text transform="translate(1125.4 166.8) scale(0.975 1)" text-anchor="end">1E-5</text>
<text transform="translate(1125.4 231.9) scale(0.975 1)" text-anchor="end">1E-6</text>
<text transform="translate(1125.4 297) scale(0.975 1)" text-anchor="end">1E-7</text>
<text transform="translate(1125.4 362) scale(0.975 1)" text-anchor="end">1E-8</text>
<text transform="translate(1125.4 427.1) scale(0.975 1)" text-anchor="end">1E-9</text>
<text transform="translate(1125.4 492.2) scale(0.975 1)" text-anchor="end">1E-10</text>
<text transform="translate(1125.4 557.3) scale(0.975 1)" text-anchor="end">1E-11</text>
<text transform="translate(1125.4 622.4) scale(0.975 1)" text-anchor="end">1E-12</text>
<text x="1196.9" y="653.2" text-anchor="middle">0</text>
<text x="1316.1" y="653.2" text-anchor="middle">1</text>
<text x="1435.3" y="653.2" text-anchor="middle">2</text>
<text x="1554.4" y="653.2" text-anchor="middle">3</text>
<text x="1673.6" y="653.2" text-anchor="middle">4</text>
<text x="1792.8" y="653.2" text-anchor="middle">5</text>
</g>
<g font-family='"Liberation Sans", Arial, Helvetica, sans-serif' font-weight="bold" fill="#000">
<text x="1485.4" y="693.4" font-size="46.6" text-anchor="middle">Voltage (Volt)</text>
<text transform="translate(1010.8 331.3) rotate(-90)" font-size="47.7" text-anchor="middle">Current (A)</text>
</g>
<g font-family='"Liberation Sans", Arial, Helvetica, sans-serif' font-size="28.8" fill="#000">
<text x="1535.5" y="72">3.15V/1.2uA</text>
<text x="1627" y="188.4">4.5V/1.1uA</text>
<text x="1250" y="358.8">1V/0.8nA</text>
<text x="1317" y="527">1V/0.1nA</text>
</g>
<text x="1491.4" y="781.8" text-anchor="middle" font-family='"Liberation Serif", "Times New Roman", serif' font-size="59.7">(b)</text>
</g>
</svg></body></html>
